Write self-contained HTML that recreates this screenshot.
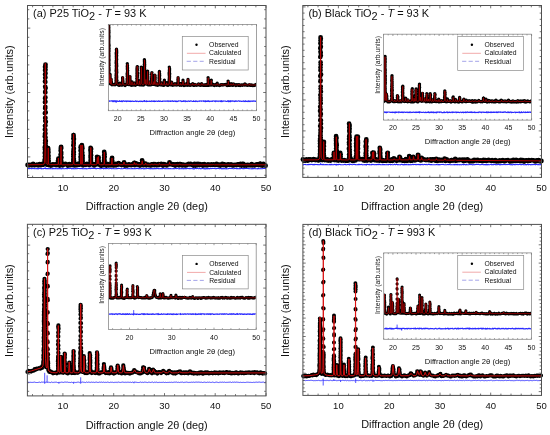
<!DOCTYPE html><html><head><meta charset="utf-8"><style>html,body{margin:0;padding:0;background:#fff;overflow:hidden}svg{display:block;will-change:transform}text{font-family:"Liberation Sans", sans-serif}</style></head><body>
<svg width="550" height="435" viewBox="0 0 550 435">
<rect width="550" height="435" fill="#fff"/>
<clipPath id="c1"><rect x="24.5" y="6" width="244.5" height="171"/></clipPath>
<g clip-path="url(#c1)"><polyline points="27.5,168.5 28,168.4 28.5,168.7 29,168.4 29.5,168.6 30,168.5 30.5,168.4 31.1,168.6 31.6,168.4 32.1,168.6 32.6,168.4 33.1,168.4 33.6,168.6 34.1,168.8 34.6,168.4 35.1,168.5 35.6,168.7 36.1,168.8 36.6,168.6 37.1,168.5 37.6,168.8 38.2,168.4 38.7,168.8 39.2,168.5 39.7,168.4 40.2,168.4 40.7,168.5 41.2,168.8 41.7,168.4 42.2,168.6 42.7,168.7 43.2,168.5 43.7,168.6 44.2,168.4 44.8,168.4 45.3,168.5 45.3,168.6 45.8,168.7 46.3,168.6 46.8,168.5 47.3,168.6 47.8,168.6 48.3,168.5 48.8,168.7 49.3,168.7 49.8,168.5 50.3,168.6 50.8,168.6 51.3,168.8 51.9,168.7 52.4,168.5 52.9,168.8 53.4,168.4 53.9,168.6 54.4,168.7 54.9,168.4 55.4,168.6 55.9,168.4 56.4,168.7 56.9,168.7 57.4,168.6 57.9,168.8 58.5,168.5 59,168.7 59.5,168.6 60,168.6 60.5,168.6 61,168.8 61,168.6 61.5,168.8 62,168.6 62.5,168.7 63,168.4 63.5,168.7 64,168.7 64.5,168.8 65.1,168.8 65.6,168.5 66.1,168.5 66.6,168.7 67.1,168.4 67.6,168.6 68.1,168.4 68.6,168.4 69.1,168.4 69.6,168.7 70.1,168.4 70.6,168.5 71.1,168.5 71.6,168.8 72.2,168.4 72.7,168.6 73.2,168.6 73.7,168.8 73.7,168.6 74.2,168.8 74.7,168.8 75.2,168.5 75.7,168.6 76.2,168.5 76.7,168.8 77.2,168.8 77.7,168.4 78.2,168.4 78.8,168.5 79.3,168.5 79.8,168.6 80.3,168.6 80.8,168.5 81.3,168.4 81.8,168.6 82.3,168.5 82.8,168.6 83.3,168.8 83.8,168.7 84.3,168.6 84.8,168.7 85.3,168.7 85.9,168.4 86.4,168.8 86.9,168.7 87.4,168.8 87.9,168.7 88.4,168.5 88.9,168.5 89.4,168.4 89.9,168.7 90.4,168.4 90.9,168.4 90.9,168.6 91.4,168.5 91.9,168.4 92.5,168.5 93,168.4 93.5,168.4 94,168.4 94.5,168.4 95,168.5 95.5,168.4 96,168.8 96.5,168.7 97,168.4 97.5,168.5 98,168.5 98.5,168.5 99,168.4 99.6,168.8 100.1,168.8 100.6,168.6 101.1,168.6 101.6,168.4 102.1,168.4 102.6,168.5 103.1,168.5 103.6,168.8 104.1,168.4 104.6,168.4 105.1,168.8 105.6,168.6 106.2,168.4 106.7,168.6 107.2,168.4 107.7,168.6 108.2,168.8 108.7,168.8 109.2,168.7 109.7,168.5 110.2,168.5 110.7,168.4 111.2,168.7 111.7,168.6 112.2,168.7 112.8,168.5 113.3,168.5 113.8,168.8 114.3,168.8 114.8,168.8 115.3,168.8 115.8,168.8 116.3,168.7 116.8,168.5 117.3,168.6 117.8,168.5 118.3,168.4 118.8,168.4 119.3,168.5 119.9,168.5 120.4,168.7 120.9,168.8 121.4,168.6 121.9,168.8 122.4,168.8 122.9,168.8 123.4,168.5 123.9,168.5 124.4,168.5 124.9,168.4 125.4,168.5 125.9,168.7 126.5,168.8 127,168.8 127.5,168.6 128,168.7 128.5,168.7 129,168.4 129.5,168.7 130,168.8 130.5,168.7 131,168.7 131.5,168.6 132,168.4 132.5,168.7 133,168.5 133.6,168.8 134.1,168.8 134.6,168.5 135.1,168.6 135.6,168.8 136.1,168.7 136.6,168.4 137.1,168.4 137.6,168.4 138.1,168.8 138.6,168.8 139.1,168.4 139.6,168.8 140.2,168.8 140.7,168.7 141.2,168.5 141.7,168.6 142.2,168.4 142.7,168.4 143.2,168.8 143.7,168.7 144.2,168.6 144.7,168.8 145.2,168.6 145.7,168.8 146.2,168.8 146.8,168.5 147.3,168.5 147.8,168.5 148.3,168.5 148.8,168.6 149.3,168.5 149.8,168.6 150.3,168.4 150.8,168.8 151.3,168.5 151.8,168.6 152.3,168.6 152.8,168.8 153.3,168.6 153.9,168.8 154.4,168.6 154.9,168.6 155.4,168.6 155.9,168.4 156.4,168.6 156.9,168.4 157.4,168.4 157.9,168.7 158.4,168.4 158.9,168.6 159.4,168.7 159.9,168.6 160.5,168.5 161,168.6 161.5,168.6 162,168.7 162.5,168.4 163,168.6 163.5,168.5 164,168.5 164.5,168.7 165,168.6 165.5,168.6 166,168.7 166.5,168.8 167,168.6 167.6,168.7 168.1,168.6 168.6,168.6 169.1,168.7 169.6,168.6 170.1,168.6 170.6,168.6 171.1,168.8 171.6,168.7 172.1,168.8 172.6,168.8 173.1,168.5 173.6,168.6 174.2,168.8 174.7,168.8 175.2,168.4 175.7,168.4 176.2,168.6 176.7,168.4 177.2,168.5 177.7,168.4 178.2,168.7 178.7,168.7 179.2,168.8 179.7,168.4 180.2,168.7 180.7,168.7 181.3,168.4 181.8,168.8 182.3,168.8 182.8,168.5 183.3,168.8 183.8,168.5 184.3,168.6 184.8,168.8 185.3,168.8 185.8,168.4 186.3,168.6 186.8,168.6 187.3,168.5 187.9,168.4 188.4,168.5 188.9,168.7 189.4,168.4 189.9,168.6 190.4,168.6 190.9,168.4 191.4,168.5 191.9,168.7 192.4,168.6 192.9,168.4 193.4,168.8 193.9,168.7 194.5,168.8 195,168.4 195.5,168.5 196,168.4 196.5,168.7 197,168.5 197.5,168.4 198,168.6 198.5,168.8 199,168.8 199.5,168.5 200,168.4 200.5,168.8 201,168.6 201.6,168.7 202.1,168.4 202.6,168.4 203.1,168.7 203.6,168.6 204.1,168.4 204.6,168.8 205.1,168.7 205.6,168.8 206.1,168.4 206.6,168.8 207.1,168.4 207.6,168.8 208.2,168.6 208.7,168.5 209.2,168.6 209.7,168.8 210.2,168.5 210.7,168.4 211.2,168.6 211.7,168.5 212.2,168.4 212.7,168.4 213.2,168.4 213.7,168.5 214.2,168.5 214.7,168.5 215.3,168.7 215.8,168.5 216.3,168.6 216.8,168.4 217.3,168.5 217.8,168.4 218.3,168.5 218.8,168.4 219.3,168.7 219.8,168.6 220.3,168.4 220.8,168.6 221.3,168.8 221.9,168.4 222.4,168.8 222.9,168.6 223.4,168.6 223.9,168.8 224.4,168.5 224.9,168.6 225.4,168.7 225.9,168.8 226.4,168.5 226.9,168.8 227.4,168.7 227.9,168.7 228.4,168.6 229,168.5 229.5,168.4 230,168.4 230.5,168.4 231,168.7 231.5,168.5 232,168.4 232.5,168.4 233,168.8 233.5,168.8 234,168.7 234.5,168.5 235,168.5 235.6,168.5 236.1,168.6 236.6,168.4 237.1,168.6 237.6,168.5 238.1,168.8 238.6,168.8 239.1,168.6 239.6,168.5 240.1,168.8 240.6,168.5 241.1,168.5 241.6,168.4 242.2,168.5 242.7,168.6 243.2,168.6 243.7,168.5 244.2,168.6 244.7,168.4 245.2,168.5 245.7,168.4 246.2,168.5 246.7,168.4 247.2,168.4 247.7,168.5 248.2,168.5 248.7,168.6 249.3,168.6 249.8,168.7 250.3,168.7 250.8,168.7 251.3,168.8 251.8,168.5 252.3,168.5 252.8,168.8 253.3,168.4 253.8,168.7 254.3,168.7 254.8,168.4 255.3,168.8 255.9,168.8 256.4,168.7 256.9,168.7 257.4,168.8 257.9,168.4 258.4,168.6 258.9,168.6 259.4,168.8 259.9,168.8 260.4,168.8 260.9,168.6 261.4,168.8 261.9,168.7 262.4,168.7 263,168.5 263.5,168.4 264,168.4 264.5,168.5 265,168.4 265.5,168.8 266,168.6" stroke="#2a2aff" stroke-width="1.1" fill="none"/><path d="M45.3 168.6v-1.5M61 168.6v-1M73.7 168.6v-1M90.9 168.6v-1" stroke="#2a2aff" stroke-width="0.8"/></g>
<g clip-path="url(#c1)">
<path d="M27.6 165h0M28.6 164.8h0M29.1 165.3h0M30.5 164.8h0M31.4 165.1h0M32.1 165.2h0M33.1 164h0M34.1 165.2h0M35 165.2h0M36.4 164.8h0M37 164.7h0M38.1 165.3h0M39.1 165h0M39.7 164.1h0M40.8 165.2h0M41.8 164.8h0M42.6 163.8h0M43.6 164.6h0M44.4 163.8h0M44.5 162.6h0M44.7 161.6h0M44.6 161h0M44.7 159.8h0M45.1 156.8h0M44.9 156.4h0M45.2 154.6h0M44.8 152.9h0M45.2 151.3h0M45 149.5h0M45 148.9h0M44.8 147.6h0M45 146.6h0M45.1 142.9h0M45.2 140.5h0M44.8 136.5h0M45 133.9h0M44.9 129.6h0M45 125.8h0M45.3 120.9h0M45.2 117.9h0M44.9 113.2h0M45.2 108.2h0M45 102.2h0M45.1 98.2h0M45.2 91.9h0M45.2 86.7h0M45 81.6h0M45.4 77.4h0M45.5 73.3h0M45.1 70.2h0M45.1 67.1h0M45.5 66.9h0M45.4 65.4h0M45.5 64.6h0M45.4 65.6h0M45.1 66.7h0M45.3 67.8h0M45.5 69.8h0M45.1 74.5h0M45.2 77.8h0M45.3 81.9h0M45.6 88h0M45.3 92.4h0M45.4 97.4h0M45.4 101.8h0M45.3 107h0M45.7 112.5h0M45.4 118h0M45.8 121.8h0M45.4 125.6h0M45.3 129.9h0M45.4 133.5h0M45.5 137.5h0M45.8 141h0M45.6 143.2h0M45.7 145.6h0M45.6 146.2h0M45.5 149h0M45.5 150.1h0M45.8 152.5h0M45.6 153h0M45.6 154.5h0M45.7 156.6h0M45.9 157.5h0M45.5 157.5h0M45.9 160.2h0M45.8 160.8h0M45.7 161.6h0M46.3 163.3h0M46.6 164.5h0M46.9 163.6h0M47.8 164.1h0M48.2 163.6h0M48.2 162h0M48.3 160h0M48.2 158.2h0M48.3 157.3h0M48.4 156.7h0M48.1 154.4h0M48.1 153.8h0M48.3 151.3h0M48 150.7h0M48.3 149.2h0M48.1 148.1h0M48.1 148.7h0M48.3 151h0M48.4 152.2h0M48.4 152.6h0M48.3 155.4h0M48.5 155.7h0M48.2 157.4h0M48.5 158.5h0M48.3 160.1h0M48.7 161h0M48.3 162.4h0M48.5 164.1h0M48.9 165.1h0M50.1 164.7h0M50.8 165.6h0M51.8 165.3h0M52.7 164.3h0M54 164.4h0M55.1 164.8h0M55.6 164.3h0M56.7 165.1h0M57.9 164.1h0M58.1 163.4h0M58.5 162h0M58 160.9h0M58.3 161.2h0M58.5 159.7h0M58.7 158.9h0M58.4 158.7h0M58.7 160.9h0M58.3 162h0M58.5 162.4h0M58.5 163.1h0M58.5 164.2h0M59.7 165.6h0M60.4 165.2h0M60.6 163h0M61 162.4h0M60.8 159.4h0M60.8 158.8h0M61.1 157.3h0M60.8 157.1h0M60.6 154.7h0M61.1 153.7h0M60.7 150.7h0M60.7 150.8h0M60.8 149h0M61.2 147.2h0M60.9 147.3h0M61.1 147h0M61.2 148.3h0M60.9 149.1h0M61.2 152.3h0M61.2 154h0M60.8 154.4h0M61.1 157.2h0M61.4 157.6h0M61 159h0M61.2 160.9h0M61 162.4h0M61.3 163.5h0M61.4 164.1h0M61.7 164.4h0M62.7 165.3h0M63.5 164.2h0M64.8 164.3h0M65.4 164h0M66.6 164.5h0M67.8 165.5h0M68.8 164.4h0M69.3 164.1h0M70.4 165.2h0M71.4 164.3h0M72.3 164.9h0M73.3 164.7h0M73.5 163.3h0M73.2 162.2h0M73.3 159.9h0M73.4 159h0M73.3 156.6h0M73.3 154.6h0M73.7 154.3h0M73.4 152.9h0M73.8 151.9h0M73.4 151.2h0M73.6 149h0M73.3 145.3h0M73.7 143.2h0M73.8 139.1h0M73.5 138h0M73.4 138.4h0M73.6 136.4h0M73.5 135.1h0M73.6 135.2h0M73.8 138.3h0M73.5 138.9h0M73.8 139.4h0M73.6 141.9h0M73.6 144.9h0M73.8 148.3h0M73.6 149.8h0M73.7 152.2h0M73.6 152.7h0M73.6 154.7h0M73.8 154.4h0M73.6 156.8h0M73.8 158.8h0M73.6 159.2h0M73.9 160.6h0M73.8 161.9h0M74.2 163h0M74.1 164h0M74.9 165.4h0M76.1 164.5h0M76.7 165.2h0M77.6 163.9h0M79 164.6h0M79.9 164.6h0M80.7 164.1h0M80.5 162.1h0M80.7 162.3h0M80.9 159.7h0M80.8 159.2h0M80.7 157.5h0M80.6 156.8h0M81 154.4h0M80.8 154h0M81 151.1h0M80.6 150.7h0M81.1 148.2h0M80.6 147.6h0M80.8 146.4h0M81 148.3h0M80.8 149.8h0M80.8 150.9h0M81.2 153.4h0M80.8 154.1h0M81 156.2h0M81 157h0M80.9 159.4h0M81.3 159.3h0M81.1 162.2h0M80.9 163.4h0M81 164h0M82 163.4h0M81.9 161.6h0M82.1 159.9h0M82.1 158.9h0M82 156.8h0M82.1 156.2h0M81.9 155h0M82.3 152.7h0M81.9 151h0M81.9 148.6h0M82.1 147h0M82.1 146.4h0M81.9 145.2h0M82 147.2h0M82.4 148.2h0M82 149.9h0M82.2 152.5h0M82.1 154.1h0M82.6 155.6h0M82.5 156.2h0M82.6 158.1h0M82.6 160.1h0M82.2 161h0M82.6 161.2h0M82.4 163.4h0M82.3 164.7h0M83.1 165.3h0M83.9 164.8h0M85.3 164.3h0M85.9 164.8h0M86.9 164h0M87.8 164.2h0M89.2 165.1h0M90.1 164.1h0M90.6 163.2h0M90.6 163.1h0M90.5 162.4h0M90.6 160.2h0M90.8 158.3h0M90.9 158h0M90.6 156.9h0M90.6 155.8h0M90.7 153.1h0M90.9 151.7h0M90.5 150.8h0M90.5 149.7h0M90.6 147.9h0M91.1 148.9h0M90.9 149.6h0M90.6 150.5h0M90.7 153h0M90.8 154.4h0M91.1 155.2h0M90.8 157.6h0M90.7 157.7h0M90.9 159h0M90.9 160.2h0M91 162.4h0M90.9 163.7h0M91.2 163.7h0M92.3 164.3h0M92.8 164h0M94.1 165.4h0M95.1 164.6h0M95.8 163.8h0M96.8 164.3h0M96.8 163.5h0M96.9 162.8h0M97.2 160.5h0M97.3 159h0M97.2 158.5h0M97.1 156.8h0M97.6 157.8h0M97.5 160.6h0M97.3 160.4h0M97.6 162h0M97.8 163.6h0M97.9 161.8h0M98 160.4h0M98.4 160.5h0M98.4 158.1h0M98.5 158.4h0M98.3 157.4h0M98.6 157.5h0M98.4 158.5h0M98.4 159.7h0M98.8 161.3h0M99 162.5h0M98.7 163.2h0M99 164.6h0M99.7 164.3h0M100.8 165.6h0M101.5 165.5h0M102.4 164.3h0M103.4 165.1h0M104.3 164.3h0M104 163.2h0M104.1 160.8h0M104.4 159.8h0M104.3 158.9h0M104.5 157.4h0M104.4 156.7h0M104.4 155.1h0M104.4 154.2h0M104.2 152h0M104.4 153h0M104.6 154.2h0M104.2 155.2h0M104.7 156.8h0M104.2 157.4h0M104.2 159.6h0M104.5 160.6h0M104.6 161h0M104.6 162.6h0M104.8 164.5h0M105.4 163.9h0M106.3 165.5h0M107.3 164.1h0M107.9 164.1h0M108.8 165.4h0M110.1 165h0M111.1 165h0M111.6 163.5h0M111.6 163.5h0M111.7 161.4h0M111.9 159.6h0M111.8 158.9h0M112.1 157.9h0M112 160.1h0M112.1 161.1h0M112.2 160.8h0M112.1 162.6h0M112.3 163.4h0M112.5 164.7h0M113.2 165.4h0M114.1 165.4h0M115.1 163.9h0M116 165.3h0M117.4 163.9h0M118.1 164.6h0M118.6 163.2h0M119 164.3h0M120.1 164.4h0M121.1 164.4h0M121.7 165.1h0M122.8 164.1h0M123.7 163.5h0M123.9 163.6h0M124.1 162.5h0M124.2 163h0M124.4 164.9h0M124.9 165.5h0M125.9 164.3h0M127 165.5h0M128.1 164.6h0M129.2 164.3h0M129.9 164.9h0M131.1 165.2h0M132 164.5h0M132.8 164.2h0M134 164.9h0M134.2 163h0M134.2 163.1h0M134.6 162.9h0M134.8 165.2h0M135.6 163.8h0M135.9 163.8h0M136.6 163.7h0M137.1 164.3h0M138.1 164.8h0M139 164.5h0M140 165.6h0M141.2 164h0M142 163.3h0M141.8 163.9h0M142.2 162.5h0M142.1 160.5h0M142.4 161.2h0M142.3 162.7h0M142.3 163.7h0M143.2 165h0M144 165h0M145 164.1h0M145.5 163.7h0M146.3 165.3h0M147.1 164.9h0M148.2 164.6h0M148.9 165.2h0M150.2 165.3h0M151.1 165.4h0M151.7 164.4h0M152.4 164.4h0M153.4 164.1h0M154.3 165.2h0M154.9 164.1h0M155.2 164.5h0M156.3 165h0M157.2 165.1h0M158.4 164.2h0M159.2 164.9h0M159.9 164.7h0M161.2 164h0M161.9 164.2h0M163 165.6h0M163.9 164.1h0M164.8 164.9h0M165.9 164.8h0M166.8 165.4h0M167.7 164.6h0M168.9 164.2h0M169.3 163.8h0M169.5 162.3h0M170.1 163.5h0M169.9 164.3h0M171.1 163.9h0M172.1 164.6h0M173.2 164.5h0M173.9 164.3h0M175.1 165.6h0M176 164.3h0M177.1 164.6h0M177.7 164.1h0M179 165.3h0M179.6 164.1h0M180.3 164.2h0M181.5 164.5h0M182.3 165.4h0M183.3 164.7h0M184 164.9h0M184.9 165.4h0M186 165.4h0M186.9 164.6h0M187.8 164.7h0M188.8 163.9h0M190 164.4h0M190.6 163.9h0M191.5 164.6h0M192.6 165.1h0M193.4 165.6h0M194.6 164h0M195.6 165.5h0M196.5 164.2h0M197.5 165h0M198 163.9h0M199.5 165.1h0M200 164.1h0M200.9 164.3h0M202.2 164.5h0M202.9 165.5h0M204.2 164.2h0M205.2 165h0M206.1 165.1h0M207.1 165.3h0M208 164.3h0M208.9 164.9h0M209.9 164.7h0M210.9 164.9h0M211.6 164.3h0M212.5 164.7h0M213.4 164.5h0M214.3 164.8h0M215.5 164.9h0M216.6 163.9h0M217.6 164.7h0M218.4 165.1h0M219.5 164.6h0M220.2 165.6h0M221 165h0M222.3 164h0M223.2 165.1h0M224.4 164.5h0M225.3 164.8h0M226 165.5h0M226.8 165.2h0M228 164.5h0M229.1 164.6h0M229.9 164.8h0M231 164.3h0M231.8 164.7h0M232.8 165.4h0M233.6 165.4h0M234.6 164.8h0M235.5 164.8h0M236.8 165.1h0M237.7 164.5h0M238.4 164.4h0M239.5 165h0M240.6 164h0M241.5 165.5h0M242.4 164h0M243.2 163.9h0M244.1 165.6h0M245.3 165.1h0M246.3 165.5h0M247.2 165h0M248.2 165.2h0M249.1 165.1h0M249.9 165.1h0M251 165.3h0M251.7 164.2h0M252.6 165.3h0M254.1 165.1h0M254.7 165.4h0M255.9 164.9h0M256.6 164.4h0M257.7 164.5h0M258.6 165.1h0M259.8 164h0M260.6 164h0M261.3 165.4h0M262.5 165.6h0M263.4 163.9h0M264.3 165h0M265.6 165.7h0" stroke="#000" stroke-width="4.8" stroke-linecap="round" fill="none"/>
<polyline points="27.5,164.8 42.6,164.6 44,164.1 44.6,162.6 45,148.1 45.3,63.4 45.8,156.8 46,162.5 46.4,163.7 47,164.3 47.8,164.4 48,163.6 48.3,147.9 48.5,162.2 48.8,164.4 49.3,164.6 50.6,164.7 58,164.6 58.2,163.7 58.4,158 58.7,164.4 59.4,164.7 60.5,164.5 60.8,161.8 61,146.5 61.2,161.8 61.4,164.4 62.3,164.8 66.4,164.8 72,164.8 73,164.5 73.3,163.7 73.4,160.8 73.6,134 73.9,162.7 74.1,164.3 74.8,164.7 79.6,164.7 80.2,164.6 80.5,164.2 80.9,145 81.1,163.2 81.3,164.3 81.6,164.4 81.8,164.2 82.2,145 82.5,163.3 82.7,164.4 83.4,164.7 89.4,164.8 90.1,164.7 90.4,164.3 90.8,147.5 91,163.4 91.2,164.5 91.9,164.7 95.5,164.7 96.6,164.4 96.9,163.2 97.3,157.4 97.9,163.8 98.4,156.4 98.8,162.9 99.1,164.4 100.7,164.8 103.2,164.7 103.9,164.5 104.1,163 104.3,152 104.6,163.8 104.8,164.5 105.4,164.8 111.6,164.6 112,158 112.2,164.3 112.4,164.7 113,164.8 117.9,164.7 118.6,163.5 119.2,164.7 123.3,164.7 123.6,164.2 124,162 124.4,164.3 124.9,164.7 133.6,164.7 133.9,164.3 134.3,162.4 134.7,164.3 135,164.7 135.6,164.6 136.1,163.3 136.8,164.7 141.2,164.7 141.5,164.6 141.7,164.2 142.2,160.7 142.7,164.4 143,164.7 143.7,164.8 145.2,164.6 145.7,163 146.2,164.5 146.7,164.8 151.2,164.8 151.8,163.8 152.4,164.7 154.1,164.8 154.5,164.6 154.9,163.8 155.5,164.7 158.6,164.8 159,164.6 159.4,163.5 159.8,164.5 160.2,164.8 168.6,164.8 169.1,164.4 169.5,162.4 170.1,164.6 171.1,164.8 179,164.8 179.3,164.6 179.7,163.8 180.2,164.7 181.2,164.8 190.1,164.8 190.9,164.1 191.3,164.7 191.8,164.8 212.2,164.8 212.8,164.7 213.2,164.1 213.7,164.7 214.5,164.8 266,164.8" stroke="#b80000" stroke-width="0.95" fill="none" stroke-linejoin="round"/>
</g>
<rect x="27.5" y="5.5" width="238.5" height="172" fill="none" stroke="#505050" stroke-width="1.0"/>
<path d="M32.6 177.5v-1.8M32.6 5.5v1.8M42.7 177.5v-1.8M42.7 5.5v1.8M52.9 177.5v-1.8M52.9 5.5v1.8M63 177.5v-2.8M63 5.5v2.8M73.2 177.5v-1.8M73.2 5.5v1.8M83.3 177.5v-1.8M83.3 5.5v1.8M93.5 177.5v-1.8M93.5 5.5v1.8M103.6 177.5v-1.8M103.6 5.5v1.8M113.8 177.5v-2.8M113.8 5.5v2.8M123.9 177.5v-1.8M123.9 5.5v1.8M134.1 177.5v-1.8M134.1 5.5v1.8M144.2 177.5v-1.8M144.2 5.5v1.8M154.4 177.5v-1.8M154.4 5.5v1.8M164.5 177.5v-2.8M164.5 5.5v2.8M174.7 177.5v-1.8M174.7 5.5v1.8M184.8 177.5v-1.8M184.8 5.5v1.8M195 177.5v-1.8M195 5.5v1.8M205.1 177.5v-1.8M205.1 5.5v1.8M215.3 177.5v-2.8M215.3 5.5v2.8M225.4 177.5v-1.8M225.4 5.5v1.8M235.6 177.5v-1.8M235.6 5.5v1.8M245.7 177.5v-1.8M245.7 5.5v1.8M255.9 177.5v-1.8M255.9 5.5v1.8M266 177.5v-2.8M266 5.5v2.8" stroke="#505050" stroke-width="0.8"/>
<path d="M27.5 175.3h1.8M266 175.3h-1.8M27.5 166.1h1.8M266 166.1h-1.8M27.5 156.9h2.8M266 156.9h-2.8M27.5 147.7h1.8M266 147.7h-1.8M27.5 138.5h1.8M266 138.5h-1.8M27.5 129.3h1.8M266 129.3h-1.8M27.5 120.1h1.8M266 120.1h-1.8M27.5 110.9h1.8M266 110.9h-1.8M27.5 101.7h1.8M266 101.7h-1.8M27.5 92.5h2.8M266 92.5h-2.8M27.5 83.3h1.8M266 83.3h-1.8M27.5 74.1h1.8M266 74.1h-1.8M27.5 64.9h1.8M266 64.9h-1.8M27.5 55.7h1.8M266 55.7h-1.8M27.5 46.5h1.8M266 46.5h-1.8M27.5 37.3h1.8M266 37.3h-1.8M27.5 28.1h2.8M266 28.1h-2.8M27.5 18.9h1.8M266 18.9h-1.8M27.5 9.7h1.8M266 9.7h-1.8" stroke="#505050" stroke-width="0.8"/>
<text x="63" y="190.9" font-size="9.5" text-anchor="middle" fill="#111" >10</text>
<text x="113.8" y="190.9" font-size="9.5" text-anchor="middle" fill="#111" >20</text>
<text x="164.5" y="190.9" font-size="9.5" text-anchor="middle" fill="#111" >30</text>
<text x="215.3" y="190.9" font-size="9.5" text-anchor="middle" fill="#111" >40</text>
<text x="266" y="190.9" font-size="9.5" text-anchor="middle" fill="#111" >50</text>
<text x="146.8" y="210.1" font-size="10.9" text-anchor="middle" fill="#111" >Diffraction angle 2&#952; (deg)</text>
<text transform="translate(13.4 91.8) rotate(-90)" font-size="10.9" text-anchor="middle" fill="#111">Intensity (arb.units)</text>
<text x="33.1" y="17.1" font-size="10.95" fill="#111">(a) P25 TiO<tspan dy="2.6">2</tspan><tspan dy="-2.6"> - </tspan><tspan font-style="italic">T</tspan> = 93 K</text>
<rect x="108.4" y="24.4" width="148.1" height="86.3" fill="#fff"/>
<clipPath id="c2"><rect x="108.8" y="24.8" width="147.3" height="85.5"/></clipPath>
<g clip-path="url(#c2)"><polyline points="108.4,101.2 108.9,101.1 109.3,100.9 109.8,101.3 110.3,101 110.7,101 111.2,100.9 111.6,100.9 112.1,101.3 112.6,100.9 113,101.5 113.5,100.9 114,101.5 114.4,100.9 114.9,100.9 115.3,101.4 115.8,101 116.3,101.2 116.3,101.4 116.7,101 117.2,100.9 117.7,101.4 118.1,101.3 118.6,101.4 119,101.4 119.5,100.9 120,101.3 120.4,101.3 120.9,101.2 121.4,101.5 121.8,101 122.3,101.5 122.7,101.4 123.2,100.9 123.7,100.9 124.1,101.3 124.6,101.4 125.1,100.9 125.5,101.1 126,101.4 126.4,101 126.9,101.5 127.4,101.2 127.8,100.9 128.3,101.1 128.8,101.3 129.2,101.2 129.7,101.3 130.2,101 130.6,101.4 131.1,101.1 131.5,101.3 132,101.3 132.5,101.1 132.9,101.1 133.4,101.4 133.9,101.5 134.3,101.4 134.8,101.2 135.2,101.1 135.7,100.9 136.2,101.5 136.6,101.3 137.1,101.4 137.6,101.1 138,101.3 138.5,101.5 138.9,101.4 139.4,101.3 139.9,101.1 140.3,101.1 140.8,101.5 141.3,101.1 141.7,101.3 142.2,101.3 142.6,101.5 143.1,101.4 143.6,101 144,100.9 144.5,101.2 144.5,101 145,101.1 145.4,101.3 145.9,101.4 146.4,101.5 146.8,100.9 147.3,101.4 147.7,101.4 148.2,101.5 148.7,101.3 149.1,101 149.6,101.4 150.1,101.4 150.5,101.3 151,101.5 151.4,101.1 151.9,100.9 152.4,101.2 152.8,101.4 153.3,101 153.8,101.4 154.2,101.5 154.7,101 155.1,101.3 155.6,101.3 156.1,101.2 156.5,101 157,101 157.5,101.4 157.9,101.4 158.4,101.2 158.8,100.9 159.3,101.4 159.8,101.4 160.2,101 160.7,101.3 161.2,101.5 161.6,101.5 162.1,101.2 162.5,101.2 163,101.3 163.5,101 163.9,101 164.4,101 164.9,101.3 165.3,101.1 165.8,101.2 166.3,101.1 166.7,101.2 167.2,101 167.6,100.9 168.1,101.5 168.6,101.1 169,100.9 169.5,101.3 170,101.4 170.4,101 170.9,101.3 171.3,101.1 171.8,101.2 172.3,100.9 172.7,100.9 173.2,101.5 173.7,101.5 174.1,101.2 174.6,101.2 175,101 175.5,101.4 176,101.1 176.4,101.5 176.9,101.4 177.4,101.4 177.8,101.5 178.3,101 178.7,100.9 179.2,101 179.7,101 180.1,100.9 180.6,100.9 181.1,101.2 181.5,101.5 182,101.2 182.5,101.5 182.9,101.5 183.4,100.9 183.8,101.3 184.3,101.1 184.8,100.9 185.2,101.5 185.7,101 186.2,101.2 186.6,101.3 187.1,101.5 187.5,101.3 188,101.1 188.5,101.2 188.9,101 189.4,101.5 189.9,101.5 190.3,101 190.8,100.9 191.2,101 191.7,101.1 192.2,101.5 192.6,101.5 193.1,101.4 193.6,100.9 194,101.4 194.5,101.3 194.9,101.3 195.4,101.5 195.9,100.9 196.3,101 196.8,101.4 197.3,101.5 197.7,101.3 198.2,101.1 198.6,101.3 199.1,101.4 199.6,100.9 200,101.1 200.5,101 201,100.9 201.4,101.2 201.9,101 202.4,101 202.8,101 203.3,101.3 203.7,100.9 204.2,101.4 204.7,101 205.1,100.9 205.6,101.5 206.1,101 206.5,101.5 207,101.5 207.4,101.5 207.9,100.9 208.4,101.2 208.8,100.9 209.3,101.5 209.8,101.4 210.2,101.3 210.7,101.2 211.1,101.1 211.6,101.4 212.1,101.2 212.5,101.3 213,100.9 213.5,101 213.9,100.9 214.4,101.3 214.8,101.2 215.3,101 215.8,101.5 216.2,101 216.7,101.1 217.2,101 217.6,101 218.1,101.4 218.5,101.1 219,101 219.5,101.2 219.9,101.1 220.4,101.5 220.9,100.9 221.3,101.5 221.8,100.9 222.3,101.5 222.7,101.3 223.2,101 223.6,101.2 224.1,101.1 224.6,101 225,101 225.5,101.1 226,101.5 226.4,101.5 226.9,101.5 227.3,100.9 227.8,101.1 228.3,101.5 228.7,100.9 229.2,101.4 229.7,101.1 230.1,101.5 230.6,100.9 231,101.4 231.5,101.1 232,100.9 232.4,100.9 232.9,101.4 233.4,101.2 233.8,101 234.3,101.2 234.7,101.5 235.2,101 235.7,101.2 236.1,100.9 236.6,101 237.1,101.4 237.5,101.3 238,101 238.5,100.9 238.9,100.9 239.4,101.3 239.8,101.2 240.3,101 240.8,101 241.2,101.3 241.7,101.3 242.2,101.4 242.6,101.3 243.1,101 243.5,100.9 244,101.4 244.5,101.1 244.9,101.4 245.4,100.9 245.9,101.4 246.3,101.1 246.8,101.4 247.2,101.5 247.7,101.2 248.2,100.9 248.6,101.5 249.1,101.2 249.6,101.5 250,101 250.5,101 250.9,101.4 251.4,101.1 251.9,101 252.3,101.1 252.8,101.3 253.3,100.9 253.7,101.2 254.2,101.2 254.6,101.2 255.1,100.9 255.6,101.4 256,101.4 256.5,101.5" stroke="#2a2aff" stroke-width="1.2" fill="none"/><path d="M116.3 101.2v1.5M144.5 101.2v-1.2" stroke="#2a2aff" stroke-width="0.8"/></g>
<g clip-path="url(#c2)">
<path d="M108.3 75.6h0M108.4 74.7h0M108.3 74h0M108.6 72.6h0M108.4 71.8h0M108.5 70.3h0M108.6 69.7h0M108.3 68.7h0M108.4 68.7h0M108.3 66.9h0M108.5 66.2h0M108.3 65.8h0M108.5 64.9h0M108.6 63.5h0M108.6 63.4h0M108.3 61.9h0M108.5 61.6h0M108.4 60.3h0M108.5 59.5h0M108.5 59.6h0M108.4 58.4h0M108.6 57.1h0M108.6 57.2h0M108.5 55.8h0M108.7 55.1h0M108.5 54.8h0M108.6 53.2h0M108.5 52.4h0M108.5 52.3h0M108.7 51.4h0M108.7 50.5h0M108.4 49.3h0M108.7 49h0M108.5 47.5h0M108.6 46.6h0M108.6 45.4h0M108.5 45.1h0M108.4 43.9h0M108.7 43.8h0M108.7 42.8h0M108.7 42.3h0M108.7 40.5h0M108.6 39.9h0M108.7 39.1h0M108.6 39.1h0M108.6 37.5h0M108.6 36.9h0M108.8 35.9h0M108.5 35.6h0M108.5 34.7h0M108.8 33.8h0M108.5 32.9h0M108.6 31.7h0M108.5 30.9h0M108.5 30.4h0M108.5 29.4h0M108.5 29h0M108.8 28.3h0M108.7 27.5h0M108.5 26.7h0M108.6 25.7h0M108.7 24.8h0M108.6 23.7h0M108.6 23.2h0M108.6 22.4h0M108.5 21.3h0M108.8 20.3h0M108.7 19.8h0M108.6 19.6h0M108.6 18.5h0M108.6 16.8h0M108.8 16.4h0M108.5 15.4h0M108.7 14.9h0M108.6 13.3h0M108.9 12.9h0M108.6 11.5h0M108.7 12.9h0M108.8 14h0M108.9 14.6h0M108.8 15.8h0M108.9 16.4h0M108.9 17.6h0M108.9 17.7h0M108.9 18.4h0M108.9 19.9h0M108.8 21.2h0M108.8 21.4h0M108.9 22.7h0M108.8 23h0M108.8 23.9h0M108.9 24.5h0M108.8 25.7h0M108.8 26.2h0M108.9 27.7h0M108.8 28h0M108.7 28.7h0M108.7 29.8h0M108.9 30h0M109 31.1h0M109 32.5h0M109 32.6h0M108.8 34.2h0M108.7 34h0M108.9 35.3h0M109 36.5h0M108.9 37.6h0M108.9 37.8h0M108.9 38.4h0M108.8 39.5h0M108.8 40.7h0M108.9 41h0M108.7 41.6h0M108.8 42.7h0M108.9 43.9h0M109 44.3h0M108.9 45.2h0M109.1 45.7h0M108.9 47.1h0M108.8 47.4h0M109.1 48.8h0M108.9 48.8h0M109 50.3h0M109 51.5h0M109 51.6h0M108.8 52.3h0M108.9 53.4h0M108.8 53.8h0M109 55.1h0M108.9 56.4h0M109 56.1h0M108.9 57.8h0M108.9 58.5h0M108.8 58.8h0M109.1 60h0M109 60.3h0M108.9 61.6h0M108.9 62.5h0M109 63.7h0M109 63.8h0M108.8 64.4h0M109.1 65.2h0M108.8 66.1h0M109 67.7h0M109 68.6h0M108.8 68.5h0M109.1 69.7h0M109.1 70.6h0M108.9 71.4h0M108.9 73h0M109.1 73.3h0M109 74.2h0M108.9 75.7h0M109.1 76.7h0M109.1 77.2h0M109 77.4h0M109.3 79.2h0M109.1 80.1h0M109.3 80.4h0M109.3 82.4h0M109.4 83.3h0M109.7 81.1h0M109.9 79.6h0M109.8 79.5h0M109.9 78.6h0M109.8 76.9h0M109.9 76h0M110.1 74.5h0M110.1 75.2h0M110.1 76.4h0M110.1 77h0M110 78.8h0M110.1 79h0M110.1 79.9h0M110.2 81h0M110.4 82.4h0M110.3 83.8h0M110.8 82.6h0M111.1 81.6h0M111 81.4h0M111.2 79.5h0M111.1 79.2h0M111.2 80.5h0M111.2 81.7h0M111.4 81.8h0M111.4 82.6h0M111.6 83.7h0M112 84.8h0M112.6 84.5h0M113.5 84.5h0M114.4 84.4h0M115 84.8h0M115.6 84.6h0M115.9 83.5h0M116.1 82.2h0M116 81.1h0M116 80.6h0M116.1 79.3h0M116 78.1h0M116.1 77.2h0M116.1 75.8h0M116.1 75.1h0M116.1 74.9h0M116.2 73.7h0M116.4 73.3h0M116.4 72.6h0M116.1 71.1h0M116.1 70.8h0M116.3 69.6h0M116.2 69.1h0M116.4 67.7h0M116.4 67h0M116.3 65.9h0M116.2 65.9h0M116.4 64.8h0M116.1 63.1h0M116.2 62.5h0M116.3 61.8h0M116.2 60.9h0M116.4 59.9h0M116.5 59.5h0M116.4 58.3h0M116.3 58h0M116.3 56.3h0M116.5 56.4h0M116.3 54.7h0M116.5 54.6h0M116.2 53.3h0M116.3 53.1h0M116.3 52.5h0M116.5 50.6h0M116.5 49.8h0M116.5 49.2h0M116.4 49.5h0M116.7 51h0M116.7 52.2h0M116.6 53.2h0M116.6 53.5h0M116.4 54.7h0M116.5 55.3h0M116.7 55.6h0M116.6 56.3h0M116.6 58.1h0M116.5 58.6h0M116.7 59.6h0M116.6 60h0M116.4 61h0M116.5 61.6h0M116.5 62.4h0M116.7 63.9h0M116.5 64.2h0M116.6 65.3h0M116.8 66.1h0M116.5 67.6h0M116.5 68.1h0M116.6 69.3h0M116.7 70.1h0M116.5 70.8h0M116.7 71.4h0M116.8 72.6h0M116.5 72.8h0M116.6 73.5h0M116.5 74.4h0M116.6 75.7h0M116.7 75.9h0M116.7 77.1h0M116.7 77.6h0M116.6 78.5h0M117 80.5h0M116.7 81.8h0M117 82.5h0M116.8 83.3h0M117.1 83.7h0M117.7 84.1h0M118.5 85h0M119.2 85.4h0M119.8 84h0M119.8 83.1h0M120 84.6h0M120.8 84.6h0M121.3 85.1h0M122.3 85.1h0M122.3 83.7h0M122.6 82.9h0M122.5 81.2h0M122.7 79.9h0M122.6 78.7h0M122.6 77.7h0M122.7 78.1h0M122.9 80.3h0M123 81.8h0M123.1 83.2h0M123 83.4h0M122.9 84h0M123.6 84.3h0M124.4 84.5h0M125.1 85.5h0M125.7 84.3h0M126.6 84.2h0M127 83.2h0M127.2 83.4h0M127.2 82.2h0M127.1 81.2h0M127.2 79.9h0M127.1 78.9h0M127.3 78.5h0M127.4 76.8h0M127.2 76.2h0M127.3 75.2h0M127.1 74h0M127.2 73.6h0M127.5 73.2h0M127.4 72.3h0M127.5 70.9h0M127.4 69.3h0M127.4 69h0M127.3 68.1h0M127.5 67.2h0M127.4 66.1h0M127.3 66h0M127.3 63.8h0M127.5 65.5h0M127.3 66.5h0M127.4 67.3h0M127.5 68h0M127.5 68.7h0M127.4 69.4h0M127.7 70.8h0M127.4 72.2h0M127.5 72.2h0M127.6 73.3h0M127.6 74.5h0M127.5 75.5h0M127.5 76.3h0M127.7 76.7h0M127.6 77.6h0M127.6 79.5h0M127.7 80.2h0M127.8 80.5h0M127.9 82.5h0M127.6 83.4h0M127.8 83.4h0M128.4 84.6h0M129 84.3h0M129.6 83.5h0M129.5 83h0M129.5 82.4h0M129.6 80.8h0M129.9 79.4h0M129.9 78.8h0M130 77.9h0M130 76.8h0M129.9 78.1h0M130 79h0M130.1 79.9h0M130 80.9h0M130.2 82.8h0M130.3 82.6h0M130.3 83.6h0M130.7 85.1h0M131.4 85.3h0M131.8 83.7h0M131.8 83h0M132.1 82h0M132 82.5h0M132.1 84.4h0M132.4 84.8h0M133.2 85.1h0M134 84.2h0M134.3 83.7h0M134.3 83.3h0M134.6 83.1h0M134.5 84.1h0M135.3 85.3h0M136.2 84.2h0M136.5 84.6h0M136.9 83.1h0M136.9 80.9h0M137.1 80.3h0M137.1 79.7h0M136.8 78.5h0M136.9 78.4h0M137 76.5h0M136.9 75.9h0M137 75h0M137 73.7h0M136.9 73.1h0M137 71.6h0M137.1 71.8h0M136.9 70h0M137.2 69.1h0M137 68.4h0M137.1 67.5h0M137.2 66.7h0M137.4 66.8h0M137.3 68.7h0M137.4 69.7h0M137.3 70.5h0M137.2 71h0M137.4 72.6h0M137.5 73.2h0M137.3 74.2h0M137.4 75h0M137.4 75.8h0M137.4 77h0M137.2 77.7h0M137.3 79.3h0M137.4 79.4h0M137.3 80.1h0M137.4 80.9h0M137.3 82.9h0M137.6 83.6h0M137.9 84.2h0M138.4 84.2h0M139.1 83.8h0M139.3 83.2h0M139.5 81.4h0M139.6 80.8h0M139.3 81.2h0M139.6 83h0M139.6 84h0M139.8 84.9h0M140.4 84.6h0M141.1 83.4h0M141 82h0M141 81.2h0M141.2 80.4h0M141.1 79.5h0M141.2 79.1h0M141.3 77.1h0M141.3 77.1h0M141.3 75h0M141.4 75h0M141.2 73.2h0M141.2 72.9h0M141.4 72.2h0M141.5 70.9h0M141.3 70.6h0M141.4 69.2h0M141.4 68.2h0M141.2 67.1h0M141.3 68.5h0M141.4 69.3h0M141.5 70h0M141.5 70.6h0M141.7 72.1h0M141.7 72.3h0M141.6 73.9h0M141.5 74h0M141.4 75.1h0M141.7 76h0M141.7 77.4h0M141.6 78.8h0M141.6 80.1h0M141.7 80.5h0M141.8 81.2h0M141.8 82.9h0M141.9 83.4h0M142.1 85h0M142.7 84.5h0M143.5 85.1h0M143.8 83.3h0M144.1 83.3h0M144.3 81.5h0M144.4 79.8h0M144.3 78.4h0M144.1 77.3h0M144.1 76.9h0M144.3 75.7h0M144.5 75.1h0M144.2 74.1h0M144.4 74.1h0M144.2 72.2h0M144.4 71.6h0M144.5 71h0M144.4 70h0M144.5 69.2h0M144.3 68.8h0M144.2 67.7h0M144.2 66.6h0M144.4 66h0M144.3 64.6h0M144.4 64h0M144.6 62.7h0M144.4 61.2h0M144.4 60.6h0M144.4 59.6h0M144.6 60.9h0M144.5 62.1h0M144.5 62.6h0M144.4 64h0M144.7 64.2h0M144.7 65.9h0M144.5 66.2h0M144.6 67.9h0M144.5 68.5h0M144.7 69.2h0M144.7 70.6h0M144.5 71.5h0M144.6 72.2h0M144.8 72.3h0M144.8 74.2h0M144.6 73.9h0M144.6 75.8h0M144.5 76.6h0M144.6 77.2h0M144.6 77.3h0M144.8 78.4h0M144.7 80.6h0M144.9 82.1h0M145 82h0M144.9 83.8h0M145.3 83.7h0M145.7 82.9h0M145.7 81.2h0M145.6 81.3h0M145.8 80.3h0M145.8 80.7h0M145.9 81.6h0M146 82.8h0M146 84.1h0M146.4 84.1h0M147.1 84.2h0M147.5 82.9h0M147.3 82.8h0M147.6 81.3h0M147.4 79.7h0M147.4 78.7h0M147.3 78.1h0M147.5 77h0M147.5 75.5h0M147.6 75.4h0M147.6 74.4h0M147.6 73.9h0M147.7 72.5h0M147.6 71.1h0M147.7 72.8h0M147.7 73.1h0M147.7 73.9h0M147.9 74.6h0M147.8 76.6h0M147.7 77h0M147.8 77.8h0M147.7 78.8h0M148 80.5h0M148 80.5h0M148 82.1h0M148 83.2h0M148 84.5h0M148.3 84.9h0M149.3 84.6h0M149.4 84.1h0M149.4 82.6h0M149.9 83.4h0M150 84.3h0M150.6 84.9h0M151.3 84.1h0M151.5 83.3h0M151.4 82.7h0M151.4 81.8h0M151.5 80.8h0M151.6 79.6h0M151.5 78.2h0M151.8 77.6h0M151.7 76.4h0M151.8 74.9h0M151.6 74.6h0M151.7 73.3h0M151.9 72.8h0M151.9 72.6h0M151.8 74.6h0M152 74.7h0M151.8 76h0M151.8 77.4h0M152 78.6h0M151.9 79.2h0M151.9 81.1h0M152.1 81.3h0M152 82.9h0M152.2 82.9h0M152.2 83.9h0M152.6 84.4h0M153.3 84.4h0M153.5 82.9h0M153.6 82.4h0M153.8 83.1h0M154.2 84.1h0M154.5 83.2h0M154.8 81.4h0M154.8 80.9h0M154.6 79.5h0M154.9 78.9h0M154.8 77.2h0M154.8 76.6h0M154.9 75.7h0M154.8 75.3h0M155.1 75.8h0M155 76.9h0M155.2 77.4h0M155.2 79h0M155 79.8h0M155 80h0M155.2 81.8h0M155.2 82.9h0M155.4 84.3h0M155.4 84.8h0M156.4 84.8h0M156.9 83.9h0M156.9 83.7h0M157.2 84h0M157.4 85.2h0M158.3 85.1h0M158.9 83.9h0M159.1 83.8h0M159.3 82.7h0M159.1 80.7h0M159.1 80.6h0M159.1 78.8h0M159.4 78.2h0M159.1 77.2h0M159.4 76.1h0M159.2 75.5h0M159.3 74.5h0M159.6 73.7h0M159.5 71.8h0M159.4 71.4h0M159.3 72.8h0M159.4 73.1h0M159.5 74.1h0M159.7 75.3h0M159.6 76h0M159.4 76.7h0M159.7 78.5h0M159.8 79h0M159.5 79.6h0M159.7 80.9h0M159.7 82.3h0M159.8 83h0M160 83.6h0M160.4 84.8h0M160.9 84.6h0M161.5 83.9h0M161.6 83h0M161.7 84.4h0M162 85h0M162.9 85h0M163.6 85.4h0M164 84.6h0M163.9 83.1h0M164.2 81.2h0M164.4 80.3h0M164.4 81.3h0M164.6 82.6h0M164.6 83.8h0M164.7 84.8h0M165.3 84.6h0M166.2 84.5h0M166.7 83.7h0M166.5 82.8h0M167 84.6h0M167.1 85h0M167.8 85.4h0M168.7 84.2h0M168.8 84h0M168.9 83.1h0M169 81.3h0M169.2 80.5h0M169.2 79.5h0M169.3 78.5h0M169.3 77.1h0M169.3 77.1h0M169.2 75h0M169.2 74.7h0M169.2 73.8h0M169.1 72.9h0M169.4 72h0M169.4 70.8h0M169.4 69.9h0M169.5 70h0M169.5 68.5h0M169.3 67.1h0M169.5 68.4h0M169.6 68.9h0M169.5 70.8h0M169.5 71.3h0M169.4 71.6h0M169.4 73.4h0M169.7 73.4h0M169.7 74h0M169.6 76.1h0M169.5 77.1h0M169.6 77h0M169.5 78.7h0M169.5 80.2h0M169.5 81.1h0M169.6 81.1h0M169.7 82.2h0M169.8 84.1h0M170.1 84.4h0M170.6 84.8h0M171.3 84.7h0M171.5 83.7h0M171.7 82.3h0M172 83.2h0M172 85.1h0M172.8 85.3h0M173.7 84.9h0M174.3 84.4h0M175 83.6h0M175.4 84.8h0M176 84.9h0M176.8 85h0M177.7 84.4h0M177.8 83.3h0M177.8 82.2h0M177.9 82h0M178 80.6h0M177.9 79.2h0M178.1 77.7h0M178.3 78.9h0M178.2 80.5h0M178.2 81.3h0M178.2 82.5h0M178.4 83.2h0M178.7 83.7h0M179 84.5h0M179.8 85.3h0M180.5 83.8h0M180.5 83.7h0M181 83.8h0M181.3 85.2h0M182.2 84.7h0M182.8 84.4h0M183 82.6h0M183.1 81.6h0M183 80.3h0M183 82h0M183.2 82.1h0M183.2 83.4h0M183.3 84.3h0M184 85.5h0M185 85.3h0M185.5 84.3h0M185.7 84.1h0M186 84.5h0M186.3 85.1h0M187.3 85.2h0M187.4 84.4h0M187.6 82.8h0M187.9 82.6h0M187.9 80.9h0M187.9 80.7h0M188 79.5h0M188.1 80.5h0M188.1 81.3h0M188.2 82.7h0M188.3 83h0M188.4 84.2h0M188.8 84.4h0M189.6 85.3h0M190.1 85.4h0M190.9 84.6h0M191.8 84.6h0M192.4 84.9h0M192.7 83.8h0M192.8 84.7h0M193.4 85.2h0M194.3 85.4h0M194.9 84.4h0M195.3 84.7h0M195.7 85h0M196.7 85.3h0M197.2 85h0M198 84.5h0M198.6 84h0M199 84.7h0M199.7 84.6h0M200.4 85.4h0M201.3 84.7h0M201.6 83.8h0M202.3 84.7h0M203 85.3h0M203.6 85.2h0M204.4 85.4h0M205.2 84.7h0M206.3 84.8h0M206.8 85.4h0M207.7 85.2h0M207.9 83.6h0M208.2 82h0M208.2 80.4h0M208.2 79h0M208.1 77.7h0M208.2 79.9h0M208.3 81.1h0M208.3 81.8h0M208.3 83h0M208.6 84.1h0M208.8 85.3h0M209.8 85.1h0M210.3 85h0M210.9 84.6h0M211 83.2h0M211.1 82.1h0M211.1 81.6h0M211.3 80.3h0M211.2 81.9h0M211.2 82.6h0M211.4 83.1h0M211.4 84.4h0M211.9 85.1h0M212.6 84.4h0M213.3 84.5h0M214.3 85.5h0M214.8 85.1h0M215.7 84.4h0M216.4 85.3h0M217 84.1h0M217.2 83.3h0M217.4 84.3h0M218 85.1h0M218.8 85.2h0M219.4 85.5h0M220.3 85.2h0M220.9 84.6h0M221.7 84.8h0M222.4 84.8h0M222.9 85h0M224 84.6h0M224.7 84.6h0M225.3 84.5h0M226.1 84.8h0M227.1 85.5h0M227.6 84.6h0M228.2 83.5h0M228.1 82.6h0M228.1 81.1h0M228.4 82.6h0M228.7 83.6h0M228.5 85.1h0M229.3 85.4h0M230.2 85.3h0M230.7 84.2h0M231.1 83.8h0M231.3 84.8h0M232.1 84.7h0M232.7 85.4h0M233.2 83.9h0M233.7 84.5h0M234.5 84.4h0M235.3 85.1h0M235.9 85.5h0M236.7 84.7h0M237.4 85h0M238.4 85.2h0M238.8 84.6h0M239.1 84.6h0M240.1 85.5h0M240.9 85.2h0M241.7 84.9h0M242.5 85.3h0M243.1 84.9h0M244.1 84.8h0M244.6 85.1h0M244.9 83.9h0M245.2 85.1h0M245.7 84.8h0M246.5 84.9h0M247.4 85.4h0M248.3 85.1h0M249 85h0M249.3 84.7h0M250 85.3h0M250.6 85.2h0M251.6 85h0M252.4 85.5h0M253.2 85.4h0M253.9 85.5h0M254.5 85.2h0M255.5 85.1h0M256.1 84.5h0" stroke="#000" stroke-width="3.4" stroke-linecap="round" fill="none"/>
<polyline points="108.4,75.3 108.7,11.7 109.1,78 109.3,81.9 109.5,82.9 109.6,82.9 110,74.2 110.3,82.5 110.6,84.1 110.9,83.4 111.2,78.5 111.5,83.6 111.7,84.6 112.9,84.9 115,84.7 115.6,84.3 115.9,83.3 116.2,78 116.5,48.8 116.8,81.6 117.1,84 117.5,84.5 118,84.8 119.6,84.8 120,83.4 120.4,84.8 121.7,84.9 122.2,84.6 122.4,83.4 122.7,76.8 123.2,84.5 123.8,84.9 125.5,84.9 126.4,84.7 126.8,84.3 127.1,81 127.4,64.2 127.7,81 127.8,83.5 128.2,84.5 129.1,84.7 129.6,84.1 129.9,75.7 130.2,83.2 130.5,84.6 131.1,84.8 131.6,84.6 132,81.7 132.3,84.3 132.5,84.8 133.9,84.7 134.3,82.7 134.7,84.8 135.9,84.8 136.6,84.3 136.9,81.3 137.2,66.2 137.5,81.3 137.7,84.2 138.3,84.7 139,84.5 139.4,80.7 139.8,84.5 140,84.7 140.5,84.6 140.9,83.9 141.4,67.2 141.8,83.7 142.3,84.6 143,84.7 143.6,84.5 144,83.8 144.2,81.6 144.5,59.9 144.9,83.1 145.1,84.1 145.4,84.3 145.5,84.1 145.9,79.5 146.2,83.8 146.5,84.6 147.1,84.3 147.3,83.1 147.6,71.3 148,83.1 148.1,84.2 148.4,84.6 149,84.7 149.3,84.5 149.6,81.7 150,84.7 150.8,84.7 151.3,84.2 151.8,72.3 152,82.5 152.3,84.4 152.8,84.8 153.4,84.6 153.8,81.6 154.1,84.3 154.3,84.5 154.5,84.1 154.9,74.4 155.4,84.3 155.8,84.8 156.6,84.8 157,82.7 157.4,84.8 158.2,84.8 158.8,84.6 159.2,82.4 159.4,71.4 159.7,82.4 160,84.5 160.6,84.8 161.3,84.7 161.6,82.7 162,84.8 163.1,84.9 163.8,84.7 164.3,80.8 164.7,84.7 165.4,84.9 166.3,84.8 166.7,82.8 167.1,84.8 168.6,84.7 168.9,84 169.1,82.7 169.4,67.3 169.7,82.7 170,84.3 170.6,84.8 171.4,84.6 171.8,81.8 172.1,84.3 172.4,84.8 174.6,84.9 175,83.5 175.5,84.9 176.9,84.9 177.6,84.7 177.9,83.4 178.1,76.8 178.5,83.9 178.7,84.7 179.3,84.9 180.2,84.8 180.6,83.5 181,84.9 182.5,84.7 183,80.8 183.5,84.7 185.3,84.9 185.7,83.5 186.1,84.8 187.3,84.8 187.6,83.8 187.9,78.8 188.2,84.2 188.7,84.9 192.2,84.9 192.6,83.5 193.1,84.9 195,84.9 195.4,83.7 195.8,84.9 198,84.9 198.4,84.7 198.6,83.5 199.1,84.9 201.2,85 201.6,84.7 201.9,83.5 202.4,84.9 207.3,84.9 207.7,84.7 207.9,84 208.2,77.8 208.5,84 208.7,84.7 209.2,84.9 210.3,84.9 210.8,84.7 211.2,80.3 211.5,84.4 211.7,84.8 212.3,84.9 216.7,84.9 217.2,83.5 217.4,84.7 217.8,85 221.3,84.9 221.8,84 222.3,85 227.5,84.9 227.9,84.7 228,84.2 228.3,81.1 228.6,84.5 229.1,84.9 230.7,84.9 231,83.7 231.4,84.9 232.9,84.9 233.4,83.5 233.7,84.8 234.2,85 238.4,85 238.9,84 239.4,85 244.3,85 244.7,84.8 244.9,83.7 245.4,84.9 248.8,85 249.3,84.8 249.6,83.7 249.8,84.8 250.1,85 256.5,85" stroke="#b80000" stroke-width="0.7" fill="none" stroke-linejoin="round"/>
</g>
<rect x="108.4" y="24.4" width="148.1" height="86.3" fill="none" stroke="#8a8a8a" stroke-width="0.8"/>
<path d="M108.4 110.7v-1.2M108.4 24.4v1.2M113 110.7v-1.2M113 24.4v1.2M117.7 110.7v-1.8M117.7 24.4v1.8M122.3 110.7v-1.2M122.3 24.4v1.2M126.9 110.7v-1.2M126.9 24.4v1.2M131.5 110.7v-1.2M131.5 24.4v1.2M136.2 110.7v-1.2M136.2 24.4v1.2M140.8 110.7v-1.8M140.8 24.4v1.8M145.4 110.7v-1.2M145.4 24.4v1.2M150.1 110.7v-1.2M150.1 24.4v1.2M154.7 110.7v-1.2M154.7 24.4v1.2M159.3 110.7v-1.2M159.3 24.4v1.2M163.9 110.7v-1.8M163.9 24.4v1.8M168.6 110.7v-1.2M168.6 24.4v1.2M173.2 110.7v-1.2M173.2 24.4v1.2M177.8 110.7v-1.2M177.8 24.4v1.2M182.4 110.7v-1.2M182.4 24.4v1.2M187.1 110.7v-1.8M187.1 24.4v1.8M191.7 110.7v-1.2M191.7 24.4v1.2M196.3 110.7v-1.2M196.3 24.4v1.2M201 110.7v-1.2M201 24.4v1.2M205.6 110.7v-1.2M205.6 24.4v1.2M210.2 110.7v-1.8M210.2 24.4v1.8M214.8 110.7v-1.2M214.8 24.4v1.2M219.5 110.7v-1.2M219.5 24.4v1.2M224.1 110.7v-1.2M224.1 24.4v1.2M228.7 110.7v-1.2M228.7 24.4v1.2M233.4 110.7v-1.8M233.4 24.4v1.8M238 110.7v-1.2M238 24.4v1.2M242.6 110.7v-1.2M242.6 24.4v1.2M247.2 110.7v-1.2M247.2 24.4v1.2M251.9 110.7v-1.2M251.9 24.4v1.2M256.5 110.7v-1.8M256.5 24.4v1.8" stroke="#777" stroke-width="0.7"/>
<text x="117.7" y="121" font-size="7.0" text-anchor="middle" fill="#111" >20</text>
<text x="140.8" y="121" font-size="7.0" text-anchor="middle" fill="#111" >25</text>
<text x="163.9" y="121" font-size="7.0" text-anchor="middle" fill="#111" >30</text>
<text x="187.1" y="121" font-size="7.0" text-anchor="middle" fill="#111" >35</text>
<text x="210.2" y="121" font-size="7.0" text-anchor="middle" fill="#111" >40</text>
<text x="233.4" y="121" font-size="7.0" text-anchor="middle" fill="#111" >45</text>
<text x="256.5" y="121" font-size="7.0" text-anchor="middle" fill="#111" >50</text>
<text x="192.4" y="135" font-size="7.65" text-anchor="middle" fill="#111" >Diffraction angle 2&#952; (deg)</text>
<text transform="translate(104.4 57) rotate(-90)" font-size="6.8" text-anchor="middle" fill="#111">Intensity (arb.units)</text>
<rect x="182.3" y="36.5" width="65.9" height="33.5" fill="#fff" stroke="#8a8a8a" stroke-width="0.7"/>
<circle cx="196.5" cy="44.8" r="1.2" fill="#000"/>
<path d="M186.9 53.3h18.6" stroke="#e87070" stroke-width="0.6"/>
<path d="M186.7 61.3h17" stroke="#9a9ae6" stroke-width="0.9" stroke-dasharray="4.2,2.3"/>
<text x="209.1" y="47.2" font-size="6.8" text-anchor="start" fill="#111" >Observed</text>
<text x="209.1" y="55.4" font-size="6.8" text-anchor="start" fill="#111" >Calculated</text>
<text x="209.1" y="63.6" font-size="6.8" text-anchor="start" fill="#111" >Residual</text>
<clipPath id="c3"><rect x="299.8" y="6" width="244.7" height="170.9"/></clipPath>
<g clip-path="url(#c3)"><polyline points="302.8,164.7 303.3,164.8 303.8,164.5 304.3,164.5 304.8,164.5 305.3,164.4 305.8,164.7 306.4,164.8 306.9,164.8 307.4,164.5 307.9,164.7 308.4,164.4 308.9,164.8 309.4,164.5 309.9,164.4 310.4,164.7 310.9,164.4 311.4,164.5 311.9,164.4 312.4,164.6 313,164.6 313.5,164.8 314,164.4 314.5,164.8 315,164.4 315.5,164.5 316,164.7 316.5,164.5 317,164.5 317.5,164.6 318,164.5 318.5,164.7 319.1,164.5 319.6,164.8 320.1,164.8 320.6,164.6 320.6,164.6 321.1,164.4 321.6,164.7 322.1,164.4 322.6,164.6 323.1,164.6 323.6,164.4 324.1,164.7 324.6,164.7 325.1,164.6 325.7,164.6 326.2,164.6 326.7,164.6 327.2,164.5 327.7,164.8 328.2,164.8 328.7,164.8 329.2,164.8 329.7,164.5 330.2,164.8 330.7,164.4 331.2,164.6 331.7,164.4 332.3,164.6 332.8,164.7 333.3,164.7 333.8,164.6 334.3,164.5 334.8,164.4 335.3,164.6 335.8,164.5 336.3,164.4 336.3,164.6 336.8,164.7 337.3,164.6 337.8,164.6 338.4,164.4 338.9,164.7 339.4,164.4 339.9,164.5 340.4,164.6 340.9,164.7 341.4,164.8 341.9,164.7 342.4,164.8 342.9,164.8 343.4,164.7 343.9,164.7 344.4,164.4 345,164.5 345.5,164.4 346,164.8 346.5,164.7 347,164.7 347.5,164.5 348,164.5 348.5,164.4 349,164.7 349.5,164.8 349.5,164.6 350,164.5 350.5,164.4 351,164.4 351.6,164.5 352.1,164.8 352.6,164.8 353.1,164.6 353.6,164.4 354.1,164.4 354.6,164.4 355.1,164.7 355.6,164.6 356.1,164.8 356.6,164.8 357.1,164.7 357.7,164.6 358.2,164.8 358.7,164.4 359.2,164.4 359.7,164.6 360.2,164.6 360.7,164.5 361.2,164.5 361.7,164.4 362.2,164.8 362.7,164.7 363.2,164.8 363.7,164.8 364.3,164.6 364.8,164.7 365.3,164.5 365.8,164.8 366.3,164.8 366.3,164.6 366.8,164.4 367.3,164.4 367.8,164.5 368.3,164.6 368.8,164.5 369.3,164.4 369.8,164.8 370.3,164.7 370.9,164.6 371.4,164.4 371.9,164.8 372.4,164.6 372.9,164.4 373.4,164.5 373.9,164.7 374.4,164.8 374.9,164.6 375.4,164.7 375.9,164.5 376.4,164.5 376.9,164.8 377.5,164.5 378,164.4 378.5,164.6 379,164.4 379.5,164.4 380,164.6 380.5,164.6 381,164.7 381.5,164.7 382,164.6 382.5,164.4 383,164.7 383.6,164.4 384.1,164.6 384.6,164.6 385.1,164.7 385.6,164.7 386.1,164.5 386.6,164.7 387.1,164.7 387.6,164.6 388.1,164.4 388.6,164.8 389.1,164.6 389.6,164.4 390.2,164.5 390.7,164.8 391.2,164.5 391.7,164.5 392.2,164.7 392.7,164.8 393.2,164.7 393.7,164.7 394.2,164.4 394.7,164.4 395.2,164.8 395.7,164.8 396.2,164.4 396.8,164.4 397.3,164.5 397.8,164.8 398.3,164.5 398.8,164.7 399.3,164.8 399.8,164.7 400.3,164.8 400.8,164.5 401.3,164.4 401.8,164.4 402.3,164.7 402.9,164.4 403.4,164.8 403.9,164.7 404.4,164.4 404.9,164.8 405.4,164.4 405.9,164.6 406.4,164.4 406.9,164.7 407.4,164.8 407.9,164.8 408.4,164.4 408.9,164.8 409.5,164.6 410,164.8 410.5,164.6 411,164.7 411.5,164.6 412,164.7 412.5,164.4 413,164.4 413.5,164.6 414,164.5 414.5,164.5 415,164.4 415.5,164.7 416.1,164.4 416.6,164.8 417.1,164.8 417.6,164.6 418.1,164.4 418.6,164.7 419.1,164.5 419.6,164.6 420.1,164.4 420.6,164.8 421.1,164.6 421.6,164.5 422.2,164.4 422.7,164.7 423.2,164.8 423.7,164.8 424.2,164.4 424.7,164.5 425.2,164.5 425.7,164.7 426.2,164.4 426.7,164.7 427.2,164.8 427.7,164.7 428.2,164.4 428.8,164.4 429.3,164.4 429.8,164.7 430.3,164.6 430.8,164.6 431.3,164.6 431.8,164.6 432.3,164.7 432.8,164.7 433.3,164.8 433.8,164.7 434.3,164.7 434.8,164.8 435.4,164.8 435.9,164.7 436.4,164.4 436.9,164.7 437.4,164.8 437.9,164.6 438.4,164.8 438.9,164.4 439.4,164.8 439.9,164.6 440.4,164.7 440.9,164.5 441.4,164.5 442,164.5 442.5,164.5 443,164.4 443.5,164.6 444,164.8 444.5,164.7 445,164.8 445.5,164.7 446,164.8 446.5,164.8 447,164.7 447.5,164.5 448.1,164.5 448.6,164.6 449.1,164.4 449.6,164.5 450.1,164.8 450.6,164.8 451.1,164.5 451.6,164.7 452.1,164.7 452.6,164.8 453.1,164.7 453.6,164.6 454.1,164.4 454.7,164.8 455.2,164.5 455.7,164.7 456.2,164.5 456.7,164.6 457.2,164.8 457.7,164.4 458.2,164.6 458.7,164.7 459.2,164.6 459.7,164.8 460.2,164.6 460.7,164.8 461.3,164.7 461.8,164.8 462.3,164.4 462.8,164.5 463.3,164.5 463.8,164.8 464.3,164.4 464.8,164.5 465.3,164.7 465.8,164.8 466.3,164.4 466.8,164.6 467.4,164.7 467.9,164.7 468.4,164.7 468.9,164.7 469.4,164.5 469.9,164.5 470.4,164.4 470.9,164.7 471.4,164.5 471.9,164.5 472.4,164.8 472.9,164.7 473.4,164.6 474,164.7 474.5,164.6 475,164.7 475.5,164.5 476,164.4 476.5,164.4 477,164.4 477.5,164.5 478,164.4 478.5,164.4 479,164.6 479.5,164.8 480,164.7 480.6,164.5 481.1,164.7 481.6,164.4 482.1,164.4 482.6,164.5 483.1,164.6 483.6,164.7 484.1,164.6 484.6,164.7 485.1,164.4 485.6,164.8 486.1,164.5 486.6,164.8 487.2,164.4 487.7,164.8 488.2,164.5 488.7,164.8 489.2,164.8 489.7,164.7 490.2,164.5 490.7,164.4 491.2,164.4 491.7,164.8 492.2,164.4 492.7,164.7 493.3,164.6 493.8,164.7 494.3,164.4 494.8,164.4 495.3,164.4 495.8,164.8 496.3,164.5 496.8,164.7 497.3,164.6 497.8,164.5 498.3,164.4 498.8,164.4 499.3,164.8 499.9,164.4 500.4,164.8 500.9,164.5 501.4,164.7 501.9,164.4 502.4,164.7 502.9,164.5 503.4,164.5 503.9,164.6 504.4,164.4 504.9,164.5 505.4,164.7 505.9,164.5 506.5,164.5 507,164.7 507.5,164.5 508,164.4 508.5,164.5 509,164.5 509.5,164.5 510,164.7 510.5,164.6 511,164.8 511.5,164.4 512,164.7 512.6,164.8 513.1,164.5 513.6,164.4 514.1,164.6 514.6,164.4 515.1,164.6 515.6,164.7 516.1,164.4 516.6,164.4 517.1,164.6 517.6,164.4 518.1,164.5 518.6,164.6 519.2,164.4 519.7,164.4 520.2,164.5 520.7,164.6 521.2,164.8 521.7,164.6 522.2,164.4 522.7,164.5 523.2,164.7 523.7,164.6 524.2,164.8 524.7,164.8 525.2,164.8 525.8,164.4 526.3,164.8 526.8,164.6 527.3,164.5 527.8,164.4 528.3,164.8 528.8,164.5 529.3,164.4 529.8,164.5 530.3,164.8 530.8,164.6 531.3,164.7 531.9,164.4 532.4,164.6 532.9,164.5 533.4,164.5 533.9,164.7 534.4,164.5 534.9,164.4 535.4,164.8 535.9,164.6 536.4,164.4 536.9,164.4 537.4,164.7 537.9,164.6 538.5,164.4 539,164.6 539.5,164.7 540,164.6 540.5,164.5 541,164.6 541.5,164.7" stroke="#2a2aff" stroke-width="1.1" fill="none"/><path d="M320.6 164.6v-2M336.3 164.6v1M349.5 164.6v-1M366.3 164.6v1" stroke="#2a2aff" stroke-width="0.8"/></g>
<g clip-path="url(#c3)">
<path d="M302.9 159.4h0M303.9 160.8h0M304.8 160.6h0M305.6 160.7h0M306.5 159.5h0M307.7 160.7h0M308.3 159.5h0M309.3 159.9h0M310.3 159.4h0M311.6 160.1h0M312.6 159.8h0M313.5 159.1h0M314.6 159.5h0M315.3 160h0M316.5 159.9h0M317.5 160.1h0M318 160.3h0M318.9 160.3h0M319.5 158.1h0M320.1 157.3h0M319.9 156.4h0M320.1 154.7h0M320 153.8h0M320.3 152.5h0M320.2 151.5h0M320.1 150h0M320.3 148h0M320 146.5h0M320.4 144.9h0M320 143.6h0M320.3 143.2h0M320 140.9h0M320.1 139h0M320.2 135.8h0M320.5 133.1h0M320.5 130.1h0M320.2 126.1h0M320.3 120.2h0M320.5 115.7h0M320.1 111h0M320.2 106.8h0M320.6 100.2h0M320.4 95.1h0M320.6 88.6h0M320.4 81.4h0M320.3 76.1h0M320.5 70.2h0M320.7 64.5h0M320.3 57.1h0M320.7 52.7h0M320.3 48.2h0M320.4 43.3h0M320.5 40.6h0M320.6 38.7h0M320.7 38.5h0M320.6 37.3h0M320.8 38.8h0M320.6 42.9h0M320.8 46.7h0M320.5 51.8h0M320.8 55.6h0M320.6 62.5h0M320.5 67.5h0M321 74.5h0M320.6 80.5h0M320.7 86.6h0M320.9 91.7h0M320.6 97.9h0M320.7 103.3h0M320.6 109.4h0M320.8 114h0M320.9 120.3h0M320.9 123.7h0M321 127.9h0M320.7 131.6h0M320.6 135.3h0M320.7 137.7h0M321.2 141h0M321.1 142h0M321 143.3h0M321.2 143.4h0M321.1 144.6h0M320.8 147.3h0M321 148.8h0M321.2 149.7h0M320.9 149.8h0M321.1 152h0M320.9 152.4h0M320.8 153.7h0M321.3 154.5h0M321.1 156h0M321.4 158.2h0M321.3 157.6h0M322.2 160h0M322.6 159.3h0M323.4 158.4h0M323.4 157.4h0M323.4 155.3h0M323.3 153.5h0M323.3 153.1h0M323.7 151.1h0M323.7 150.4h0M323.5 148.3h0M323.4 147.5h0M323.6 144.3h0M323.4 144.1h0M323.6 143h0M323.5 142.2h0M323.9 141.9h0M323.8 143.2h0M323.8 145.7h0M323.9 146.2h0M323.5 148.6h0M323.8 149.3h0M323.6 151.7h0M323.6 153.2h0M323.7 153.7h0M323.8 155.3h0M324 156.1h0M324 157.5h0M323.9 159.2h0M324.6 160h0M325.6 159.4h0M326.3 160.2h0M327.2 159.3h0M328.2 160.5h0M329.4 160.4h0M330.5 160.5h0M331.1 159.6h0M332.3 159.2h0M333.2 159.2h0M333.5 159.1h0M333.6 158.5h0M334.1 156.6h0M333.7 154.6h0M333.9 153.9h0M333.9 152.9h0M334.1 154.1h0M333.9 154.3h0M334 156.4h0M334 157.9h0M334 158.4h0M334.3 160.1h0M335.4 159.7h0M336 160h0M336.3 158.3h0M335.9 156.9h0M336.2 154.9h0M335.9 155h0M336.4 152.1h0M336.2 151.4h0M336.1 148.6h0M336.3 147.9h0M336.2 145.6h0M336.2 144.6h0M336.5 143.5h0M336.1 143.7h0M336.1 140.5h0M336 138.8h0M336.3 138.6h0M336.1 136.2h0M336.5 137.9h0M336.3 138.8h0M336.2 142.1h0M336.2 141.8h0M336.5 143.9h0M336.6 144.2h0M336.7 145.5h0M336.3 146.3h0M336.5 147.8h0M336.2 148.8h0M336.7 150.4h0M336.6 152.5h0M336.4 153.7h0M336.5 156.2h0M336.3 157.6h0M336.5 157.5h0M336.8 158.7h0M336.9 159.7h0M338.2 160.6h0M339 159.1h0M340.1 160.1h0M340.4 159.6h0M340.1 158.4h0M340.4 156.3h0M340.2 155.3h0M340.2 154.2h0M340.2 152.8h0M340.7 154.6h0M340.6 156.7h0M340.6 156.6h0M340.8 159h0M340.9 159.9h0M341.6 160.5h0M342.3 160.3h0M343.3 160.6h0M344.1 160.1h0M345.2 160.6h0M346.2 160.6h0M347.4 160.7h0M348 160.7h0M349.1 159.6h0M349.2 157.3h0M349.3 156.8h0M349.1 154.6h0M349.3 154.1h0M349.4 151.5h0M349.1 149.6h0M349 148.6h0M349 148.3h0M349.1 144.3h0M349 142.6h0M349.1 138.9h0M349.2 136.2h0M349.5 132.1h0M349.4 130.1h0M349.3 127.4h0M349.5 125.3h0M349.5 124.8h0M349.1 123.7h0M349.6 126h0M349.4 127h0M349.6 128.7h0M349.3 131.1h0M349.4 135.4h0M349.6 137.2h0M349.7 140.3h0M349.5 144h0M349.6 146.8h0M349.3 148.1h0M349.7 149.8h0M349.5 149.8h0M349.7 151.9h0M349.4 153.8h0M349.8 154.4h0M349.5 156h0M349.9 156.6h0M349.6 158h0M349.9 158.7h0M350.6 159.9h0M351.6 159.3h0M352.7 160.9h0M353.4 160.5h0M354.2 160.7h0M355.4 160.4h0M356.2 159h0M356.4 157.7h0M355.9 156.7h0M356.4 155.5h0M356.5 153.5h0M356.5 152.1h0M356.1 150.6h0M356.4 148.3h0M356.3 147h0M356.2 146.2h0M356.3 145.3h0M356.1 143.4h0M356.2 143.6h0M356.4 141.7h0M356.2 140.2h0M356.2 138.6h0M356.6 136.6h0M356.5 139.9h0M356.6 141.8h0M356.6 142.1h0M356.6 144.3h0M356.2 145.4h0M356.4 144.9h0M356.3 147.2h0M356.6 147.1h0M356.5 149.9h0M356.8 151.2h0M356.7 152.6h0M356.4 153.7h0M356.5 155.7h0M356.5 156.5h0M356.5 157.3h0M356.5 158.7h0M357.4 157.7h0M357.4 156.7h0M357.7 155.1h0M357.7 153.9h0M357.3 152.7h0M357.3 150.3h0M357.3 149.4h0M357.8 147.9h0M357.5 146.9h0M357.5 146.3h0M357.5 144.3h0M357.8 144h0M357.3 143.4h0M357.7 141.5h0M357.7 141.5h0M357.6 138.8h0M357.5 137.6h0M357.7 136.7h0M357.9 136.9h0M357.6 139.6h0M357.9 140.9h0M357.8 141.5h0M358 142.9h0M357.7 143.3h0M357.5 145.7h0M357.9 145.2h0M357.7 147h0M357.8 147.8h0M358 148.8h0M357.8 151.7h0M357.9 152.5h0M357.7 153.8h0M357.9 155.7h0M357.7 155.9h0M357.8 157.2h0M358.1 158.7h0M358 159.2h0M359.2 159.3h0M360.1 159.1h0M360.7 159.2h0M362 159.3h0M362.7 159.2h0M363.7 160.4h0M364.9 160.7h0M365.9 159.7h0M366.1 157.6h0M366.1 156.8h0M365.7 155.6h0M366.1 153.8h0M365.7 153.3h0M366.1 151.2h0M366.2 148.5h0M365.7 146.9h0M365.7 146h0M366.1 143.1h0M365.8 141.6h0M366.1 141.1h0M366.3 139.5h0M366.4 141.1h0M366.1 142.3h0M366 145.3h0M366.4 146.7h0M366 147.6h0M366 149.7h0M366.3 150.8h0M366.2 153.4h0M366 154.3h0M366.4 155.6h0M366.3 157.8h0M366.4 157.8h0M366.3 159.9h0M367.1 160.6h0M367.9 159.3h0M368.7 159.8h0M369.9 159.1h0M370.9 160.5h0M371.7 158.9h0M372.3 158.8h0M372.4 158.1h0M372.5 156.6h0M372.6 156.5h0M372.7 154.6h0M372.4 153h0M372.5 153h0M372.9 153.8h0M373 155.3h0M373 155.3h0M373.1 156.3h0M373.1 157.2h0M373.6 156.7h0M373.3 156.3h0M373.3 155.4h0M373.7 153h0M373.7 152.6h0M374.1 153.7h0M373.9 155.3h0M373.7 156h0M373.8 156.3h0M373.9 158.4h0M374.1 159.1h0M374.3 160h0M375.4 159.2h0M376.3 160.4h0M377.1 160.3h0M378.1 159.7h0M379.4 160.7h0M380 158.9h0M379.8 158.3h0M380 156.5h0M380.1 154.7h0M380.1 153.8h0M379.7 153.2h0M379.7 151.9h0M379.7 151.3h0M380 149.8h0M379.8 148h0M380 148.6h0M380.2 149.2h0M380.1 150.5h0M380.3 153.1h0M379.9 153.4h0M380.1 154.9h0M380.3 156h0M380.4 157h0M380 159.3h0M380.2 159.1h0M381.3 159.7h0M382.1 160.8h0M383.2 160.5h0M384.1 160.7h0M385 160.7h0M386.2 160.8h0M387.2 160.1h0M387.3 159.3h0M387.3 156.7h0M387.6 156.8h0M387.5 155.3h0M387.3 153.3h0M387.7 153.1h0M387.8 152.8h0M387.7 154.9h0M387.6 155.6h0M387.5 157.4h0M387.7 158.2h0M387.7 159.7h0M388.9 160.1h0M389.5 160.7h0M390.6 160.8h0M391.9 159.3h0M392.6 160.8h0M393.5 160h0M393.9 158.3h0M394.5 159.2h0M395.5 160.2h0M396.6 160.8h0M397.7 159.7h0M398.8 160.2h0M399.2 159.9h0M399.4 158h0M399.5 156.8h0M400.1 157.7h0M400.2 158.3h0M400.2 160h0M401.2 160h0M402.2 160.6h0M403.4 160.3h0M404.5 160.9h0M405.3 160.4h0M405.9 159.2h0M407.1 160.8h0M408 160.1h0M408.7 159.4h0M409.4 158.7h0M409.4 156.7h0M409.2 156.1h0M409.8 156.9h0M410 158.1h0M410.1 159.5h0M410.7 160.8h0M411.7 160.3h0M412.4 160.5h0M413.4 158.3h0M413.4 157.6h0M413.2 156.8h0M413.8 158.7h0M414.1 159.8h0M414.2 160.1h0M414.9 160.4h0M416.1 159.7h0M417.2 159.5h0M417.4 158.5h0M417.6 158.3h0M418 156.6h0M417.9 156.2h0M418 154.8h0M418.3 155.1h0M418.1 157h0M418.3 158.6h0M418.4 159.6h0M418.8 159.2h0M419.9 159.8h0M420.8 160.4h0M421.2 159.4h0M421.7 158h0M421.9 159.8h0M422.3 159.3h0M423 159.3h0M424.1 159.3h0M425.2 159.9h0M426 160.1h0M427.3 159.6h0M427.8 159.7h0M428.6 160.2h0M429.6 159.8h0M430.3 159.3h0M431.2 160.7h0M432.5 159.5h0M433.4 159.3h0M434.3 159.8h0M435.1 160.6h0M436.2 159.6h0M436.2 159h0M436.6 159.9h0M437.3 160.9h0M438.2 159.7h0M439.3 159.6h0M440.1 160.5h0M441.6 159.9h0M442.1 160.5h0M443.1 160h0M444.3 160h0M444.6 158.6h0M445.5 160.9h0M446.7 159.5h0M447.4 160.2h0M448.2 160.5h0M449.3 160.8h0M450.2 161h0M451.4 160.2h0M452 160.2h0M452.9 160.6h0M454.2 160.4h0M455.2 159h0M455.9 160.8h0M456.6 160h0M457.5 160.4h0M458.8 160h0M459.7 160.1h0M460.7 159.9h0M461.8 160.2h0M462.3 159.6h0M463.6 161h0M464.5 159.7h0M465.6 160.7h0M466.2 160.1h0M467.4 159.5h0M468 160.1h0M469.4 161.3h0M470.1 161.1h0M471.3 161h0M472.2 161.2h0M473.2 161.2h0M474.1 159.9h0M475 160.4h0M475.9 160.2h0M476.9 160.6h0M477.7 160h0M478.8 160.5h0M479.8 160.7h0M480.6 160.5h0M481.6 160.9h0M482.8 161h0M483.6 160h0M484.8 160.5h0M485.5 160.1h0M486.5 160.9h0M487.6 160.5h0M488.6 160h0M489.4 160.3h0M490.3 160.3h0M491.5 160.9h0M492.1 160.1h0M493.4 160.8h0M494.3 160.8h0M495.3 160.1h0M495.9 160.3h0M496.8 161.4h0M498 160.9h0M499.2 161.1h0M499.8 160.3h0M500.7 161.1h0M502 160.6h0M502.8 160.2h0M503.8 161h0M505 161.2h0M505.9 160.5h0M506.6 160.3h0M507.9 160.1h0M508.4 160.3h0M509.8 161.3h0M510.4 161.3h0M511.7 160.5h0M512.3 161.2h0M513.3 160h0M514.6 160.6h0M515.3 160.9h0M516.1 159.8h0M517.2 160.5h0M517.9 160.5h0M519.3 160.4h0M520.2 161h0M520.9 159.9h0M522.1 160.9h0M522.9 160.2h0M524.1 161.5h0M524.8 160.9h0M525.9 160.4h0M526.6 160.5h0M527.9 161h0M528.8 160.1h0M529.6 160.5h0M530.6 160.6h0M531.8 160.1h0M532.9 160.3h0M533.7 160.4h0M534.6 160.6h0M535.2 161.4h0M536.6 160.4h0M537.5 160.8h0M538.6 160.1h0M539.2 160.4h0M540.3 161.4h0M541.4 161h0" stroke="#000" stroke-width="4.8" stroke-linecap="round" fill="none"/>
<polyline points="302.8,160 317.9,159.8 319.3,159.1 319.8,157.3 320.2,141.4 320.6,36.9 321,150.7 321.3,157.4 321.7,158.7 322.3,159.4 323.1,159.5 323.4,158.8 323.7,141.6 323.9,156.9 324.1,159.5 324.6,159.8 326.1,159.9 333.6,159.8 333.8,158.8 334,151.8 334.3,159.6 335,159.9 335.9,159.6 336.1,156.2 336.3,136.8 336.5,156.2 336.8,159.6 337.7,159.9 340.1,159.8 340.4,153.3 340.8,159.8 347.2,160 348.3,159.9 348.8,159.6 349,158.7 349.1,155.9 349.4,123.4 349.6,157.6 349.8,159.4 350.5,159.9 355.1,159.9 355.7,159.7 356,159.3 356.4,136.3 356.6,158.1 356.8,159.4 357.1,159.5 357.3,159.2 357.7,136.2 357.9,158.3 358.1,159.5 358.8,159.9 364.8,159.9 365.4,159.8 365.7,159.4 366.1,139.3 366.3,158.5 366.5,159.6 367.2,159.9 370.8,159.9 372,159.6 372.2,158.3 372.6,152.2 373.2,158.6 373.7,151.7 374.1,158.1 374.4,159.6 376.1,160 378.8,160 379.5,159.8 379.8,158.2 380,147.3 380.2,159 380.4,159.7 381.1,159.9 386.2,160 387.1,159.8 387.5,151.8 387.8,159.4 387.9,159.8 388.5,160 393.5,159.9 394.2,158.7 394.9,159.9 398.8,159.9 399.2,159.3 399.6,156.2 400,159.4 400.5,159.9 408.7,159.9 409,159.3 409.5,156.5 410.1,159.8 412.7,159.9 413.1,159.3 413.5,156.5 414.1,159.8 417.1,159.9 417.5,159.7 417.6,159.2 418.1,154.3 418.6,159.4 418.9,159.8 419.6,160 421.1,159.8 421.6,157.5 422.2,159.8 423.3,160 428.3,160 429,158.6 429.4,159.8 429.8,160.1 435.7,160.1 436,159.8 436.4,158.6 436.8,159.8 437.1,160.1 444.1,160.2 444.6,160 445,158.7 445.5,160.1 446.5,160.2 454.4,160.2 455.2,159.5 455.7,160.2 456.7,160.3 541.5,160.9" stroke="#b80000" stroke-width="0.95" fill="none" stroke-linejoin="round"/>
</g>
<rect x="302.8" y="5.5" width="238.7" height="171.9" fill="none" stroke="#505050" stroke-width="1.0"/>
<path d="M307.9 177.4v-1.8M307.9 5.5v1.8M318 177.4v-1.8M318 5.5v1.8M328.2 177.4v-1.8M328.2 5.5v1.8M338.4 177.4v-2.8M338.4 5.5v2.8M348.5 177.4v-1.8M348.5 5.5v1.8M358.7 177.4v-1.8M358.7 5.5v1.8M368.8 177.4v-1.8M368.8 5.5v1.8M379 177.4v-1.8M379 5.5v1.8M389.1 177.4v-2.8M389.1 5.5v2.8M399.3 177.4v-1.8M399.3 5.5v1.8M409.5 177.4v-1.8M409.5 5.5v1.8M419.6 177.4v-1.8M419.6 5.5v1.8M429.8 177.4v-1.8M429.8 5.5v1.8M439.9 177.4v-2.8M439.9 5.5v2.8M450.1 177.4v-1.8M450.1 5.5v1.8M460.2 177.4v-1.8M460.2 5.5v1.8M470.4 177.4v-1.8M470.4 5.5v1.8M480.6 177.4v-1.8M480.6 5.5v1.8M490.7 177.4v-2.8M490.7 5.5v2.8M500.9 177.4v-1.8M500.9 5.5v1.8M511 177.4v-1.8M511 5.5v1.8M521.2 177.4v-1.8M521.2 5.5v1.8M531.3 177.4v-1.8M531.3 5.5v1.8M541.5 177.4v-2.8M541.5 5.5v2.8" stroke="#505050" stroke-width="0.8"/>
<path d="M302.8 174.3h1.8M541.5 174.3h-1.8M302.8 168.1h1.8M541.5 168.1h-1.8M302.8 161.9h2.8M541.5 161.9h-2.8M302.8 155.7h1.8M541.5 155.7h-1.8M302.8 149.5h1.8M541.5 149.5h-1.8M302.8 143.3h1.8M541.5 143.3h-1.8M302.8 137.1h1.8M541.5 137.1h-1.8M302.8 130.9h2.8M541.5 130.9h-2.8M302.8 124.7h1.8M541.5 124.7h-1.8M302.8 118.5h1.8M541.5 118.5h-1.8M302.8 112.3h1.8M541.5 112.3h-1.8M302.8 106.1h1.8M541.5 106.1h-1.8M302.8 99.9h2.8M541.5 99.9h-2.8M302.8 93.7h1.8M541.5 93.7h-1.8M302.8 87.5h1.8M541.5 87.5h-1.8M302.8 81.3h1.8M541.5 81.3h-1.8M302.8 75.1h1.8M541.5 75.1h-1.8M302.8 68.9h2.8M541.5 68.9h-2.8M302.8 62.7h1.8M541.5 62.7h-1.8M302.8 56.5h1.8M541.5 56.5h-1.8M302.8 50.3h1.8M541.5 50.3h-1.8M302.8 44.1h1.8M541.5 44.1h-1.8M302.8 37.9h2.8M541.5 37.9h-2.8M302.8 31.7h1.8M541.5 31.7h-1.8M302.8 25.5h1.8M541.5 25.5h-1.8M302.8 19.3h1.8M541.5 19.3h-1.8M302.8 13.1h1.8M541.5 13.1h-1.8M302.8 6.9h2.8M541.5 6.9h-2.8" stroke="#505050" stroke-width="0.8"/>
<text x="338.4" y="190.8" font-size="9.5" text-anchor="middle" fill="#111" >10</text>
<text x="389.1" y="190.8" font-size="9.5" text-anchor="middle" fill="#111" >20</text>
<text x="439.9" y="190.8" font-size="9.5" text-anchor="middle" fill="#111" >30</text>
<text x="490.7" y="190.8" font-size="9.5" text-anchor="middle" fill="#111" >40</text>
<text x="541.5" y="190.8" font-size="9.5" text-anchor="middle" fill="#111" >50</text>
<text x="422.1" y="210" font-size="10.9" text-anchor="middle" fill="#111" >Diffraction angle 2&#952; (deg)</text>
<text transform="translate(288.9 91.8) rotate(-90)" font-size="10.9" text-anchor="middle" fill="#111">Intensity (arb.units)</text>
<text x="308.4" y="17.1" font-size="10.95" fill="#111">(b) Black TiO<tspan dy="2.6">2</tspan><tspan dy="-2.6"> - </tspan><tspan font-style="italic">T</tspan> = 93 K</text>
<rect x="383.6" y="34.2" width="148" height="85.9" fill="#fff"/>
<clipPath id="c4"><rect x="384" y="34.6" width="147.2" height="85.1"/></clipPath>
<g clip-path="url(#c4)"><polyline points="383.6,112.2 384.1,112.5 384.5,112 385,112.1 385.5,112.5 385.9,112.3 386.4,112.6 386.8,112 387.3,112.3 387.8,112.1 388.2,112 388.7,112 389.2,112 389.6,112.2 390.1,112.3 390.5,112.3 391,112.2 391.5,112.4 391.9,112.3 392.4,112.6 392.9,112.1 393.3,112.3 393.8,112.3 394.2,112.2 394.7,112.6 395.2,112.1 395.6,112.6 396.1,112.2 396.6,112.2 397,112.4 397.5,112.3 397.9,112.1 398.4,112 398.9,112.6 399.3,112.2 399.8,112 400.3,112.4 400.7,112.3 401.2,112.2 401.6,112.2 402.1,112.5 402.6,112.2 403,112.2 403.5,112.6 404,112.2 404.4,112.2 404.9,112.1 405.3,112.4 405.8,112.4 406.3,112.3 406.7,112.2 407.2,112.1 407.7,112.5 408.1,112.3 408.6,112.5 409,112.2 409.5,112.5 410,112 410.4,112.1 410.9,112.6 411.4,112.4 411.8,112.4 412.3,112.3 412.7,112.3 413.2,112.1 413.7,112.1 414.1,112.4 414.6,112.4 415.1,112.1 415.5,112.4 416,112 416.4,112.4 416.9,112.1 417.4,112.3 417.8,112.2 418.3,112.3 418.8,112 419.2,112.3 419.7,112.3 419.7,112.4 420.1,112 420.6,112.2 421.1,112.4 421.5,112.3 422,112.4 422.5,112.5 422.9,112.4 423.4,112.1 423.8,112.3 424.3,112.5 424.8,112.3 425.2,112.5 425.7,112.2 426.2,112.3 426.6,112.6 427.1,112.5 427.5,112.4 428,112 428.5,112.4 428.9,112 429.4,112.6 429.9,112.6 430.3,112.5 430.8,112.1 431.2,112.5 431.7,112.1 432.2,112.5 432.6,112.3 433.1,112 433.6,112.6 434,112.3 434.5,112.5 434.9,112.4 435.4,112.3 435.9,112.6 436.3,112.1 436.8,112.6 437.3,112.2 437.7,112 438.2,112.2 438.6,112 439.1,112 439.6,112.4 440,112 440.5,112.1 441,112.2 441.4,112.1 441.9,112.6 442.3,112.6 442.8,112.6 443.3,112.6 443.7,112.3 444.2,112.5 444.7,112.1 445.1,112.6 445.6,112.5 446,112.5 446.5,112.1 447,112 447.4,112.6 447.9,112.3 448.4,112.4 448.8,112.6 449.3,112.1 449.7,112.4 450.2,112.3 450.7,112.5 451.1,112.3 451.6,112.1 452.1,112.6 452.5,112.1 453,112.5 453.4,112.5 453.9,112.1 454.4,112.4 454.8,112.2 455.3,112.1 455.8,112.1 456.2,112.6 456.7,112.2 457.1,112.3 457.6,112.3 458.1,112 458.5,112.5 459,112.5 459.5,112.6 459.9,112.2 460.4,112.1 460.8,112.2 461.3,112.5 461.8,112.4 462.2,112.2 462.7,112.3 463.2,112.1 463.6,112.6 464.1,112.3 464.5,112.3 465,112.5 465.5,112.1 465.9,112.5 466.4,112.2 466.9,112.5 467.3,112 467.8,112.1 468.2,112.4 468.7,112.3 469.2,112.2 469.6,112.4 470.1,112.1 470.6,112.3 471,112 471.5,112.5 471.9,112.1 472.4,112.5 472.9,112.3 473.3,112.4 473.8,112.4 474.3,112 474.7,112.5 475.2,112.2 475.6,112.6 476.1,112.5 476.6,112.4 477,112.5 477.5,112.3 478,112.4 478.4,112.6 478.9,112.1 479.3,112 479.8,112.2 480.3,112.3 480.7,112.1 481.2,112.1 481.7,112.6 482.1,112.2 482.6,112.1 483,112.1 483.5,112.4 484,112.1 484.4,112.3 484.9,112.3 485.4,112.3 485.8,112.3 486.3,112.5 486.7,112 487.2,112.6 487.7,112.1 488.1,112 488.6,112.5 489.1,112.3 489.5,112.3 490,112.1 490.4,112.5 490.9,112.2 491.4,112.5 491.8,112.1 492.3,112.4 492.8,112.4 493.2,112.2 493.7,112.3 494.1,112 494.6,112.4 495.1,112.4 495.5,112.1 496,112.3 496.5,112.5 496.9,112 497.4,112.5 497.8,112.6 498.3,112 498.8,112.1 499.2,112 499.7,112.1 500.2,112 500.6,112.3 501.1,112.1 501.5,112.2 502,112.3 502.5,112.2 502.9,112.5 503.4,112.5 503.9,112 504.3,112.1 504.8,112 505.2,112.2 505.7,112 506.2,112.4 506.6,112.5 507.1,112.6 507.6,112.1 508,112 508.5,112.5 508.9,112.2 509.4,112.6 509.9,112.2 510.3,112.2 510.8,112 511.3,112.6 511.7,112.3 512.2,112.3 512.6,112.3 513.1,112.5 513.6,112.5 514,112.3 514.5,112.1 515,112.2 515.4,112.6 515.9,112.2 516.3,112.4 516.8,112.3 517.3,112.3 517.7,112.4 518.2,112.1 518.7,112.3 519.1,112.6 519.6,112 520,112.2 520.5,112.6 521,112.6 521.4,112 521.9,112.4 522.4,112.4 522.8,112.5 523.3,112.3 523.7,112 524.2,112.2 524.7,112.4 525.1,112.5 525.6,112.1 526.1,112.4 526.5,112.4 527,112.4 527.4,112 527.9,112.3 528.4,112.2 528.8,112.4 529.3,112.2 529.8,112 530.2,112.4 530.7,112.2 531.1,112.5 531.6,112.2" stroke="#2a2aff" stroke-width="1.2" fill="none"/><path d="M419.7 112.3v-1" stroke="#2a2aff" stroke-width="0.8"/></g>
<g clip-path="url(#c4)">
<path d="M383.6 101.6h0M384 100.9h0M384.3 100.2h0M384.4 99.2h0M384.6 96.9h0M384.6 96.4h0M384.6 95.1h0M384.7 94.5h0M384.9 93.6h0M384.7 92.5h0M384.9 91.8h0M384.8 91.6h0M384.7 90.7h0M384.7 89.1h0M384.6 88.6h0M384.9 87.5h0M384.7 87.3h0M384.7 85.7h0M384.8 85.2h0M384.9 84.9h0M384.7 83.7h0M384.8 82.2h0M384.8 82.4h0M384.7 81.1h0M384.9 79.7h0M385 78.9h0M384.8 78.8h0M384.7 77.5h0M384.7 76.8h0M384.7 75.6h0M384.7 74.6h0M384.7 73.9h0M384.9 73h0M385 72.5h0M384.8 71.5h0M385 70.4h0M385 69.6h0M385 69.2h0M384.9 68.9h0M384.7 67.1h0M385 66.9h0M385 65.6h0M384.9 64.6h0M384.9 63.9h0M384.9 63h0M384.8 62.5h0M384.8 61.8h0M384.9 60.2h0M384.8 59.7h0M385 59h0M384.9 57.6h0M385.1 56.5h0M385.2 58.2h0M385.2 59.2h0M384.9 60h0M385.1 60.2h0M385.2 61.6h0M385.2 62.4h0M384.9 63.7h0M384.9 63.8h0M385.1 64.6h0M385.1 66.1h0M384.9 67h0M384.9 67.6h0M385.1 68.7h0M384.9 68.9h0M385.3 70h0M385.1 70.8h0M385.2 72.1h0M385.2 72.5h0M385.1 73.5h0M385 74.8h0M385.3 75.5h0M385.3 75.9h0M385.3 76.5h0M385.2 77.9h0M385.3 78.9h0M385.3 79.1h0M385.3 80.2h0M385.1 80.9h0M385.3 82.3h0M385.3 82.9h0M385.1 83.1h0M385.2 84.1h0M385.1 84.8h0M385.1 86.4h0M385.1 87.4h0M385.2 88.2h0M385.1 88.4h0M385.2 88.9h0M385.2 90.2h0M385.1 91.6h0M385.2 91.4h0M385.4 92.5h0M385.2 93.2h0M385.2 94.9h0M385.3 95.6h0M385.2 96.1h0M385.5 97.1h0M385.6 98.7h0M385.4 99.7h0M385.5 100.5h0M386.4 99.9h0M386.4 98.3h0M386.3 96.7h0M386.4 95.1h0M386.4 94.2h0M386.7 95.6h0M386.8 96.8h0M386.9 98.4h0M386.9 98.9h0M387.1 100.2h0M387 100.9h0M388 101.9h0M388.7 101.6h0M389.6 101.7h0M390.2 101.3h0M391.1 100.9h0M391.3 100.4h0M391.7 98.8h0M391.7 98.6h0M391.5 96.2h0M391.7 95.3h0M391.9 94.9h0M391.7 93.8h0M391.8 92.2h0M391.9 91.4h0M391.6 90.9h0M391.6 90h0M391.7 89.8h0M391.7 88.8h0M391.9 87.6h0M391.7 86.4h0M391.8 85.6h0M391.9 84.8h0M391.8 83.9h0M392 82.5h0M391.8 81.3h0M391.7 80.6h0M391.8 80.7h0M391.9 80.1h0M392 78.8h0M391.9 77.3h0M391.9 76.8h0M392 75.8h0M392 76.9h0M392 77.8h0M391.8 79h0M392.1 79.6h0M391.9 80.4h0M392.1 81.7h0M392.1 81.4h0M392.2 83.1h0M392 84.3h0M392.2 85.2h0M392 85.8h0M392 86.4h0M392.2 87.6h0M392 88.4h0M392.2 89.3h0M392.2 90.1h0M392.3 90.4h0M392.1 91.8h0M392.2 93.2h0M392.2 93.4h0M392.2 94.3h0M392.3 96h0M392 96.4h0M392.4 97.6h0M392.4 98.6h0M392.4 100.4h0M392.5 100.7h0M393.2 101.5h0M394.1 101.5h0M394.5 100.7h0M395.2 101.6h0M395.9 101.1h0M396.6 101.2h0M397.1 101.2h0M397.2 99.6h0M397.5 99.2h0M397.3 97.3h0M397.5 96.8h0M397.4 95.6h0M397.6 96.3h0M397.9 97h0M397.7 98.3h0M397.7 99.3h0M398 100.7h0M398.1 101.7h0M399.1 101h0M399.9 101.7h0M400 101.1h0M400.7 100.9h0M401.2 101.8h0M402.2 100.6h0M402.4 100.4h0M402.5 99h0M402.6 96.9h0M402.6 96.6h0M402.4 95.3h0M402.6 94.7h0M402.6 93.1h0M402.5 92.6h0M402.4 92h0M402.7 90.3h0M402.7 89.9h0M402.5 89.2h0M402.7 87.8h0M402.5 87h0M402.8 86.2h0M402.9 86.9h0M402.6 87.9h0M402.9 88.5h0M402.6 90h0M402.7 90.8h0M402.7 91.3h0M402.9 93h0M402.8 93.3h0M402.7 94.1h0M402.8 95.5h0M403 96.5h0M402.9 97.4h0M402.8 98.4h0M403 99.2h0M403.2 100.1h0M403.4 100.9h0M404.3 101.5h0M405 101.2h0M405.6 101.1h0M405.5 99.7h0M405.7 98.2h0M405.7 99.1h0M405.9 100.9h0M406 101.2h0M407.1 101.4h0M407.7 101.7h0M408.1 100.4h0M407.9 99.9h0M408.4 101.1h0M408.6 101.1h0M409.3 101.2h0M410.1 101.4h0M411 101.9h0M411.7 100.9h0M411.9 99.4h0M412 98.1h0M412 97h0M412.1 95.7h0M412.1 95.6h0M411.9 94.6h0M411.9 93.3h0M412 91.7h0M411.9 91.2h0M412.1 89.4h0M412.3 88.7h0M412.1 89.8h0M412.2 91.3h0M412.3 92h0M412.2 92.5h0M412.1 94.2h0M412.3 95.2h0M412.4 96.2h0M412.2 97h0M412.2 98.4h0M412.4 99.1h0M412.4 100h0M412.6 101h0M413.4 101.9h0M413.9 100.1h0M413.8 99.1h0M414 98.7h0M414.4 99.2h0M414.5 100.4h0M414.6 101.3h0M415.2 100.5h0M415.7 100.5h0M415.7 99.6h0M415.9 97.7h0M415.6 97.1h0M415.8 95.9h0M415.6 95.2h0M415.7 94.4h0M415.9 92.7h0M415.9 91.5h0M415.8 90.5h0M416 89.8h0M416.1 88.9h0M416.1 90h0M416.1 90.7h0M416.1 91.5h0M416.3 93.2h0M416.1 94.3h0M416 95h0M416.1 96.7h0M416 97h0M416.3 98.2h0M416.3 98.8h0M416.2 100.5h0M416.5 101.3h0M417.3 101.7h0M418.1 101.7h0M419 100.8h0M419.2 99.3h0M419.3 97.6h0M419.2 96.4h0M419.3 95.2h0M419.2 94.7h0M419.3 93.7h0M419.3 91.8h0M419.4 91.1h0M419.3 89.8h0M419.2 89.5h0M419.4 88.4h0M419.3 87.6h0M419.4 86.1h0M419.4 85.7h0M419.5 84.1h0M419.4 85.3h0M419.4 86.2h0M419.6 87.4h0M419.4 88.5h0M419.4 89.6h0M419.4 89.9h0M419.5 91.4h0M419.5 92.8h0M419.8 93.1h0M419.7 94.5h0M419.7 95.1h0M419.8 97.1h0M419.5 97.9h0M419.7 98.8h0M419.8 100.6h0M420.2 99.9h0M420.4 97.4h0M420.7 96.8h0M420.6 97.6h0M420.7 98.4h0M420.7 99.8h0M421 100.9h0M421.6 101.2h0M422.2 100.5h0M422.2 99.4h0M422.4 97.7h0M422.3 95.9h0M422.2 95.8h0M422.4 94h0M422.6 93.5h0M422.4 94.7h0M422.5 95.3h0M422.7 96h0M422.6 97.9h0M422.6 99h0M422.7 100.3h0M422.7 100.9h0M423.1 101h0M423.9 100.9h0M424.5 100.1h0M424.7 99.1h0M424.8 98.9h0M424.8 99.2h0M425.1 100.5h0M425.4 101.1h0M426 101.8h0M426.5 101h0M426.8 98.9h0M426.7 98.7h0M426.6 97.3h0M426.8 95.7h0M426.8 93.7h0M427.1 94.9h0M427.1 97.1h0M427 98.4h0M427 99.5h0M427 100.9h0M427.4 101.5h0M428.2 101.4h0M428.3 100.2h0M428.2 99.3h0M428.4 100.6h0M428.8 100.9h0M429.6 101.8h0M430.1 100.2h0M430.1 100.2h0M430.2 97.6h0M430.3 96.8h0M430.3 95.8h0M430.2 93.6h0M430.6 95.1h0M430.3 96.4h0M430.7 98.5h0M430.4 98.8h0M430.8 100.6h0M430.9 100.8h0M431.6 101.9h0M432.2 100.9h0M432.3 100.8h0M432.4 99.9h0M432.9 100.4h0M432.7 101.3h0M433.6 101.4h0M434.2 101.1h0M434.7 99.5h0M434.7 99h0M434.6 97.7h0M434.7 96.8h0M434.8 95.6h0M434.8 93.8h0M435.1 94.8h0M434.8 96.4h0M435 97.6h0M435 98.6h0M435.3 99.9h0M435.4 100.9h0M435.8 101.6h0M436.4 101.5h0M436.6 100.4h0M437.1 101.4h0M437.5 101.2h0M438.6 101.7h0M438.9 100.1h0M438.7 99.3h0M439.2 100.9h0M439.4 101.7h0M440.1 101.5h0M441.1 101.6h0M441.3 100.7h0M441.7 101.6h0M442.5 101h0M443.3 101.3h0M444.1 101.3h0M444.5 100.4h0M444.6 99.3h0M444.8 97.9h0M444.5 97.3h0M444.7 96h0M444.8 95h0M444.7 93.6h0M444.9 93.7h0M444.7 92.3h0M444.8 91h0M445.1 92.7h0M444.9 92.9h0M445.1 94.5h0M445 95.1h0M444.9 96.5h0M445.2 97.4h0M445 98.5h0M445.3 99.7h0M445.2 100.1h0M445.4 101.5h0M446.2 101.8h0M447.2 101.1h0M447.4 100.7h0M447.4 98.9h0M447.6 100.1h0M447.6 101.6h0M448.5 101h0M449.1 101.3h0M449.9 101h0M450.1 100.7h0M450.3 101.3h0M451 102h0M452 101.2h0M452.7 100.9h0M452.9 100.4h0M453.1 98.8h0M452.9 97.8h0M453.2 96.9h0M453.2 98.4h0M453.5 99h0M453.3 100.4h0M453.5 101.4h0M454.1 101.1h0M455 101.9h0M455.3 100.2h0M455.4 99.4h0M455.7 100.4h0M456.1 101.2h0M456.8 101.3h0M457.5 101.4h0M458 101.9h0M458.8 102h0M459.4 100.9h0M459.5 99.5h0M459.5 98.7h0M459.6 97.5h0M459.8 98.3h0M459.7 98.6h0M459.9 100.5h0M460.1 100.5h0M460.8 101.4h0M461.4 101.2h0M462.2 101.9h0M463.1 101.2h0M463.5 100.5h0M463.6 99.7h0M463.9 99.3h0M464 100.4h0M464.1 100.3h0M464.2 101h0M465.1 101.5h0M466.1 101.5h0M466.3 100.2h0M466.8 101.6h0M467.3 100.9h0M468.4 101.2h0M469.1 100.7h0M469.7 101.3h0M470.6 101.2h0M471.1 101.1h0M472.1 102h0M472.4 100.8h0M472.6 101h0M473.3 102.1h0M474 101.6h0M474.9 100.8h0M475.7 102h0M476.4 101.1h0M477.3 101.7h0M478 101.1h0M478.8 100.5h0M479.2 101.1h0M480.1 101.5h0M480.9 101.8h0M481.8 101.4h0M482.3 101.8h0M483 100.8h0M483.2 100.1h0M483.5 98.2h0M483.4 98.2h0M483.7 98.2h0M483.8 100.3h0M483.7 100.4h0M484.3 101.2h0M484.9 101h0M485.7 100.6h0M485.8 100.3h0M486 99.3h0M486.2 99.7h0M486.2 101.6h0M487.1 102h0M487.9 101.5h0M488.6 101.5h0M488.8 100.5h0M489.3 101.8h0M490.1 101.4h0M491 101h0M491.9 101.8h0M492.3 101.2h0M492.5 100.9h0M493.5 101.7h0M494.1 101.3h0M494.8 101.9h0M495.7 101.7h0M495.9 100.3h0M496.3 101.6h0M497.1 101.3h0M497.9 101.4h0M498.7 101.8h0M499.4 101.3h0M500.1 101.9h0M501 101.2h0M501.2 100.2h0M502 100.7h0M502.7 101.5h0M503.4 101.5h0M504.1 101.5h0M504.5 101.2h0M505 100.9h0M505.9 101.7h0M506.8 101.7h0M507.6 100.9h0M508 101h0M508.5 100.1h0M508.8 101.6h0M509.4 101.5h0M510.4 101.8h0M511 101.5h0M511.8 102h0M512.7 101.7h0M512.9 101h0M513.4 101.7h0M514.2 101.9h0M515.1 101.4h0M515.8 101.9h0M516.6 102h0M517.2 101.9h0M517.8 100.6h0M518.1 100.9h0M518.7 101.7h0M519.6 101.3h0M520.5 101.7h0M520.9 101h0M521.7 101.6h0M522.6 101.2h0M523.4 101h0M524.4 101.8h0M524.6 100.7h0M524.9 101.5h0M525.7 102.1h0M526.7 101.8h0M527.5 101h0M528 101.3h0M528.8 101.4h0M529.9 101.9h0M530.7 101.2h0M531.2 100.9h0" stroke="#000" stroke-width="3.4" stroke-linecap="round" fill="none"/>
<polyline points="383.6,101.2 384.1,100.8 384.3,100.2 384.6,97.3 385,56.8 385.4,98.3 385.7,100.3 386,100.7 386.2,100.4 386.6,93.5 386.9,100.3 387.1,101 387.5,101.3 390.7,101.3 391.2,100.9 391.5,100.1 391.9,76.3 392.3,99.1 392.6,100.7 393.4,101.3 394.3,101.3 394.7,99.9 395.1,101.3 396.5,101.4 397.1,101.1 397.6,94.8 397.8,100.2 398.1,101.2 398.7,101.4 399.8,101.3 400.3,99.9 400.7,101.3 401.6,101.3 402.1,101 402.4,98.6 402.7,86.3 403,98.6 403.1,100.4 403.4,101.1 404.3,101.4 405.2,101.2 405.7,98.3 405.9,100.9 406.2,101.3 407.7,101.3 408.1,99.3 408.6,101.3 410.6,101.4 411.5,101.1 411.8,99.1 412.1,89.1 412.6,100.8 413.1,101.3 413.8,101.1 414.1,98.2 414.5,101.1 414.9,101.3 415.3,101.1 415.7,99.1 416,89.1 416.4,100.6 416.6,101 417,101.3 418.6,101.2 418.9,100.7 419.1,99.2 419.4,84.4 419.8,99.8 420,100.6 420.1,100.8 420.3,100.6 420.6,97.1 420.9,100.8 421.3,101.2 421.9,101.1 422.1,100.2 422.5,92.4 422.8,100.3 422.9,100.9 423.2,101.3 424,101.3 424.4,101.1 424.8,98.2 425.1,101.1 425.8,101.3 426.4,101 426.8,93.7 427.1,100 427.4,101.1 427.9,101.3 428.1,101.1 428.5,99.2 428.8,101.2 429.5,101.3 429.9,100.9 430.3,93.7 430.8,101 431.3,101.4 432.2,101.3 432.6,99.2 433,101.2 433.6,101.4 434.2,101.2 434.6,99.9 434.8,93.3 435.1,99.9 435.4,101.2 436.4,101.3 436.8,100 437.2,101.3 438.5,101.4 438.9,99.3 439.4,101.4 441,101.4 441.4,100 441.8,101.4 444,101.3 444.4,100.9 444.6,100.1 444.9,90.8 445.2,100.1 445.4,101.1 446.1,101.4 447.1,101.3 447.4,99.3 447.9,101.4 449.8,101.4 450.2,100 450.6,101.4 452.7,101.3 452.9,100.7 453.2,97.3 453.5,100.7 453.7,101.3 455.2,101.3 455.6,99.3 456.1,101.4 457.2,101.4 457.6,100.2 458,101.4 459,101.4 459.4,100.7 459.7,97.3 460,100.9 460.2,101.3 460.9,101.5 463.4,101.3 463.8,98.8 464.1,101.1 464.6,101.4 466,101.4 466.4,100.2 466.7,101.3 467.1,101.5 468.7,101.4 469.2,100.5 469.4,101.3 469.8,101.5 472,101.4 472.4,100.5 472.9,101.4 474.8,101.4 475.2,100.5 475.6,101.4 478.2,101.5 478.6,101.3 478.9,100.2 479.3,101.4 482.7,101.4 483.2,101 483.5,97.8 483.8,101 484,101.3 484.5,101.4 485.6,101.3 486,99.3 486.3,101.2 487,101.5 488.6,101.4 489.1,100.2 489.3,101.3 489.7,101.5 491.9,101.4 492.3,100.5 492.6,101.3 492.9,101.5 495.5,101.4 496,100.5 496.5,101.5 500.8,101.5 501.3,101.2 501.5,100 501.9,101.3 502.4,101.5 504.4,101.4 504.8,100.5 505.1,101.3 505.3,101.5 508,101.4 508.5,100.5 508.9,101.4 512.5,101.5 512.8,101.3 513.1,100.5 513.6,101.4 517,101.5 517.4,101.3 517.7,100.5 518.2,101.5 523.8,101.5 524.3,101.4 524.7,100.5 524.9,101.3 525.2,101.5 531.6,101.5" stroke="#b80000" stroke-width="0.7" fill="none" stroke-linejoin="round"/>
</g>
<rect x="383.6" y="34.2" width="148" height="85.9" fill="none" stroke="#8a8a8a" stroke-width="0.8"/>
<path d="M383.6 120.1v-1.2M383.6 34.2v1.2M388.2 120.1v-1.2M388.2 34.2v1.2M392.9 120.1v-1.8M392.9 34.2v1.8M397.5 120.1v-1.2M397.5 34.2v1.2M402.1 120.1v-1.2M402.1 34.2v1.2M406.7 120.1v-1.2M406.7 34.2v1.2M411.4 120.1v-1.2M411.4 34.2v1.2M416 120.1v-1.8M416 34.2v1.8M420.6 120.1v-1.2M420.6 34.2v1.2M425.2 120.1v-1.2M425.2 34.2v1.2M429.9 120.1v-1.2M429.9 34.2v1.2M434.5 120.1v-1.2M434.5 34.2v1.2M439.1 120.1v-1.8M439.1 34.2v1.8M443.7 120.1v-1.2M443.7 34.2v1.2M448.4 120.1v-1.2M448.4 34.2v1.2M453 120.1v-1.2M453 34.2v1.2M457.6 120.1v-1.2M457.6 34.2v1.2M462.2 120.1v-1.8M462.2 34.2v1.8M466.9 120.1v-1.2M466.9 34.2v1.2M471.5 120.1v-1.2M471.5 34.2v1.2M476.1 120.1v-1.2M476.1 34.2v1.2M480.7 120.1v-1.2M480.7 34.2v1.2M485.4 120.1v-1.8M485.4 34.2v1.8M490 120.1v-1.2M490 34.2v1.2M494.6 120.1v-1.2M494.6 34.2v1.2M499.2 120.1v-1.2M499.2 34.2v1.2M503.9 120.1v-1.2M503.9 34.2v1.2M508.5 120.1v-1.8M508.5 34.2v1.8M513.1 120.1v-1.2M513.1 34.2v1.2M517.7 120.1v-1.2M517.7 34.2v1.2M522.4 120.1v-1.2M522.4 34.2v1.2M527 120.1v-1.2M527 34.2v1.2M531.6 120.1v-1.8M531.6 34.2v1.8" stroke="#777" stroke-width="0.7"/>
<text x="392.9" y="130.4" font-size="7.0" text-anchor="middle" fill="#111" >20</text>
<text x="416" y="130.4" font-size="7.0" text-anchor="middle" fill="#111" >25</text>
<text x="439.1" y="130.4" font-size="7.0" text-anchor="middle" fill="#111" >30</text>
<text x="462.2" y="130.4" font-size="7.0" text-anchor="middle" fill="#111" >35</text>
<text x="485.4" y="130.4" font-size="7.0" text-anchor="middle" fill="#111" >40</text>
<text x="508.5" y="130.4" font-size="7.0" text-anchor="middle" fill="#111" >45</text>
<text x="531.6" y="130.4" font-size="7.0" text-anchor="middle" fill="#111" >50</text>
<text x="467.6" y="144.4" font-size="7.65" text-anchor="middle" fill="#111" >Diffraction angle 2&#952; (deg)</text>
<text transform="translate(379.6 64.9) rotate(-90)" font-size="6.8" text-anchor="middle" fill="#111">Intensity (arb.units)</text>
<rect x="457.7" y="36.5" width="65.8" height="34" fill="#fff" stroke="#8a8a8a" stroke-width="0.7"/>
<circle cx="471.9" cy="44.8" r="1.2" fill="#000"/>
<path d="M462.3 53.3h18.6" stroke="#e87070" stroke-width="0.6"/>
<path d="M462.1 61.3h17" stroke="#9a9ae6" stroke-width="0.9" stroke-dasharray="4.2,2.3"/>
<text x="484.5" y="47.2" font-size="6.8" text-anchor="start" fill="#111" >Observed</text>
<text x="484.5" y="55.4" font-size="6.8" text-anchor="start" fill="#111" >Calculated</text>
<text x="484.5" y="63.6" font-size="6.8" text-anchor="start" fill="#111" >Residual</text>
<clipPath id="c5"><rect x="24.4" y="224.8" width="244.6" height="170.6"/></clipPath>
<g clip-path="url(#c5)"><polyline points="27.4,382.2 27.9,382.1 28.4,382.3 28.9,382.2 29.4,382.4 29.9,382.3 30.4,382.3 31,382.2 31.5,382.4 32,382.4 32.5,382.4 33,382.3 33.5,382.3 34,382.2 34.5,382.1 35,382.3 35.5,382.4 36,382.1 36.5,382.5 37,382.5 37.6,382.5 38.1,382.5 38.6,382.3 39.1,382.1 39.6,382.2 40.1,382.4 40.6,382.5 41.1,382.1 41.6,382.1 42.1,382.2 42.6,382.2 43.1,382.3 43.6,382.1 44.2,382.5 44.7,382.2 44.7,382.3 44.7,382.3 45.2,382.5 45.7,382.2 46.2,382.2 46.7,382.1 47.1,382.3 47.2,382.5 47.7,382.3 48.2,382.5 48.7,382.1 49.2,382.3 49.7,382.4 50.2,382.5 50.8,382.5 51.3,382.1 51.8,382.2 52.3,382.5 52.8,382.3 53.3,382.5 53.8,382.2 54.3,382.1 54.8,382.5 55.3,382.2 55.8,382.3 56.3,382.2 56.8,382.3 57.4,382.5 57.9,382.5 58.4,382.5 58.9,382.2 58.9,382.3 59.4,382.5 59.9,382.1 60.4,382.3 60.9,382.5 61.4,382.2 61.9,382.2 62.4,382.3 62.9,382.2 63.4,382.4 64,382.4 64.5,382.1 65,382.5 65.5,382.1 66,382.4 66.5,382.2 67,382.1 67.5,382.1 68,382.5 68.5,382.4 69,382.3 69.5,382.4 70,382.5 70.6,382.5 71.1,382.3 71.6,382.2 72.1,382.3 72.6,382.5 73.1,382.4 73.6,382.4 73.6,382.3 74.1,382.5 74.6,382.3 75.1,382.3 75.6,382.5 76.1,382.1 76.6,382.5 77.2,382.1 77.7,382.3 78.2,382.3 78.7,382.1 79.2,382.5 79.7,382.3 80.2,382.1 80.7,382.3 80.7,382.3 80.7,382.3 81.2,382.3 81.7,382.3 82.2,382.1 82.7,382.1 83.2,382.4 83.8,382.1 84.3,382.2 84.8,382.5 85.3,382.5 85.8,382.5 86.3,382.1 86.8,382.1 87.3,382.4 87.8,382.3 88.3,382.2 88.8,382.1 89.3,382.3 89.8,382.2 90.3,382.3 90.9,382.5 91.4,382.2 91.9,382.1 92.4,382.4 92.9,382.1 93.4,382.2 93.9,382.3 94.4,382.5 94.9,382.2 95.4,382.2 95.9,382.3 96.4,382.1 96.9,382.3 97.5,382.4 98,382.2 98.5,382.4 99,382.1 99.5,382.1 100,382.4 100.5,382.3 101,382.5 101.5,382.1 102,382.4 102.5,382.4 103,382.2 103.5,382.1 104.1,382.4 104.6,382.4 105.1,382.3 105.6,382.3 106.1,382.4 106.6,382.4 107.1,382.3 107.6,382.1 108.1,382.3 108.6,382.3 109.1,382.5 109.6,382.5 110.1,382.3 110.7,382.2 111.2,382.2 111.7,382.4 112.2,382.4 112.7,382.2 113.2,382.4 113.7,382.5 114.2,382.2 114.7,382.5 115.2,382.3 115.7,382.4 116.2,382.5 116.7,382.2 117.3,382.2 117.8,382.5 118.3,382.1 118.8,382.2 119.3,382.3 119.8,382.4 120.3,382.4 120.8,382.5 121.3,382.4 121.8,382.1 122.3,382.1 122.8,382.1 123.3,382.3 123.9,382.1 124.4,382.3 124.9,382.4 125.4,382.2 125.9,382.5 126.4,382.3 126.9,382.5 127.4,382.2 127.9,382.4 128.4,382.3 128.9,382.2 129.4,382.4 129.9,382.1 130.5,382.2 131,382.2 131.5,382.5 132,382.3 132.5,382.1 133,382.2 133.5,382.4 134,382.3 134,382.5 134.5,382.1 135,382.4 135.5,382.2 136,382.3 136.5,382.3 137.1,382.3 137.6,382.5 138.1,382.5 138.6,382.5 139.1,382.4 139.6,382.4 140.1,382.1 140.6,382.1 141.1,382.5 141.6,382.4 142.1,382.4 142.6,382.2 143.1,382.2 143.7,382.5 144.2,382.3 144.7,382.1 145.2,382.2 145.7,382.2 146.2,382.1 146.7,382.5 147.2,382.5 147.7,382.5 148.2,382.1 148.7,382.3 149.2,382.1 149.7,382.4 150.3,382.5 150.8,382.4 151.3,382.4 151.8,382.1 152.3,382.1 152.8,382.1 153.3,382.5 153.8,382.5 154.3,382.3 154.8,382.2 155.3,382.5 155.8,382.1 156.3,382.2 156.9,382.1 157.4,382.5 157.9,382.3 158.4,382.4 158.9,382.5 159.4,382.3 159.9,382.5 160.4,382.4 160.9,382.5 161.4,382.5 161.9,382.1 162.4,382.4 162.9,382.2 163.5,382.2 164,382.2 164.5,382.5 165,382.1 165.5,382.3 166,382.1 166.5,382.5 167,382.3 167.5,382.4 168,382.3 168.5,382.4 169,382.2 169.5,382.3 170.1,382.4 170.6,382.4 171.1,382.5 171.6,382.2 172.1,382.5 172.6,382.4 173.1,382.3 173.6,382.3 174.1,382.3 174.6,382.1 175.1,382.1 175.6,382.2 176.1,382.1 176.7,382.1 177.2,382.4 177.7,382.4 178.2,382.4 178.7,382.2 179.2,382.4 179.7,382.5 180.2,382.4 180.7,382.2 181.2,382.3 181.7,382.2 182.2,382.2 182.7,382.1 183.3,382.5 183.8,382.4 184.3,382.5 184.8,382.1 185.3,382.2 185.8,382.3 186.3,382.1 186.8,382.2 187.3,382.3 187.8,382.3 188.3,382.5 188.8,382.3 189.3,382.4 189.9,382.3 190.4,382.4 190.9,382.2 191.4,382.1 191.9,382.5 192.4,382.4 192.9,382.1 193.4,382.1 193.9,382.2 194.4,382.4 194.9,382.1 195.4,382.1 195.9,382.3 196.5,382.1 197,382.2 197.5,382.2 198,382.2 198.5,382.1 199,382.2 199.5,382.2 200,382.2 200.5,382.3 201,382.2 201.5,382.2 202,382.1 202.5,382.5 203.1,382.4 203.6,382.3 204.1,382.1 204.6,382.2 205.1,382.5 205.6,382.3 206.1,382.2 206.6,382.5 207.1,382.5 207.6,382.1 208.1,382.3 208.6,382.3 209.1,382.1 209.6,382.2 210.2,382.4 210.7,382.4 211.2,382.4 211.7,382.4 212.2,382.2 212.7,382.1 213.2,382.1 213.7,382.5 214.2,382.5 214.7,382.5 215.2,382.1 215.7,382.4 216.2,382.1 216.8,382.2 217.3,382.2 217.8,382.5 218.3,382.5 218.8,382.5 219.3,382.2 219.8,382.5 220.3,382.2 220.8,382.3 221.3,382.4 221.8,382.2 222.3,382.2 222.8,382.1 223.4,382.4 223.9,382.1 224.4,382.1 224.9,382.2 225.4,382.4 225.9,382.4 226.4,382.3 226.9,382.5 227.4,382.4 227.9,382.2 228.4,382.3 228.9,382.1 229.4,382.2 230,382.1 230.5,382.1 231,382.2 231.5,382.5 232,382.4 232.5,382.1 233,382.2 233.5,382.3 234,382.3 234.5,382.1 235,382.1 235.5,382.3 236,382.4 236.6,382.1 237.1,382.4 237.6,382.2 238.1,382.3 238.6,382.3 239.1,382.2 239.6,382.5 240.1,382.2 240.6,382.3 241.1,382.3 241.6,382.5 242.1,382.5 242.6,382.4 243.2,382.3 243.7,382.4 244.2,382.4 244.7,382.5 245.2,382.5 245.7,382.4 246.2,382.2 246.7,382.3 247.2,382.3 247.7,382.2 248.2,382.4 248.7,382.2 249.2,382.4 249.8,382.3 250.3,382.3 250.8,382.4 251.3,382.4 251.8,382.5 252.3,382.5 252.8,382.4 253.3,382.2 253.8,382.4 254.3,382.3 254.8,382.5 255.3,382.3 255.8,382.2 256.4,382.1 256.9,382.3 257.4,382.3 257.9,382.2 258.4,382.1 258.9,382.3 259.4,382.1 259.9,382.1 260.4,382.3 260.9,382.2 261.4,382.3 261.9,382.3 262.4,382.2 263,382.1 263.5,382.1 264,382.3 264.5,382.5 265,382.2 265.5,382.2 266,382.2" stroke="#2a2aff" stroke-width="0.9" fill="none"/><path d="M44.7 382.3v-9.5M44.7 382.3v1.5M47.1 382.3v-7M58.9 382.3v1.5M80.7 382.3v-5M80.7 382.3v1.5M73.6 382.3v1.5M134 382.3v1" stroke="#2a2aff" stroke-width="0.8"/></g>
<g clip-path="url(#c5)">
<path d="M27.5 371.9h0M28.5 371h0M29.1 371.1h0M30.1 371.1h0M31.1 371.6h0M32 370.8h0M33.2 370.6h0M33.9 370.6h0M34.7 369.2h0M35.9 369.6h0M36.7 368.6h0M37.6 368.8h0M38.5 368.4h0M39.5 368.2h0M40.2 368.7h0M41.1 367.5h0M42 367.9h0M42.4 366.1h0M43.1 365h0M43.1 365h0M43.3 363.9h0M43.2 362.9h0M43.3 361.7h0M43.5 360.4h0M43.5 358.3h0M43.4 357.3h0M43.4 355.2h0M43.8 354h0M43.8 352.4h0M43.7 351.7h0M43.5 350.3h0M43.9 349.7h0M43.7 348.3h0M43.9 347.4h0M43.8 344.7h0M43.9 343.3h0M43.7 341.7h0M43.8 340.7h0M43.8 338.7h0M43.7 337.3h0M43.9 334.8h0M44 333.7h0M44.1 332.7h0M43.7 330.9h0M43.9 329.6h0M44.1 329.5h0M43.8 327.8h0M44.2 327.3h0M44 325.1h0M44 324.5h0M44.1 322.9h0M43.9 322.9h0M43.8 321.2h0M43.9 320.3h0M44 319.3h0M43.9 318.1h0M43.9 315.7h0M43.9 314.6h0M44 314.6h0M44 313h0M43.9 311.5h0M44.1 309.7h0M44.2 309h0M44.1 308.3h0M44.2 306.1h0M44 304.8h0M44.1 304.4h0M44.4 303.7h0M44.3 301.3h0M44.3 301h0M44.2 300.2h0M44.3 297.8h0M44.1 296.7h0M44.3 296.3h0M44.4 294.3h0M44 294.6h0M44.2 292.5h0M44.4 291.2h0M44.4 291.3h0M44.3 289.9h0M44.1 288h0M44.4 286.5h0M44.4 284h0M44.3 283.3h0M44.2 281.3h0M44.3 281.2h0M44.5 279h0M44.8 281h0M44.5 282h0M44.8 283h0M44.6 284.8h0M44.9 286.5h0M44.6 288.2h0M44.6 289.9h0M44.8 290.3h0M44.7 291.7h0M44.8 293.5h0M44.7 294.3h0M44.7 294.9h0M44.8 296.4h0M44.7 297.8h0M44.8 298.4h0M44.7 300.2h0M45 301.6h0M44.7 301.5h0M44.9 302.7h0M45 304.8h0M44.8 305.7h0M45 306.5h0M44.8 308.6h0M45 309.5h0M44.7 310.2h0M44.8 311.2h0M45 313.2h0M45.1 314.4h0M45.1 315.5h0M45 316.4h0M45 318.5h0M45 318.4h0M44.9 319.9h0M45 321.5h0M45 323.2h0M45.1 323.2h0M44.8 325.2h0M45.1 326.3h0M45 326.5h0M45 328.8h0M45.1 328.7h0M44.9 331h0M45.1 331h0M45.2 333.1h0M45.3 333.8h0M45.3 335h0M45.1 337.9h0M45.1 338.8h0M45.3 341.4h0M45 342.2h0M45.3 345h0M45.3 346.5h0M45.1 347.5h0M45.2 348.5h0M45.2 350h0M45.1 351.5h0M45.4 353h0M45.5 353h0M45.5 354.6h0M45.6 355.5h0M45.3 357.5h0M45.4 359.4h0M45.6 360.6h0M45.6 360.9h0M45.7 362.8h0M45.7 363.3h0M45.7 365h0M45.8 365.1h0M46 366.8h0M46.1 367.2h0M47.4 366.6h0M47.4 365.4h0M47.1 364.4h0M47.5 363.8h0M47.2 362.3h0M47.4 360.9h0M47.5 360h0M47.3 358.8h0M47.2 356.9h0M47.6 353.4h0M47.4 348.5h0M47.5 341.5h0M47.5 332.7h0M47.4 322.8h0M47.7 312.6h0M47.6 299h0M47.7 286h0M47.7 273.7h0M47.6 262.4h0M47.5 253.9h0M47.7 249.1h0M47.8 253.2h0M47.7 262h0M47.5 274.2h0M47.8 286.5h0M47.8 300.2h0M47.6 312.1h0M47.9 323.9h0M47.8 333.4h0M47.7 342.3h0M47.8 349.3h0M48.1 354.5h0M47.8 357.8h0M47.8 359h0M47.8 360.6h0M48.1 362h0M47.9 362.4h0M48.2 363.5h0M48.1 365.7h0M47.9 367.2h0M48.2 367.6h0M48.2 368.9h0M48.4 370.3h0M48.9 370.4h0M49.2 371.8h0M50.2 372.1h0M50.9 371.7h0M52.2 372.3h0M53 373.3h0M53.8 372.9h0M54.7 372.8h0M55.9 372.3h0M56.9 373.3h0M57.8 372.6h0M58.1 371.5h0M58 370.3h0M58.1 368.6h0M58.1 366.9h0M58 365.7h0M58.2 364.6h0M58 363.8h0M57.9 361.4h0M58 360.2h0M58.3 359.3h0M58.1 358.9h0M58.1 357.6h0M58.1 356.3h0M58.3 352.6h0M58.2 349h0M58 344.4h0M58.2 341.1h0M58.2 335.8h0M58.4 332h0M58.4 328.6h0M58.3 327.5h0M58.2 326.6h0M58.4 325.4h0M58.3 326.6h0M58.4 327.7h0M58.6 328.8h0M58.2 332.6h0M58.3 336.7h0M58.2 340.9h0M58.4 345.5h0M58.4 348.9h0M58.4 353h0M58.4 356.6h0M58.5 357.7h0M58.4 358.4h0M58.6 359.7h0M58.6 360.6h0M58.4 361.5h0M58.4 362.7h0M58.4 364.4h0M58.5 366.5h0M58.5 366.9h0M58.5 367.9h0M58.7 369.9h0M58.6 371.3h0M59 371.8h0M59.8 372.6h0M60.1 370.8h0M60.2 370.8h0M60.3 369h0M60.2 368.1h0M60.6 366.1h0M60.4 364.7h0M60.4 362.6h0M60.4 361.4h0M60.6 360h0M60.8 358.3h0M60.8 357h0M60.6 357.2h0M61 359.9h0M60.9 361.3h0M60.9 362.9h0M60.8 364.8h0M60.9 365.8h0M61.2 367.8h0M61.2 368.6h0M61.2 369.9h0M61.4 370.9h0M61.5 372.3h0M62.2 372.1h0M63.2 372.8h0M64.3 372.1h0M64.3 371.3h0M64.6 370.1h0M64.6 368.6h0M64.4 367.5h0M64.6 365.4h0M64.6 365.1h0M64.6 362.9h0M64.6 361.1h0M64.5 359.8h0M64.8 357.3h0M64.7 355.4h0M64.9 355h0M64.7 353.6h0M64.9 354.1h0M64.7 356.2h0M64.8 357.6h0M64.7 358.6h0M64.8 361.3h0M65 363.5h0M65.1 364.5h0M64.8 366.6h0M65 367.7h0M64.9 368.8h0M65.1 369.5h0M65.1 370.4h0M65.2 371.5h0M65.9 372.2h0M66.8 373h0M67.8 373.4h0M68.5 372.6h0M68.7 371.9h0M69 370.7h0M68.9 368.8h0M69.1 368.8h0M69.2 366.8h0M69.2 366.2h0M69.2 365.1h0M69.1 363.5h0M69.3 362.6h0M69.4 364.1h0M69.2 364h0M69.4 365.3h0M69.6 366.5h0M69.7 367.8h0M69.4 369.5h0M69.7 370.2h0M69.7 371.4h0M70.1 372.3h0M70.8 372.7h0M71.7 373.1h0M72.5 372.9h0M73.3 372.2h0M73.2 370.5h0M73.1 369h0M73.3 368.2h0M73.5 365.9h0M73.5 365.3h0M73.4 363.7h0M73.3 361.1h0M73.4 360.7h0M73.4 359.1h0M73.6 358.2h0M73.4 356.9h0M73.4 356.5h0M73.4 355.5h0M73.5 352.7h0M73.7 351.4h0M73.5 351.2h0M73.5 351.1h0M73.5 352.9h0M73.8 355.3h0M73.5 355.9h0M73.7 356.8h0M73.6 358.9h0M73.7 359h0M73.7 359.8h0M73.7 361.6h0M73.5 363.3h0M73.7 365.3h0M73.8 367h0M73.8 367.2h0M73.7 369h0M74 369.6h0M73.9 371.1h0M74.1 372.9h0M75 373.1h0M76 372.5h0M76.9 372.6h0M77.8 372.8h0M78.9 372.1h0M79.7 371.6h0M79.9 371.7h0M80.3 369.9h0M80.4 368.5h0M80.4 367.6h0M80.1 366.8h0M80.1 365.8h0M80.1 363.6h0M80.3 362.1h0M80.3 360.7h0M80.4 359.9h0M80.6 359.3h0M80.2 358.3h0M80.5 356.6h0M80.4 354.7h0M80.3 353.4h0M80.3 353h0M80.3 352.2h0M80.5 351.3h0M80.3 347.9h0M80.5 344h0M80.4 340.2h0M80.5 336.1h0M80.6 330.9h0M80.5 327.4h0M80.4 322.9h0M80.6 318.7h0M80.5 314.4h0M80.6 311.3h0M80.5 309.5h0M80.5 308.1h0M80.6 306.4h0M80.6 306.3h0M80.6 304.9h0M80.8 305.4h0M80.8 306.2h0M80.9 308.2h0M80.6 309.5h0M80.8 311.2h0M80.7 315.1h0M80.9 317.8h0M81 323.2h0M80.8 327.3h0M81 332h0M80.7 336.2h0M80.8 340.3h0M81 343.8h0M81.1 347.9h0M81.2 351.4h0M81 352.1h0M81.1 352.7h0M81 353.8h0M80.9 354.8h0M81.2 357h0M81.1 357.9h0M81.1 358.9h0M81.1 359.2h0M81 361.5h0M81 362.6h0M80.9 363.8h0M81.3 364.7h0M81.3 366.9h0M81.3 367.7h0M81.4 368.9h0M81.3 370.7h0M81.4 371.3h0M81.6 371.3h0M82.5 371.9h0M83.5 371.6h0M83.7 371.1h0M83.5 369.8h0M83.6 368.6h0M83.5 367.8h0M83.8 366h0M83.8 364.1h0M83.6 362.2h0M83.9 360.7h0M83.7 358.5h0M83.9 356.7h0M83.8 356.2h0M83.9 357.9h0M84 359.3h0M84.3 360.4h0M84.2 363.2h0M84.3 364.1h0M84.5 365.6h0M84.5 367.1h0M84.3 368.3h0M84.5 370.1h0M84.6 370.2h0M84.8 372h0M85 373h0M85.8 372.9h0M87 373.2h0M87.9 372.2h0M88.8 372.3h0M89.4 371.6h0M89.4 370.6h0M89.6 370h0M89.5 368h0M89.5 366.5h0M89.8 366h0M89.5 363.4h0M89.9 363.1h0M89.9 362.3h0M89.7 359.9h0M89.7 359.5h0M89.6 358.1h0M89.8 357.7h0M89.7 356h0M89.8 354.3h0M89.7 353.2h0M90.2 355.4h0M89.9 356.9h0M90.2 357.6h0M90 358.9h0M90 358.9h0M90.3 360.2h0M90.3 361.9h0M90 362.1h0M90.3 363.1h0M90.3 365.7h0M90.2 367h0M90.2 368.9h0M90.4 369.7h0M90.5 369.9h0M90.7 372h0M90.9 372.6h0M91.8 373.1h0M92.8 372.5h0M93.7 372.4h0M94.5 372.8h0M95.8 373h0M96.3 372.1h0M96.6 371.3h0M96.7 370h0M96.8 369h0M96.8 367.6h0M96.9 365.1h0M96.8 363.4h0M96.8 362.7h0M96.8 362.3h0M97 360.3h0M97 359.9h0M96.8 358.3h0M97.2 356.8h0M97.2 356.3h0M97 354.3h0M97.2 353.7h0M97 352.3h0M97.3 354.4h0M97.4 355.2h0M97.2 355.7h0M97.1 356.6h0M97.3 357.7h0M97.3 358.8h0M97.4 360.3h0M97.3 361.8h0M97.3 362h0M97.6 364.1h0M97.6 364.4h0M97.4 366.7h0M97.4 368.5h0M97.6 369.1h0M97.5 370h0M97.7 372h0M97.8 372.4h0M98.6 373.4h0M99.9 373.3h0M100.8 372.4h0M101.6 372.2h0M102.7 372.2h0M103.2 371.7h0M103.7 371.6h0M103.5 370.7h0M103.6 368.4h0M103.7 368.3h0M103.7 367.2h0M103.9 366.2h0M103.9 364.1h0M104.1 366.1h0M104.3 367.2h0M104.2 367.5h0M104.3 369.4h0M104.6 369.6h0M104.7 370.5h0M104.7 371.8h0M105.6 373.1h0M106.5 372.4h0M107.2 373h0M108.4 372.2h0M109.4 373.4h0M110.2 372.6h0M110.6 372.3h0M110.8 370.7h0M110.9 369.7h0M110.7 368.7h0M111 367.4h0M111.4 368.3h0M111.5 370.1h0M111.8 370.6h0M111.9 371.1h0M112.1 372.9h0M113.2 372.6h0M113.8 373.5h0M115 373h0M115.8 372.2h0M116.8 372.2h0M117.2 371.6h0M117.3 370.4h0M117.4 368.8h0M117.6 368.4h0M117.5 366.9h0M117.4 366.6h0M117.7 365.6h0M117.9 366.3h0M118.2 367.5h0M118.3 367.7h0M118.3 368.6h0M118.4 370.4h0M118.3 371.3h0M118.8 372.8h0M119.4 372.7h0M120.7 372.2h0M121.7 373.4h0M122.3 372h0M122.5 371.1h0M122.8 370.7h0M123.2 369.3h0M123.3 368h0M123.3 366.3h0M123.3 365.4h0M123.6 367.5h0M123.7 367.9h0M123.9 369.3h0M123.8 369.7h0M124.2 371.1h0M124.2 372.2h0M125.1 373.4h0M126 372.4h0M126.9 372.9h0M128.3 373.2h0M128.9 372.9h0M129.9 373.5h0M131 373h0M131.8 372.7h0M132.8 372.5h0M133.5 371.4h0M133.9 371.8h0M134.2 370.2h0M135.2 371.2h0M135.5 371.5h0M136.1 372.1h0M136.9 372.1h0M137.7 372.4h0M138.7 373.2h0M139.6 373.3h0M140.5 373.4h0M141.9 372.8h0M142.5 372.5h0M142.6 371.5h0M142.7 370.4h0M143.1 369.5h0M143.1 367.5h0M143.5 367.3h0M144.1 367.6h0M144.3 369.6h0M144.3 370.4h0M144.8 371.2h0M144.9 371.7h0M145.6 372h0M146.4 372.4h0M147.4 373.2h0M148.2 372.6h0M148.6 371.8h0M149 370.5h0M149.1 368.9h0M149.8 369.7h0M150.1 370.3h0M150.3 371.6h0M150.8 372.6h0M152 373.3h0M152.4 372.6h0M153 371.1h0M153.1 369.7h0M154.1 370.6h0M154.3 372.1h0M154.7 372.7h0M155.5 372.3h0M156.4 372.2h0M157.3 373.5h0M158.3 372.3h0M159.3 372.2h0M160.3 372.5h0M161.1 373h0M162.3 371.9h0M162.8 371.9h0M163.2 370.9h0M163.8 371.3h0M164.6 372.1h0M165.6 372.6h0M166.5 373.3h0M167.4 372.8h0M168.2 373h0M168.7 371.4h0M169.2 370.9h0M170.1 372.2h0M170.8 372.2h0M171.5 372.2h0M172.6 372.9h0M173.3 373.4h0M174.2 372.4h0M175.3 373.6h0M176.2 372.5h0M177.4 372.6h0M178.4 372h0M178.9 371.9h0M180.1 371.4h0M180.9 373h0M181.9 373.2h0M182.5 372.8h0M183.5 372.3h0M184.4 373.2h0M185.5 372.4h0M186.4 372.3h0M187.6 373.2h0M188.3 373.3h0M189.4 371.8h0M190 371.5h0M191 372.6h0M191.8 373.2h0M192.8 372.6h0M193.8 373.5h0M194.5 372.9h0M195.5 373.2h0M196.6 373.4h0M197.6 373.5h0M198.6 373h0M199.7 373.3h0M200.4 372.3h0M201.6 372.3h0M202.5 373.5h0M203.4 373.5h0M204.3 373.2h0M205.2 372.5h0M206 373.2h0M207.1 372.4h0M208.1 372.6h0M208.9 373.4h0M210 373.2h0M211.1 372.8h0M211.9 372.8h0M212.8 373.3h0M214 372.6h0M214.8 372.5h0M215.5 373.2h0M216.8 372.7h0M217.8 373.2h0M218.5 373.3h0M219.7 372.4h0M220.6 372.8h0M221.3 372.7h0M222.4 372.9h0M223.2 372.3h0M224.3 373.2h0M225.3 372.8h0M226.3 372.2h0M227 372.2h0M228.1 372.9h0M228.9 372.9h0M229.8 372.3h0M231.2 373.4h0M231.7 373.1h0M232.9 373h0M234 373.1h0M235 373.2h0M235.9 372.4h0M236.8 372.6h0M237.8 373.3h0M238.8 373.3h0M239.5 372.9h0M240.6 372.3h0M241.5 373h0M242.5 372.7h0M243.4 373.2h0M244.3 373.2h0M245.5 372.7h0M246.3 372.9h0M247.3 372.6h0M248.1 372.7h0M249.2 372.4h0M250.3 372.9h0M251.1 372.8h0M251.8 372.7h0M253 372.3h0M254.1 373h0M254.8 372.2h0M255.7 372.7h0M256.8 372.4h0M257.7 372.6h0M258.7 373.2h0M259.6 373.3h0M260.6 372.3h0M261.6 372.9h0M262.6 373.5h0M263.4 373.4h0M264.3 373.1h0M265.1 373.4h0" stroke="#000" stroke-width="4.3" stroke-linecap="round" fill="none"/>
<polyline points="27.4,371.9 31.7,370.8 41,367.9 42.4,366.9 43.1,365.1 43.4,360.3 43.7,349.4 44.5,278.6 45.5,358.8 46,366.4 46.7,368 46.9,368 47.1,367.4 47.4,353.3 47.6,248.7 48,365.2 48.4,370 49,371 50,371.8 52.3,372.6 55.9,372.8 57.3,372.5 57.8,371.6 58.1,364.2 58.3,325.5 58.6,365.9 58.7,370.6 59,372 59.3,372.4 59.8,372.3 60.2,371.2 60.7,355.8 61.3,371.9 61.7,372.5 62.6,372.7 63.9,372.7 64.4,372.2 64.8,352.9 65.3,372.3 65.7,372.7 66.9,372.8 68.1,372.7 68.6,372.3 69.2,361.9 69.9,372.3 70.2,372.6 71.1,372.8 72.4,372.7 73,372.4 73.3,369.5 73.5,349.9 74,372.1 74.2,372.5 74.7,372.7 77.6,372.8 79.1,372.5 79.8,371.8 80.2,369.5 80.3,362.7 80.7,303.9 81.2,366.5 81.4,371.1 81.7,372 82.3,372.4 83.2,372.3 83.5,371.3 84,355.8 84.7,372 85.2,372.6 86.7,372.8 88.5,372.7 89.2,372.1 89.5,368.9 89.9,353.4 90.3,368.9 90.6,372.1 91.2,372.6 92.5,372.8 95.3,372.8 96.3,372.3 96.7,369.1 97.2,351.4 97.7,370.9 98,372.3 99,372.8 102.2,372.8 103.2,372.4 103.5,371 104.1,364.4 104.7,372 105.1,372.6 106.2,372.8 109.3,372.8 110.3,372.5 110.6,371.4 111.2,366.9 111.7,371.4 112.1,372.6 114.1,372.8 116.6,372.6 117.1,371.1 117.8,364.9 118.6,371.9 119,372.6 120,372.8 121.9,372.7 122.5,372.2 123.4,365.4 124.3,372 124.8,372.6 126,372.8 132.8,372.7 133.4,372.1 134.6,369.9 135.7,372.1 136.3,372.7 138.9,372.8 141.6,372.6 142.1,372.3 142.5,371.6 143.7,366.9 145,371.9 145.5,372.5 146.4,372.7 147.6,372.7 148.1,372.3 149.3,368.8 150.4,372.1 150.8,372.5 151.4,372.7 152,372.6 152.4,372.2 153.4,369.4 154.6,372.4 155.2,372.7 156.4,372.8 161.7,372.7 162.3,372.4 163.5,370.9 165,372.7 167.6,372.8 168.4,372.4 169.5,370.9 170.9,372.6 172.6,372.9 177.6,372.8 179.7,371.9 181.9,372.8 187.3,372.8 188.3,372.7 189.9,371.9 191.6,372.7 193.4,372.9 266,372.9" stroke="#d81010" stroke-width="0.95" fill="none" stroke-linejoin="round"/>
</g>
<rect x="27.4" y="224.3" width="238.6" height="171.6" fill="none" stroke="#505050" stroke-width="1.0"/>
<path d="M32.5 395.9v-1.8M32.5 224.3v1.8M42.6 395.9v-1.8M42.6 224.3v1.8M52.8 395.9v-1.8M52.8 224.3v1.8M62.9 395.9v-2.8M62.9 224.3v2.8M73.1 395.9v-1.8M73.1 224.3v1.8M83.2 395.9v-1.8M83.2 224.3v1.8M93.4 395.9v-1.8M93.4 224.3v1.8M103.5 395.9v-1.8M103.5 224.3v1.8M113.7 395.9v-2.8M113.7 224.3v2.8M123.9 395.9v-1.8M123.9 224.3v1.8M134 395.9v-1.8M134 224.3v1.8M144.2 395.9v-1.8M144.2 224.3v1.8M154.3 395.9v-1.8M154.3 224.3v1.8M164.5 395.9v-2.8M164.5 224.3v2.8M174.6 395.9v-1.8M174.6 224.3v1.8M184.8 395.9v-1.8M184.8 224.3v1.8M194.9 395.9v-1.8M194.9 224.3v1.8M205.1 395.9v-1.8M205.1 224.3v1.8M215.2 395.9v-2.8M215.2 224.3v2.8M225.4 395.9v-1.8M225.4 224.3v1.8M235.5 395.9v-1.8M235.5 224.3v1.8M245.7 395.9v-1.8M245.7 224.3v1.8M255.8 395.9v-1.8M255.8 224.3v1.8M266 395.9v-2.8M266 224.3v2.8" stroke="#505050" stroke-width="0.8"/>
<path d="M27.4 391.3h1.8M266 391.3h-1.8M27.4 382.7h1.8M266 382.7h-1.8M27.4 374.1h2.8M266 374.1h-2.8M27.4 365.5h1.8M266 365.5h-1.8M27.4 356.9h1.8M266 356.9h-1.8M27.4 348.3h1.8M266 348.3h-1.8M27.4 339.7h1.8M266 339.7h-1.8M27.4 331.1h2.8M266 331.1h-2.8M27.4 322.5h1.8M266 322.5h-1.8M27.4 313.9h1.8M266 313.9h-1.8M27.4 305.3h1.8M266 305.3h-1.8M27.4 296.7h1.8M266 296.7h-1.8M27.4 288.1h2.8M266 288.1h-2.8M27.4 279.5h1.8M266 279.5h-1.8M27.4 270.9h1.8M266 270.9h-1.8M27.4 262.3h1.8M266 262.3h-1.8M27.4 253.7h1.8M266 253.7h-1.8M27.4 245.1h2.8M266 245.1h-2.8M27.4 236.5h1.8M266 236.5h-1.8M27.4 227.9h1.8M266 227.9h-1.8" stroke="#505050" stroke-width="0.8"/>
<text x="62.9" y="409.3" font-size="9.5" text-anchor="middle" fill="#111" >10</text>
<text x="113.7" y="409.3" font-size="9.5" text-anchor="middle" fill="#111" >20</text>
<text x="164.5" y="409.3" font-size="9.5" text-anchor="middle" fill="#111" >30</text>
<text x="215.2" y="409.3" font-size="9.5" text-anchor="middle" fill="#111" >40</text>
<text x="266" y="409.3" font-size="9.5" text-anchor="middle" fill="#111" >50</text>
<text x="146.7" y="428.5" font-size="10.9" text-anchor="middle" fill="#111" >Diffraction angle 2&#952; (deg)</text>
<text transform="translate(13.4 310.6) rotate(-90)" font-size="10.9" text-anchor="middle" fill="#111">Intensity (arb.units)</text>
<text x="33" y="235.9" font-size="10.95" fill="#111">(c) P25 TiO<tspan dy="2.6">2</tspan><tspan dy="-2.6"> - </tspan><tspan font-style="italic">T</tspan> = 993 K</text>
<rect x="108.4" y="243.4" width="147.8" height="86" fill="#fff"/>
<clipPath id="c6"><rect x="108.8" y="243.8" width="147" height="85.2"/></clipPath>
<g clip-path="url(#c6)"><polyline points="108.4,314.1 108.8,314.1 109.2,314.1 109.7,314 110.1,313.9 110.5,314.2 110.9,314.2 111.4,313.8 111.8,313.9 112.2,314.4 112.6,313.9 113,314 113.5,314.2 113.9,314 114.3,314.4 114.7,314.4 115.2,313.8 115.6,313.9 116,313.9 116.4,314.1 116.8,313.9 117.3,314.2 117.7,314.4 118.1,313.8 118.5,313.8 119,313.8 119.4,314 119.8,313.8 120.2,314.1 120.6,314 121.1,314.3 121.5,314.4 121.9,314.4 122.3,314 122.8,314.2 123.2,313.8 123.6,314.2 124,314.4 124.4,314.4 124.9,313.8 125.3,313.9 125.7,314.4 126.1,314.2 126.6,314.3 127,313.8 127.4,314.2 127.8,313.8 128.2,314.3 128.7,314.3 129.1,314 129.5,313.8 129.9,314.3 130.4,314.4 130.8,314.2 131.2,314 131.6,314 132,314.3 132.5,314.4 132.9,314 133.3,313.9 133.7,314.1 133.7,314.4 134.2,314 134.6,314.1 135,314 135.4,314.3 135.8,314.4 136.3,314.1 136.7,314.3 137.1,314 137.5,314 138,314.3 138.4,314.4 138.8,314.3 139.2,314.2 139.6,314.3 140.1,314.4 140.5,314.4 140.9,314.1 141.3,314 141.8,313.8 142.2,314.1 142.6,314 143,313.8 143.4,314.4 143.9,314 144.3,314.4 144.7,313.8 145.1,314 145.6,314.3 146,314.2 146.4,314.2 146.8,314.1 147.3,313.8 147.7,314.3 148.1,314.3 148.5,314.1 148.9,314.1 149.4,314.3 149.8,314.1 150.2,314.1 150.6,314.1 151.1,314.3 151.5,314.3 151.9,314 152.3,314.3 152.7,314 153.2,314.2 153.6,314 154,314.4 154.4,314.4 154.9,314.3 155.3,314 155.7,314 156.1,314.1 156.5,314.2 157,313.8 157.4,314.1 157.8,314.4 158.2,313.8 158.7,314.4 159.1,314.2 159.5,314.4 159.9,314.3 160.3,314.3 160.8,314.3 161.2,314 161.6,313.8 162,314.3 162.5,314.4 162.9,314.3 163.3,313.9 163.7,314.1 164.1,314.1 164.6,314 165,314.1 165.4,314.1 165.8,314.4 166.3,314.2 166.7,314.4 167.1,314.4 167.5,313.9 167.9,314.3 168.4,314 168.8,314.2 169.2,314.1 169.6,314.3 170.1,314 170.5,314.2 170.9,314 171.3,314.3 171.7,314.1 172.2,314.2 172.6,314.4 173,313.9 173.4,313.8 173.9,314.4 174.3,314.1 174.7,314.2 175.1,314.3 175.5,314.4 176,314 176.4,314.4 176.8,314 177.2,314.3 177.7,314.3 178.1,314 178.5,314 178.9,314 179.3,314 179.8,314 180.2,314.3 180.6,313.8 181,314.4 181.5,314.3 181.9,314.1 182.3,314.2 182.7,314 183.1,314.3 183.6,314.4 184,314 184.4,314.1 184.8,313.9 185.3,313.9 185.7,314.3 186.1,314.2 186.5,314.1 186.9,314.2 187.4,313.9 187.8,313.8 188.2,314 188.6,314.2 189.1,313.9 189.5,314.1 189.9,314 190.3,313.9 190.7,314.3 191.2,314 191.6,314.3 192,314.3 192.4,314 192.9,313.8 193.3,314.3 193.7,314.1 194.1,314.2 194.5,314.2 195,314.1 195.4,314.4 195.8,313.8 196.2,314.4 196.7,314.2 197.1,314 197.5,314.4 197.9,314.4 198.3,314.2 198.8,313.8 199.2,314.2 199.6,314 200,314.2 200.5,314.3 200.9,313.8 201.3,314.3 201.7,314 202.1,313.9 202.6,313.8 203,313.8 203.4,313.9 203.8,314.1 204.3,314.4 204.7,313.9 205.1,314 205.5,314 205.9,314.2 206.4,314 206.8,314.2 207.2,313.9 207.6,313.8 208.1,314.2 208.5,314.3 208.9,313.8 209.3,313.8 209.7,314.2 210.2,313.8 210.6,314.4 211,314.2 211.4,313.9 211.9,314 212.3,313.8 212.7,313.8 213.1,314 213.5,314.4 214,314.4 214.4,314.3 214.8,314.2 215.2,314.2 215.7,314.1 216.1,314.2 216.5,314.1 216.9,314 217.3,314.3 217.8,314 218.2,314 218.6,314.2 219,314.4 219.5,314 219.9,314.1 220.3,314 220.7,313.9 221.2,314 221.6,314.3 222,313.9 222.4,314.1 222.8,313.9 223.3,314.2 223.7,314.3 224.1,313.8 224.5,314.1 225,313.9 225.4,314.2 225.8,314.2 226.2,313.9 226.6,313.9 227.1,314 227.5,314 227.9,314.4 228.3,314.4 228.8,314.3 229.2,314 229.6,314.1 230,313.9 230.4,314.1 230.9,314.4 231.3,313.8 231.7,314 232.1,313.9 232.6,314.3 233,314 233.4,314.1 233.8,313.8 234.2,314.2 234.7,314.1 235.1,314.3 235.5,314.3 235.9,314.3 236.4,313.9 236.8,313.9 237.2,314.2 237.6,313.8 238,314.4 238.5,314.3 238.9,314.1 239.3,314 239.7,313.8 240.2,314.1 240.6,314.3 241,313.8 241.4,313.8 241.8,314.2 242.3,314.1 242.7,314.3 243.1,314 243.5,314.4 244,314.4 244.4,314 244.8,314.1 245.2,314.2 245.6,314.1 246.1,314.3 246.5,314.2 246.9,314.3 247.3,313.9 247.8,314.1 248.2,314.1 248.6,314.2 249,313.8 249.4,314.3 249.9,314.1 250.3,313.9 250.7,314.3 251.1,314.1 251.6,314.3 252,314.3 252.4,314.2 252.8,314.4 253.2,313.8 253.7,314 254.1,313.9 254.5,314.2 254.9,313.9 255.4,313.8 255.8,313.8 256.2,313.9" stroke="#2a2aff" stroke-width="1.2" fill="none"/><path d="M133.7 314.1v-4" stroke="#2a2aff" stroke-width="0.8"/></g>
<g clip-path="url(#c6)">
<path d="M108.4 297.7h0M109.1 297.1h0M109.7 296.8h0M109.6 295.6h0M109.7 295h0M109.7 294.2h0M109.7 293.3h0M110 291.9h0M109.7 291.9h0M109.7 290.4h0M110 289.1h0M110 287.8h0M110 287.8h0M110 286.8h0M109.9 285.6h0M110 284.6h0M109.8 283.4h0M109.8 282.7h0M110.1 279.3h0M109.9 276.2h0M110 271.9h0M109.8 270.7h0M109.9 270.4h0M109.9 269.3h0M109.9 267.1h0M110.1 266.1h0M110.1 265.9h0M109.9 267h0M110 268.2h0M110.1 269.3h0M110.2 269.7h0M110.1 271.1h0M110.1 271.4h0M110.1 276h0M110 279h0M110 283.2h0M110 284.4h0M110.1 285.3h0M110.2 285.5h0M110 286.3h0M110.2 287.7h0M110.3 288h0M110 289.3h0M110.2 290.4h0M110.3 291.7h0M110.2 292.5h0M110 293.5h0M110.3 293.7h0M110.1 295.3h0M110.2 296.7h0M110.2 296.9h0M110.7 298.1h0M111.4 298.2h0M112.3 297.9h0M113.1 298.2h0M113.8 297.8h0M114.3 297.4h0M115.3 297.2h0M115.9 297h0M115.9 296.6h0M116.1 295.5h0M116 294.5h0M116.2 293.8h0M116.1 291.2h0M116.2 290.1h0M115.9 289.8h0M116 289h0M116.1 287.4h0M116.2 287.5h0M116.1 286.6h0M116.2 285.2h0M116.2 284.9h0M116.2 283.1h0M116.1 280h0M116.1 275.3h0M116.1 271.1h0M116.2 267.2h0M116.3 266.3h0M116.3 265.2h0M116.2 264.8h0M116.1 264h0M116.2 263.1h0M116.1 263.8h0M116.4 264.8h0M116.2 265.5h0M116.4 266.1h0M116.2 267.7h0M116.2 270.9h0M116.1 276.1h0M116.3 279.5h0M116.3 283.1h0M116.2 284.8h0M116.4 284.9h0M116.3 285.5h0M116.3 286.9h0M116.4 287.8h0M116.5 289.3h0M116.4 289h0M116.2 290.8h0M116.2 292.2h0M116.2 292.7h0M116.6 294.3h0M116.4 295.3h0M116.3 296h0M116.5 297.3h0M117.1 297.9h0M117.6 297.7h0M118.6 297.4h0M119.2 297.9h0M120.2 297.2h0M120.8 297.6h0M121.2 297.4h0M121.1 296.2h0M121.2 295.5h0M121.4 294h0M121.2 292.9h0M121.4 291.7h0M121.4 291.3h0M121.3 290h0M121.5 288.5h0M121.6 287.6h0M121.6 287h0M121.6 286.7h0M121.6 285.1h0M121.5 286.3h0M121.7 286.8h0M121.7 287.5h0M121.6 288.4h0M121.5 289.5h0M121.5 290.8h0M121.7 291.5h0M121.8 292.6h0M121.7 292.8h0M121.6 294.1h0M121.6 296.1h0M121.7 296.7h0M121.9 297.6h0M122.7 298.1h0M123.5 298.3h0M124.1 298.4h0M125 297.5h0M125.6 297.8h0M126.5 297.2h0M127 297.2h0M127 296.1h0M127 294.9h0M127.1 293.8h0M127.1 293h0M127 290.6h0M127.3 289.6h0M127.3 289.1h0M127.2 289.4h0M127.3 291.3h0M127.2 292h0M127.3 294.3h0M127.5 294.7h0M127.4 295.7h0M127.5 296.4h0M127.6 297.5h0M128.2 297.7h0M129.2 297.8h0M129.7 297.6h0M130.6 297.5h0M131.3 297.8h0M132.1 297.3h0M132.7 296.4h0M132.8 295.6h0M132.7 295.3h0M132.7 294.2h0M132.9 292.3h0M132.6 291.3h0M132.9 290.9h0M132.9 289.6h0M132.7 289h0M132.8 288.3h0M132.7 286.8h0M132.9 286.7h0M132.9 285.6h0M132.8 286.4h0M132.9 287.2h0M132.9 287.5h0M132.9 289h0M133.1 290.3h0M133 290.2h0M133.2 291.4h0M133.1 292.5h0M133.1 292.8h0M133 295h0M133.1 296.1h0M133.3 296.6h0M133.5 296.7h0M134 297.8h0M134.6 298.2h0M135.4 297.9h0M136.2 297.6h0M137 297.3h0M137.1 296.9h0M137.3 295.3h0M137.5 294.5h0M137.3 293.5h0M137.3 292.2h0M137.5 290.9h0M137.4 290.6h0M137.3 289.4h0M137.4 289.2h0M137.6 287.9h0M137.3 286.5h0M137.7 287.8h0M137.6 288.9h0M137.5 289.7h0M137.7 290h0M137.6 291.8h0M137.6 292.2h0M137.7 293.1h0M137.7 294.2h0M137.9 295.7h0M138 296.3h0M137.9 297.1h0M138.7 297.6h0M139.4 297.4h0M140.1 297.5h0M141 297.6h0M141.8 297.9h0M142.3 297.8h0M143.3 298h0M144 297.9h0M144.7 297.3h0M145.5 297.9h0M146.2 297.4h0M146.6 296.9h0M146.5 296.6h0M146.7 295.5h0M147.1 296.3h0M147 297.4h0M147.4 297.8h0M148 297.7h0M148.6 298.2h0M149.7 297.8h0M150.3 298.1h0M150.9 297.5h0M151.7 297.7h0M152.4 297.3h0M153 296.3h0M152.9 295.1h0M153.4 294.9h0M153.4 293.6h0M153.4 292.7h0M153.8 292h0M153.7 291.8h0M153.9 290.7h0M154.1 290.4h0M154.8 290.3h0M154.7 291h0M154.8 292h0M154.9 293.5h0M155.1 294.2h0M155.4 295.1h0M155.3 295.6h0M155.8 296.4h0M156 296.9h0M156.7 297.5h0M157.3 297.6h0M158.1 297.3h0M158.9 298.1h0M159.7 297.1h0M160 297.2h0M160 296h0M160.2 295.3h0M160.2 293.8h0M160.6 294.8h0M160.6 296.1h0M160.7 296.4h0M161.1 297.9h0M161.8 297.3h0M162.5 297.3h0M162.6 297h0M162.6 296.4h0M162.7 294.9h0M162.9 293.6h0M163.2 294.7h0M163.3 295.4h0M163.1 296.8h0M163.3 297.4h0M164 298h0M164.9 298h0M165.5 297.2h0M166.4 297.3h0M167.2 297.8h0M168 298.2h0M168.7 298.2h0M169.4 297.5h0M170 298h0M170.7 297.2h0M170.7 296.2h0M171 295.3h0M170.9 296.8h0M171.3 297.5h0M171.7 297.6h0M172.2 297.8h0M173.1 297.6h0M173.9 297.5h0M174.7 297.4h0M175.3 298.1h0M175.6 297.2h0M175.7 296h0M175.9 295h0M176.2 296.6h0M176.4 296.4h0M176.3 297.5h0M177.3 297.8h0M178.1 298.4h0M178.8 297.5h0M179.4 297.3h0M180.2 298.1h0M180.9 297.4h0M181.7 298.3h0M182.5 297.3h0M183.2 297.5h0M184.1 297.5h0M184.2 297.3h0M184.7 297.4h0M185.6 297.5h0M186.2 298h0M186.9 297.9h0M187.7 298.2h0M188.5 298.1h0M189.3 298h0M189.9 297.4h0M190.7 297.6h0M191.3 298.1h0M192.3 297.7h0M192.7 296.5h0M193.1 297.8h0M193.8 298.2h0M194.7 298.4h0M195.6 297.7h0M196.2 297.7h0M197.1 297.8h0M197.8 298.4h0M198.6 297.8h0M199.3 297.8h0M200 297.7h0M200.9 298.4h0M201.6 297.9h0M202.2 297.9h0M203.2 297.5h0M203.9 297.5h0M204.7 297.5h0M205.4 298.1h0M205.9 298.2h0M206.9 297.5h0M207.6 297.9h0M208.5 297.4h0M209 297.5h0M209.9 297.7h0M210.8 298.1h0M211.4 297.9h0M212.1 297.9h0M213 297.5h0M213.8 297.4h0M214.6 297.9h0M215.4 298h0M215.9 298.1h0M216.8 297.7h0M217.6 298.1h0M218.3 297.5h0M219.2 298.3h0M219.8 298.3h0M220.7 297.6h0M221.2 297.5h0M222.1 297.4h0M222.7 298.1h0M223.4 297.9h0M224.3 298.1h0M225 297.8h0M225.8 297.2h0M226.8 297.6h0M227.3 298.3h0M228.1 297.8h0M228.8 297.7h0M229.8 298.2h0M230.5 298.3h0M231.1 297.3h0M231.8 298h0M232.7 297.6h0M233.5 297.5h0M234.3 297.7h0M234.9 298.1h0M235.6 298.2h0M236.6 297.7h0M237.2 297.4h0M237.9 298h0M238.7 297.9h0M239.5 297.5h0M240.2 298.1h0M241 297.4h0M242 297.4h0M242.5 297.4h0M243.4 298.1h0M243.9 298.3h0M244.9 298.2h0M245.6 297.7h0M246.2 297.5h0M247.3 297.5h0M248.1 298.2h0M248.8 297.4h0M249.4 298.2h0M250.1 297.5h0M250.8 297.8h0M251.7 297.5h0M252.4 298h0M253.1 298.1h0M254.1 297.7h0M254.6 297.9h0M255.4 297.3h0" stroke="#000" stroke-width="3.1" stroke-linecap="round" fill="none"/>
<polyline points="108.4,297.8 109.5,297.5 109.8,296.2 110,265.8 110.3,297 110.5,297.5 110.9,297.7 113.5,297.8 115.4,297.7 115.9,297 116.2,263 116.4,295.2 116.6,297.1 117.1,297.7 120.3,297.7 121.1,297.3 121.5,285.1 121.7,295.7 122,297.5 122.6,297.7 124.4,297.8 126.2,297.7 126.8,297.5 127.2,289 127.6,297.5 129.1,297.8 132.3,297.6 132.6,296 132.9,285.1 133.2,296.8 133.4,297.5 134,297.7 136.5,297.7 137.1,297.3 137.5,286.2 137.9,296.9 138,297.5 138.7,297.7 146.1,297.7 146.4,297.2 146.7,294.8 147.3,297.7 150.4,297.7 152.1,297.4 152.6,296.9 153,296 154,290.6 154.3,289.8 155.8,296.6 156.4,297.4 157.6,297.6 159.8,297.5 160.3,293.7 160.8,297.5 161.3,297.7 162.3,297.6 162.9,293.3 163.3,297.4 163.5,297.6 164.3,297.7 170.3,297.7 170.9,295.3 171.3,297.5 172.2,297.8 175.4,297.7 176,295.3 176.4,297.5 177.2,297.8 183.8,297.7 184.1,297.5 184.4,296.3 184.7,297.5 185,297.7 192.1,297.8 192.5,297.5 192.9,296.3 193.3,297.6 194,297.8 256.2,297.8" stroke="#b80000" stroke-width="0.7" fill="none" stroke-linejoin="round"/>
</g>
<rect x="108.4" y="243.4" width="147.8" height="86" fill="none" stroke="#8a8a8a" stroke-width="0.8"/>
<path d="M112.6 329.4v-1.2M112.6 243.4v1.2M121.1 329.4v-1.2M121.1 243.4v1.2M129.5 329.4v-1.8M129.5 243.4v1.8M138 329.4v-1.2M138 243.4v1.2M146.4 329.4v-1.2M146.4 243.4v1.2M154.9 329.4v-1.2M154.9 243.4v1.2M163.3 329.4v-1.2M163.3 243.4v1.2M171.7 329.4v-1.8M171.7 243.4v1.8M180.2 329.4v-1.2M180.2 243.4v1.2M188.6 329.4v-1.2M188.6 243.4v1.2M197.1 329.4v-1.2M197.1 243.4v1.2M205.5 329.4v-1.2M205.5 243.4v1.2M214 329.4v-1.8M214 243.4v1.8M222.4 329.4v-1.2M222.4 243.4v1.2M230.9 329.4v-1.2M230.9 243.4v1.2M239.3 329.4v-1.2M239.3 243.4v1.2M247.8 329.4v-1.2M247.8 243.4v1.2M256.2 329.4v-1.8M256.2 243.4v1.8" stroke="#777" stroke-width="0.7"/>
<text x="129.5" y="339.7" font-size="7.0" text-anchor="middle" fill="#111" >20</text>
<text x="171.7" y="339.7" font-size="7.0" text-anchor="middle" fill="#111" >30</text>
<text x="214" y="339.7" font-size="7.0" text-anchor="middle" fill="#111" >40</text>
<text x="256.2" y="339.7" font-size="7.0" text-anchor="middle" fill="#111" >50</text>
<text x="192.3" y="353.7" font-size="7.65" text-anchor="middle" fill="#111" >Diffraction angle 2&#952; (deg)</text>
<text transform="translate(104.4 274.9) rotate(-90)" font-size="6.8" text-anchor="middle" fill="#111">Intensity (arb.units)</text>
<rect x="182.4" y="255.6" width="65.8" height="33.3" fill="#fff" stroke="#8a8a8a" stroke-width="0.7"/>
<circle cx="196.6" cy="263.9" r="1.2" fill="#000"/>
<path d="M187 272.4h18.6" stroke="#e87070" stroke-width="0.6"/>
<path d="M186.8 280.4h17" stroke="#9a9ae6" stroke-width="0.9" stroke-dasharray="4.2,2.3"/>
<text x="209.2" y="266.3" font-size="6.8" text-anchor="start" fill="#111" >Observed</text>
<text x="209.2" y="274.5" font-size="6.8" text-anchor="start" fill="#111" >Calculated</text>
<text x="209.2" y="282.7" font-size="6.8" text-anchor="start" fill="#111" >Residual</text>
<clipPath id="c7"><rect x="299.9" y="224.9" width="244.6" height="170"/></clipPath>
<g clip-path="url(#c7)"><polyline points="302.9,380.6 303.4,380.5 303.9,380.4 304.4,380.4 304.9,380.6 305.4,380.7 305.9,380.4 306.5,380.5 307,380.4 307.5,380.5 308,380.5 308.5,380.4 309,380.6 309.5,380.5 310,380.3 310.5,380.3 311,380.5 311.5,380.3 312,380.5 312.5,380.5 313.1,380.6 313.6,380.7 314.1,380.6 314.6,380.6 315.1,380.3 315.6,380.7 316.1,380.7 316.6,380.5 317.1,380.7 317.6,380.5 318.1,380.5 318.6,380.3 319.1,380.5 319.7,380.6 320.2,380.6 320.7,380.7 321.2,380.5 321.7,380.7 322.2,380.4 322.7,380.3 323.2,380.5 323.2,380.5 323.2,380.5 323.7,380.5 324.2,380.6 324.7,380.4 325.2,380.3 325.7,380.6 326.3,380.3 326.8,380.7 327.3,380.5 327.8,380.3 328.3,380.5 328.8,380.6 329.3,380.4 329.8,380.7 330.3,380.3 330.8,380.3 331.3,380.5 331.8,380.6 332.3,380.6 332.9,380.7 333.4,380.4 333.9,380.3 333.9,380.5 334.4,380.5 334.9,380.4 335.4,380.4 335.9,380.4 336.4,380.7 336.9,380.4 337.4,380.6 337.9,380.5 338.4,380.4 338.9,380.7 339.5,380.4 340,380.4 340.5,380.3 340.5,380.5 341,380.6 341.5,380.6 342,380.4 342.5,380.3 343,380.5 343.5,380.4 344,380.5 344.5,380.6 345,380.3 345.5,380.3 346.1,380.7 346.6,380.7 347.1,380.3 347.6,380.4 348.1,380.5 348.6,380.7 349.1,380.4 349.6,380.7 350.1,380.3 350.6,380.7 351.1,380.3 351.6,380.6 352.1,380.7 352.7,380.6 353.2,380.7 353.7,380.4 354.2,380.7 354.7,380.7 355.2,380.4 355.7,380.6 355.7,380.5 355.7,380.5 356.2,380.7 356.7,380.4 357.2,380.4 357.7,380.6 358.2,380.5 358.7,380.7 359.3,380.5 359.8,380.5 360.3,380.3 360.8,380.4 361.3,380.7 361.8,380.4 362.3,380.7 362.8,380.7 363.3,380.5 363.8,380.4 364.3,380.3 364.8,380.3 365.3,380.7 365.8,380.7 366.4,380.7 366.9,380.4 367.4,380.7 367.9,380.5 368.4,380.4 368.9,380.7 369.4,380.7 369.9,380.6 370.4,380.4 370.9,380.3 371.4,380.3 371.9,380.4 372.4,380.3 373,380.5 373,380.5 373.5,380.4 374,380.4 374.5,380.7 375,380.4 375.5,380.3 376,380.3 376.5,380.5 377,380.3 377.5,380.5 378,380.3 378.5,380.5 379,380.6 379.6,380.5 380.1,380.4 380.6,380.7 381.1,380.7 381.6,380.7 382.1,380.7 382.6,380.7 383.1,380.4 383.6,380.5 384.1,380.5 384.6,380.6 385.1,380.3 385.6,380.4 386.2,380.5 386.7,380.5 387.2,380.7 387.7,380.4 388.2,380.3 388.7,380.4 389.2,380.7 389.7,380.3 390.2,380.5 390.7,380.5 391.2,380.7 391.7,380.4 392.2,380.6 392.8,380.7 393.3,380.7 393.8,380.5 394.3,380.4 394.8,380.6 395.3,380.6 395.8,380.6 396.3,380.6 396.8,380.4 397.3,380.6 397.8,380.4 398.3,380.4 398.8,380.3 399.4,380.5 399.9,380.3 400.4,380.4 400.9,380.4 401.4,380.4 401.9,380.5 402.4,380.7 402.9,380.5 403.4,380.5 403.9,380.5 404.4,380.5 404.9,380.7 405.4,380.5 406,380.5 406.5,380.4 407,380.3 407.5,380.4 408,380.3 408.5,380.4 409,380.3 409.5,380.5 410,380.5 410.5,380.3 411,380.6 411.5,380.5 412,380.6 412.6,380.5 413.1,380.6 413.6,380.6 414.1,380.3 414.6,380.5 415.1,380.4 415.6,380.6 416.1,380.4 416.6,380.4 417.1,380.3 417.6,380.7 418.1,380.3 418.6,380.4 419.2,380.7 419.7,380.3 420.2,380.5 420.7,380.5 421.2,380.6 421.7,380.6 422.2,380.7 422.7,380.4 423.2,380.3 423.7,380.4 424.2,380.3 424.7,380.4 425.2,380.6 425.8,380.7 426.3,380.3 426.8,380.4 427.3,380.7 427.8,380.5 428.3,380.4 428.8,380.3 429.3,380.3 429.8,380.4 430.3,380.6 430.8,380.3 431.3,380.5 431.8,380.7 432.4,380.3 432.9,380.4 433.4,380.5 433.9,380.6 434.4,380.6 434.9,380.6 435.4,380.5 435.9,380.4 436.4,380.6 436.9,380.5 437.4,380.7 437.9,380.5 438.4,380.5 439,380.6 439.5,380.5 440,380.5 440.5,380.6 441,380.5 441.5,380.7 442,380.4 442.5,380.5 443,380.7 443.5,380.7 444,380.5 444.5,380.4 445,380.3 445.6,380.5 446.1,380.5 446.6,380.5 447.1,380.4 447.6,380.5 448.1,380.5 448.6,380.3 449.1,380.6 449.6,380.6 450.1,380.3 450.6,380.4 451.1,380.3 451.6,380.5 452.2,380.6 452.7,380.5 453.2,380.5 453.7,380.6 454.2,380.3 454.7,380.3 455.2,380.5 455.7,380.7 456.2,380.6 456.7,380.5 457.2,380.4 457.7,380.3 458.2,380.6 458.8,380.6 459.3,380.4 459.8,380.3 460.3,380.4 460.8,380.6 461.3,380.6 461.8,380.5 462.3,380.7 462.8,380.4 463.3,380.3 463.8,380.4 464.3,380.7 464.8,380.6 465.4,380.3 465.9,380.4 466.4,380.4 466.9,380.5 467.4,380.3 467.9,380.7 468.4,380.5 468.9,380.4 469.4,380.3 469.9,380.5 470.4,380.7 470.9,380.6 471.4,380.7 472,380.7 472.5,380.6 473,380.3 473.5,380.4 474,380.5 474.5,380.5 475,380.4 475.5,380.3 476,380.7 476.5,380.6 477,380.4 477.5,380.5 478,380.7 478.6,380.3 479.1,380.6 479.6,380.4 480.1,380.7 480.6,380.7 481.1,380.7 481.6,380.4 482.1,380.5 482.6,380.4 483.1,380.4 483.6,380.7 484.1,380.7 484.6,380.7 485.1,380.7 485.7,380.5 486.2,380.6 486.7,380.7 487.2,380.5 487.7,380.7 488.2,380.6 488.7,380.4 489.2,380.4 489.7,380.6 490.2,380.3 490.7,380.4 491.2,380.3 491.7,380.3 492.3,380.7 492.8,380.7 493.3,380.7 493.8,380.5 494.3,380.6 494.8,380.6 495.3,380.5 495.8,380.5 496.3,380.3 496.8,380.4 497.3,380.4 497.8,380.4 498.3,380.6 498.9,380.4 499.4,380.4 499.9,380.7 500.4,380.6 500.9,380.7 501.4,380.6 501.9,380.3 502.4,380.5 502.9,380.7 503.4,380.7 503.9,380.4 504.4,380.5 504.9,380.5 505.5,380.3 506,380.4 506.5,380.6 507,380.6 507.5,380.5 508,380.5 508.5,380.5 509,380.4 509.5,380.3 510,380.6 510.5,380.6 511,380.5 511.5,380.6 512.1,380.7 512.6,380.6 513.1,380.7 513.6,380.7 514.1,380.3 514.6,380.7 515.1,380.5 515.6,380.6 516.1,380.6 516.6,380.3 517.1,380.5 517.6,380.3 518.1,380.6 518.7,380.4 519.2,380.4 519.7,380.4 520.2,380.7 520.7,380.6 521.2,380.4 521.7,380.6 522.2,380.3 522.7,380.7 523.2,380.6 523.7,380.6 524.2,380.6 524.7,380.7 525.3,380.6 525.8,380.5 526.3,380.5 526.8,380.5 527.3,380.4 527.8,380.4 528.3,380.6 528.8,380.7 529.3,380.7 529.8,380.6 530.3,380.5 530.8,380.4 531.3,380.6 531.9,380.6 532.4,380.7 532.9,380.6 533.4,380.4 533.9,380.4 534.4,380.3 534.9,380.6 535.4,380.5 535.9,380.4 536.4,380.3 536.9,380.5 537.4,380.7 537.9,380.4 538.5,380.6 539,380.6 539.5,380.6 540,380.5 540.5,380.4 541,380.6 541.5,380.5" stroke="#2a2aff" stroke-width="0.9" fill="none"/><path d="M323.2 380.5v-2M323.2 380.5v5M333.9 380.5v-1.5M340.5 380.5v1.5M355.7 380.5v-2M355.7 380.5v2.5M373 380.5v1.5" stroke="#2a2aff" stroke-width="0.8"/></g>
<g clip-path="url(#c7)">
<path d="M303.1 375.9h0M303.8 376.4h0M304.9 375.6h0M305.9 375.4h0M306.6 376.4h0M307.7 376.2h0M308.6 375.7h0M309.5 376.1h0M310.7 375.4h0M311.5 375h0M312.4 375.6h0M313.4 374.6h0M314.4 374.9h0M315.6 374.7h0M316.3 375.3h0M317.3 374.4h0M318.1 373.6h0M318.6 373.2h0M319.1 371.7h0M319.2 370.6h0M319.3 369.6h0M319.4 369h0M319.3 366.8h0M319.2 365.6h0M319.5 365.3h0M319.3 364.3h0M319.6 362.1h0M319.5 361h0M319.4 358.9h0M319.6 357.2h0M319.5 356.3h0M319.4 355.2h0M319.5 353.7h0M319.6 353.3h0M319.6 351.9h0M319.7 350.6h0M319.8 349.1h0M319.4 348.4h0M319.7 346.9h0M319.6 345.5h0M319.6 344.8h0M319.8 342.8h0M319.7 341.7h0M319.5 340.7h0M319.7 339.7h0M319.9 338.2h0M319.6 335.7h0M319.9 334.3h0M319.8 333h0M319.9 331.4h0M319.6 331.2h0M319.8 329.3h0M320 328.5h0M319.7 327.1h0M319.8 325.6h0M319.8 324.1h0M319.8 323.1h0M319.8 322.9h0M319.9 320.6h0M320.1 319.3h0M319.8 318.5h0M320.3 319.5h0M320 321h0M320.2 321.7h0M320.1 323.7h0M320.2 325.1h0M320.3 326.1h0M320.4 326.6h0M320.4 327.4h0M320.3 328.8h0M320.2 330.6h0M320.1 332.2h0M320.4 333h0M320.2 335.2h0M320.3 335.5h0M320.2 338.2h0M320.2 338.7h0M320.3 340.9h0M320.5 341.5h0M320.4 342.4h0M320.2 344.2h0M320.4 345.2h0M320.2 347.5h0M320.3 347.6h0M320.2 348.9h0M320.3 350.8h0M320.5 351.6h0M320.4 352.8h0M320.5 353.5h0M320.5 354.5h0M320.7 356.8h0M320.5 358.6h0M320.5 360.4h0M320.6 362.6h0M320.7 364.2h0M320.6 364.9h0M320.6 365.6h0M320.7 367.5h0M320.5 368.8h0M320.7 369.8h0M320.7 371.2h0M320.9 371.7h0M321.2 372.2h0M321.8 374.1h0M322.3 372.5h0M322.7 370.9h0M323 369.9h0M323 369.1h0M322.9 367.3h0M322.7 365.6h0M323 364.9h0M323 363.7h0M322.8 361.9h0M323 360h0M323.1 358.9h0M323 357.9h0M322.8 357.6h0M323 356.1h0M323 354.6h0M323.2 352.7h0M323 351.8h0M323.1 345.9h0M323.2 338.2h0M323 330.2h0M323.2 319.1h0M323.1 307.9h0M323 295.4h0M323.1 282.6h0M323 270.1h0M323.4 257.4h0M323.1 249.4h0M323.4 242.5h0M323.4 241.8h0M323.2 240.9h0M323.3 241.2h0M323.5 243.1h0M323.3 248.8h0M323.5 258h0M323.3 269.6h0M323.6 281.7h0M323.4 295.1h0M323.7 308.4h0M323.3 319.5h0M323.4 329.3h0M323.4 338.7h0M323.8 346.9h0M323.6 352.9h0M323.7 352.9h0M323.8 354.4h0M323.8 355.4h0M323.8 357.1h0M323.7 357.9h0M323.6 360h0M323.7 361.5h0M323.7 362.8h0M323.5 364h0M323.7 365.3h0M323.6 365.7h0M323.9 367h0M323.7 369h0M323.9 370.1h0M323.7 371.7h0M324 371.9h0M324.1 372.7h0M324.7 374.5h0M325.5 375h0M326.1 375h0M327.3 374.6h0M328 374.9h0M328.9 375.2h0M330.1 375h0M331.1 375.6h0M331.8 375.1h0M332.9 375.3h0M333.4 374.1h0M333.5 373.4h0M333.5 372.2h0M333.8 371.3h0M333.5 369.8h0M333.5 368h0M333.5 367.4h0M333.6 366.1h0M333.6 365.9h0M333.6 364.6h0M333.9 363.3h0M333.8 362.1h0M333.9 361.6h0M333.6 360.6h0M333.6 359.3h0M333.6 358.3h0M333.8 357.6h0M333.7 355.7h0M333.8 355.8h0M333.8 349.3h0M334 342.5h0M334.1 335.6h0M334 328.2h0M333.8 321.3h0M334 320.6h0M334.1 319.8h0M333.9 317.9h0M334 316.8h0M334 315.5h0M334 317.5h0M334.1 318.6h0M333.8 320h0M334.1 321.1h0M334.1 321.8h0M334.2 328.1h0M334.1 334.3h0M333.9 342.6h0M334.3 349h0M334 355.2h0M334.3 356.6h0M334 356.9h0M334 358.7h0M334.1 359.9h0M334.1 359.9h0M334.1 360.8h0M334.3 361.7h0M334.2 363.2h0M334 364h0M334.4 365.9h0M334.2 366.9h0M334.4 367.9h0M334.3 368.6h0M334.3 369.9h0M334.3 371.8h0M334.2 372.8h0M334.5 373.3h0M334.6 374.1h0M334.8 375.4h0M335.9 375.2h0M336.4 374.9h0M336.5 373.3h0M336.5 372.7h0M336.6 371.3h0M336.7 369.8h0M336.6 367.7h0M336.6 367.4h0M336.9 364.9h0M336.8 366.3h0M337.1 367.7h0M337.1 369.2h0M337 371.7h0M336.9 372.3h0M337 373.5h0M337 374.5h0M337.3 375.8h0M338.1 376h0M338.9 376.3h0M340 375.8h0M340.3 373.4h0M340.4 372.7h0M340.2 372.4h0M340.4 370.3h0M340.2 368.8h0M340.2 367h0M340.2 365.6h0M340.5 364.7h0M340.6 363.6h0M340.5 363.2h0M340.5 361.7h0M340.3 360.7h0M340.6 359h0M340.3 357.3h0M340.3 357.5h0M340.4 355.4h0M340.5 354h0M340.6 353.8h0M340.4 351.6h0M340.6 351.5h0M340.6 349.5h0M340.7 349h0M340.3 348.4h0M340.6 346.1h0M340.7 345.6h0M340.6 343.5h0M340.4 343.2h0M340.3 341.1h0M340.3 340.3h0M340.4 339.2h0M340.5 338.2h0M340.8 339.5h0M340.5 340h0M340.7 341.3h0M340.8 342.6h0M340.7 343.8h0M340.7 345.1h0M340.6 346.9h0M340.8 347.2h0M340.5 348.4h0M340.8 350.2h0M340.8 351.5h0M340.6 352.3h0M340.5 353.2h0M340.7 354.3h0M340.8 355.3h0M340.7 357.1h0M340.6 358.1h0M340.7 358.3h0M340.6 360.5h0M340.9 361.8h0M340.9 363.1h0M340.9 364.4h0M340.8 365h0M340.6 365.7h0M340.6 366.8h0M340.8 368.3h0M340.8 371h0M340.8 372.5h0M341 372.5h0M341 373.6h0M340.9 374.6h0M341.7 375h0M342.6 376.1h0M343.6 375.5h0M343.4 373.3h0M343.8 372.6h0M343.6 371.9h0M343.7 370.1h0M343.6 368.4h0M343.9 368h0M343.7 365.7h0M344 364.6h0M344.1 366.1h0M344 366.9h0M344.1 369.3h0M344.1 370.4h0M344.4 371.8h0M344.3 373.4h0M344.5 374.7h0M344.4 375h0M345.2 376.2h0M346.2 375.9h0M347.1 376.3h0M348 374.9h0M348.2 374h0M348.3 374.1h0M348.5 372.8h0M348.5 371.1h0M348.5 369.9h0M348.6 368.3h0M348.7 367.9h0M348.9 366.2h0M348.7 365.6h0M348.7 363.5h0M348.7 362.6h0M348.7 362.2h0M348.7 361h0M348.8 358.8h0M349.1 361.2h0M349.1 361.9h0M348.9 362.8h0M349.2 364.4h0M349.1 365.3h0M349 365.6h0M349.3 366.7h0M349.1 368.3h0M349.3 369.7h0M349.4 371.7h0M349.2 372.1h0M349.2 373.2h0M349.3 375h0M349.7 375.3h0M350.3 376.3h0M351.4 376.2h0M352.3 375.5h0M353.3 375.7h0M354.2 375.5h0M354.9 374.2h0M354.9 373.5h0M355.1 372.4h0M355.1 370.6h0M355 370.3h0M355.3 368.7h0M355.3 367.3h0M355.1 366.8h0M355.3 365.1h0M355.2 364h0M355.5 363h0M355.4 361.6h0M355.3 360.7h0M355.2 359.8h0M355.2 359.2h0M355.3 358.4h0M355.2 357.4h0M355.3 356.2h0M355.3 354.4h0M355.5 353.8h0M355.4 346.9h0M355.5 339.5h0M355.5 330.2h0M355.4 319.1h0M355.6 309.4h0M355.6 299h0M355.5 291.5h0M355.4 289.3h0M355.4 288.3h0M355.5 287.3h0M355.5 285.7h0M355.5 285.3h0M355.4 283.2h0M355.7 285.5h0M355.8 286.9h0M355.6 286.8h0M355.4 288.7h0M355.7 289.5h0M355.4 291.2h0M355.6 299.1h0M355.5 309h0M355.7 319.7h0M355.9 328.9h0M355.9 338.5h0M355.7 346.7h0M355.9 353.5h0M355.6 354.6h0M355.6 355.1h0M355.6 356.6h0M355.8 357.2h0M355.6 359.5h0M355.8 360.7h0M355.8 361.6h0M355.9 361.9h0M355.6 362.6h0M356 364.3h0M355.8 364.6h0M355.9 366.7h0M355.8 367.9h0M355.9 367.9h0M355.8 370.2h0M356.1 370.6h0M355.9 371.9h0M355.9 373h0M356.2 374h0M357 374.7h0M357.2 374.1h0M357.3 372.3h0M357.4 370.8h0M357.7 369.5h0M357.6 368.9h0M357.7 367h0M357.7 366.1h0M357.7 364.3h0M357.6 363.1h0M357.7 362h0M357.6 361h0M357.7 359.3h0M357.9 357.8h0M358 356.7h0M357.9 354.4h0M357.7 353.7h0M357.9 351.8h0M357.8 350.5h0M358.2 349.3h0M358.3 351.5h0M358.1 351.7h0M358.4 353.1h0M358.3 355.4h0M358.3 356.2h0M358.5 358.3h0M358.5 359.6h0M358.2 360.2h0M358.2 362.9h0M358.4 364.2h0M358.6 364.6h0M358.7 365.9h0M358.4 367.1h0M358.7 369h0M358.5 370.2h0M358.8 372h0M358.8 372.4h0M358.6 373.7h0M359.1 374.8h0M359.6 375h0M360.4 376.3h0M361.4 376.2h0M362.5 375.7h0M363.4 376h0M364.3 375.7h0M365.1 375.4h0M365.3 373.5h0M365.3 372.5h0M365.4 370.9h0M365.3 369.4h0M365.5 368.2h0M365.2 366.3h0M365.2 365.9h0M365.5 364.5h0M365.3 363.7h0M365.5 362.4h0M365.4 361.2h0M365.4 360.9h0M365.5 359.2h0M365.7 357.5h0M365.6 359.1h0M365.9 361.1h0M365.7 361.1h0M365.7 362.1h0M365.8 363.9h0M366 364.8h0M365.8 365.6h0M365.8 366.6h0M366 367.9h0M365.9 369.4h0M366.2 371.4h0M366.1 372.2h0M366.1 374.1h0M366.1 375h0M367 375.8h0M367.6 375.1h0M368.9 375.4h0M369.7 376h0M370.7 375.4h0M371.7 376h0M372 374.4h0M372.2 373.9h0M372.3 372.5h0M372.4 371.2h0M372.2 368.9h0M372.3 367h0M372.3 366.9h0M372.3 364.7h0M372.6 364.1h0M372.6 361.7h0M372.6 359.6h0M372.3 357.9h0M372.5 356.4h0M372.7 355h0M372.7 353.4h0M372.6 351.7h0M372.5 350.5h0M372.9 350.1h0M372.9 347.5h0M372.8 349.9h0M372.7 350h0M372.8 351.3h0M373 353.8h0M373.1 354.5h0M373 357.2h0M372.8 357.9h0M373.2 360.6h0M372.9 361.4h0M373.1 363h0M373.1 364.4h0M372.9 366.3h0M373.2 368h0M373 368.5h0M373 369.7h0M373.1 371.1h0M373.5 372.7h0M373.4 373.8h0M373.4 374.9h0M374.2 374.9h0M375.1 375.5h0M375.8 376h0M377 375.3h0M377.7 375.7h0M378.3 374.9h0M378.8 373.3h0M378.6 372.3h0M378.6 371.5h0M379 370.3h0M378.9 369.7h0M379 369.1h0M378.9 366.8h0M379.4 368.6h0M379.4 368.9h0M379.4 369.9h0M379.2 370.8h0M379.4 372.6h0M379.6 374.3h0M379.6 374.9h0M380 375.5h0M380.9 375.1h0M381.9 376.2h0M383.1 376.1h0M383.9 375.7h0M384.7 375.5h0M386 376h0M386.8 375.9h0M387.8 375.6h0M388.7 375.7h0M389.9 376.4h0M390.6 375.7h0M391.5 376.1h0M391.9 374.5h0M392 373.4h0M392.3 371.6h0M392.3 371.1h0M392.5 369.7h0M392.4 368.7h0M392.6 367.3h0M392.8 366.4h0M392.9 365.9h0M393.1 366.8h0M393.4 368.4h0M393.5 369.4h0M393.6 369.6h0M393.7 371.4h0M393.7 372.8h0M393.6 373.8h0M393.9 374.3h0M394.3 374.7h0M395 375h0M395.8 376.4h0M396.9 375.6h0M397.7 375.9h0M398.2 374.8h0M398.3 373.3h0M398.4 372.4h0M398.7 371.3h0M398.8 369.9h0M399 368.3h0M398.9 368.3h0M399.6 369.5h0M399.4 370.8h0M399.6 371.3h0M399.8 372.5h0M400 373.9h0M399.9 374.9h0M400.2 375.5h0M401 375.9h0M402 376.5h0M403.2 375.7h0M404.2 375.3h0M405.1 376h0M405.8 375.8h0M406.8 376.5h0M407.7 376h0M408.9 375.1h0M409.8 375.2h0M410.3 374h0M410.6 373.2h0M411.4 373.5h0M412.1 374.6h0M412.9 374.9h0M413.6 375.7h0M414.8 375.5h0M415.5 375.1h0M416.3 374.8h0M416.8 373.6h0M416.9 373.3h0M417.1 371.3h0M417.7 371.6h0M418 371.5h0M418.3 372.4h0M418.7 374.4h0M419 374.6h0M419.9 375h0M419.9 373.6h0M420.1 373h0M420.5 371.2h0M421.2 371.8h0M421.1 373.1h0M421.3 373.9h0M421.9 375h0M422.3 375.2h0M423.4 375.7h0M424.4 374.7h0M424.5 374.2h0M424.8 372.9h0M425.1 372.5h0M425.5 373h0M425.9 374.8h0M426.2 374.8h0M426.8 375.7h0M427.9 375h0M428.5 374.8h0M428.7 374.1h0M429.1 372.1h0M429.6 373.5h0M430.1 374.5h0M430.3 375.1h0M431.4 375.6h0M432.3 375.4h0M433.3 375.8h0M434 376.2h0M435.3 376.5h0M436.3 376.1h0M437.1 375.5h0M438.1 375.7h0M438.8 374.8h0M439.5 374.8h0M440.5 373.8h0M440.8 375.3h0M441.5 376.3h0M442.8 376h0M443.5 375.9h0M444.6 375.5h0M445.4 375.3h0M446.1 374.8h0M446.8 375.1h0M447.6 375.8h0M448.4 375.6h0M449.2 375.9h0M450.2 376.5h0M451.1 376.4h0M452.2 375.4h0M453.2 375.6h0M454.4 376h0M455 375.6h0M455.9 375.7h0M457 375h0M457.9 374.8h0M458.8 375.6h0M459.5 376.2h0M460.4 375.5h0M461.3 376.5h0M462.5 376.4h0M463.7 375.3h0M464.6 375.2h0M465.5 376.3h0M466.3 376.4h0M467.4 375.9h0M468.2 375.3h0M469 375.6h0M470 374.6h0M471 374.5h0M471.7 375.8h0M472.6 375.9h0M473.5 376.4h0M474.5 376.5h0M475.8 376.5h0M476.5 376.1h0M477.4 376.6h0M478.6 375.2h0M479.3 375.3h0M480.4 376.5h0M481.5 375.7h0M482.5 375.2h0M483.3 375.7h0M484.1 376.5h0M485.3 376.6h0M486.3 376.1h0M487 375.9h0M488.3 376h0M489.2 375.8h0M490 375.2h0M490.9 375.5h0M491.8 375.3h0M493.1 376.6h0M494 376.4h0M494.8 376.4h0M495.8 376.4h0M496.7 375.6h0M497.8 375.5h0M498.7 376.2h0M499.8 376.6h0M500.7 375.7h0M501.6 376h0M502.7 376.5h0M503.6 376.5h0M504.5 375.8h0M505.3 375.7h0M506.5 375.2h0M507.4 375.4h0M508.3 376.4h0M509.5 375.4h0M510.4 375.9h0M511.1 375.6h0M512.3 375.8h0M513.3 375.3h0M514.2 376.1h0M515 376h0M516.3 376.4h0M517.1 375.9h0M518.2 375.8h0M519.1 375.7h0M520 376.2h0M521 376h0M521.9 375.7h0M522.9 375.8h0M523.8 375.7h0M524.7 376.1h0M525.9 375.5h0M526.8 375.9h0M527.7 376.1h0M528.6 375.2h0M529.6 375.9h0M530.6 376.5h0M531.6 376.1h0M532.5 376.3h0M533.3 376.4h0M534.4 375.8h0M535.5 376h0M536.6 375.4h0M537.2 376h0M538.2 375.5h0M539.5 375.9h0M540.1 375.7h0M541.1 375.6h0" stroke="#000" stroke-width="4.0" stroke-linecap="round" fill="none"/>
<polyline points="302.9,375.9 309.1,375.7 315.5,374.8 318,374.1 318.6,373.6 318.9,372.8 319.2,370.3 319.4,363.7 320,317 320.8,369.7 321,372.1 321.4,373.2 321.8,373.5 322.1,373.4 322.6,371.9 322.9,367.1 323,352.1 323.3,240.7 323.7,365.8 324,372.5 324.4,373.9 325.1,374.6 327.8,375.4 332,375.7 333.1,375.4 333.5,374.2 333.7,364.3 334,315.8 334.2,367.4 334.3,372.9 334.6,374.9 334.9,375.4 335.5,375.6 336,375.4 336.2,374.9 336.8,364.8 337.4,375.2 337.9,375.7 339.2,375.7 339.9,375.4 340.1,374.7 340.6,337.8 340.8,370.5 341.1,375.1 341.5,375.6 342.3,375.7 343.1,375.6 343.4,375.1 344,364.8 344.6,375.3 345.1,375.7 346.5,375.8 347.7,375.6 348.2,375.2 348.5,372.4 348.9,358.9 349.3,372.4 349.6,375.2 350.4,375.7 353.1,375.7 354.3,375.4 354.8,374.7 355.1,371.9 355.3,363.1 355.5,283.3 355.9,368.4 356.1,373.4 356.3,374.5 356.6,375 357,375 357.2,374.6 357.5,372.5 358.1,348.8 358.6,370.9 359,375 359.8,375.6 361.8,375.8 364.1,375.7 364.9,375.1 365.2,371.9 365.6,357.9 366.1,371.9 366.4,375.1 367,375.6 368.7,375.8 371,375.7 371.8,375.1 372.3,371.3 372.8,347.9 373.3,373.4 373.7,375.1 374.7,375.7 377.4,375.8 378.3,375.4 379,366.9 379.6,374.2 380,375.6 381.4,375.8 387,375.9 390.3,375.8 391.5,375.5 391.9,375 392.2,373.6 393,364.9 394,374.5 394.4,375.4 395.5,375.7 397.3,375.6 398,375.1 399.1,367.9 400.2,375 400.7,375.6 402,375.8 408.8,375.7 409.6,375.2 411,373.4 413,375.5 414,375.7 415.7,375.6 416.5,374.7 417.6,370.8 418.7,374.5 419.3,375.1 419.8,374.4 420.7,370.8 421.8,375 422.2,375.5 422.9,375.7 423.7,375.6 424.1,375.3 425.2,372.3 426.3,375.2 426.7,375.6 427.2,375.7 427.9,375.6 428.2,375.2 429.3,372.4 430.5,375.4 431,375.7 432.3,375.8 438.2,375.7 438.9,375.4 440,373.9 441.3,375.6 442.7,375.8 444.6,375.7 446.1,374.4 447.4,375.7 449.2,375.9 455.5,375.8 457.7,374.9 460,375.8 467.8,375.9 468.9,375.7 470.4,374.9 472.2,375.7 473.9,375.9 541.5,375.9" stroke="#d81010" stroke-width="0.95" fill="none" stroke-linejoin="round"/>
</g>
<rect x="302.9" y="224.4" width="238.6" height="171" fill="none" stroke="#505050" stroke-width="1.0"/>
<path d="M308 395.4v-1.8M308 224.4v1.8M318.1 395.4v-1.8M318.1 224.4v1.8M328.3 395.4v-1.8M328.3 224.4v1.8M338.4 395.4v-2.8M338.4 224.4v2.8M348.6 395.4v-1.8M348.6 224.4v1.8M358.7 395.4v-1.8M358.7 224.4v1.8M368.9 395.4v-1.8M368.9 224.4v1.8M379 395.4v-1.8M379 224.4v1.8M389.2 395.4v-2.8M389.2 224.4v2.8M399.4 395.4v-1.8M399.4 224.4v1.8M409.5 395.4v-1.8M409.5 224.4v1.8M419.7 395.4v-1.8M419.7 224.4v1.8M429.8 395.4v-1.8M429.8 224.4v1.8M440 395.4v-2.8M440 224.4v2.8M450.1 395.4v-1.8M450.1 224.4v1.8M460.3 395.4v-1.8M460.3 224.4v1.8M470.4 395.4v-1.8M470.4 224.4v1.8M480.6 395.4v-1.8M480.6 224.4v1.8M490.7 395.4v-2.8M490.7 224.4v2.8M500.9 395.4v-1.8M500.9 224.4v1.8M511 395.4v-1.8M511 224.4v1.8M521.2 395.4v-1.8M521.2 224.4v1.8M531.3 395.4v-1.8M531.3 224.4v1.8M541.5 395.4v-2.8M541.5 224.4v2.8" stroke="#505050" stroke-width="0.8"/>
<path d="M302.9 226.4h1.8M541.5 226.4h-1.8M302.9 230.1h1.8M541.5 230.1h-1.8M302.9 233.7h1.8M541.5 233.7h-1.8M302.9 237.4h1.8M541.5 237.4h-1.8M302.9 241.1h1.8M541.5 241.1h-1.8M302.9 244.8h2.8M541.5 244.8h-2.8M302.9 248.4h1.8M541.5 248.4h-1.8M302.9 252.1h1.8M541.5 252.1h-1.8M302.9 255.8h1.8M541.5 255.8h-1.8M302.9 259.4h1.8M541.5 259.4h-1.8M302.9 263.1h2.8M541.5 263.1h-2.8M302.9 266.8h1.8M541.5 266.8h-1.8M302.9 270.4h1.8M541.5 270.4h-1.8M302.9 274.1h1.8M541.5 274.1h-1.8M302.9 277.8h1.8M541.5 277.8h-1.8M302.9 281.4h2.8M541.5 281.4h-2.8M302.9 285.1h1.8M541.5 285.1h-1.8M302.9 288.8h1.8M541.5 288.8h-1.8M302.9 292.5h1.8M541.5 292.5h-1.8M302.9 296.1h1.8M541.5 296.1h-1.8M302.9 299.8h2.8M541.5 299.8h-2.8M302.9 303.5h1.8M541.5 303.5h-1.8M302.9 307.1h1.8M541.5 307.1h-1.8M302.9 310.8h1.8M541.5 310.8h-1.8M302.9 314.5h1.8M541.5 314.5h-1.8M302.9 318.1h2.8M541.5 318.1h-2.8M302.9 321.8h1.8M541.5 321.8h-1.8M302.9 325.5h1.8M541.5 325.5h-1.8M302.9 329.2h1.8M541.5 329.2h-1.8M302.9 332.8h1.8M541.5 332.8h-1.8M302.9 336.5h2.8M541.5 336.5h-2.8M302.9 340.2h1.8M541.5 340.2h-1.8M302.9 343.8h1.8M541.5 343.8h-1.8M302.9 347.5h1.8M541.5 347.5h-1.8M302.9 351.2h1.8M541.5 351.2h-1.8M302.9 354.9h2.8M541.5 354.9h-2.8M302.9 358.5h1.8M541.5 358.5h-1.8M302.9 362.2h1.8M541.5 362.2h-1.8M302.9 365.9h1.8M541.5 365.9h-1.8M302.9 369.5h1.8M541.5 369.5h-1.8M302.9 373.2h2.8M541.5 373.2h-2.8M302.9 376.9h1.8M541.5 376.9h-1.8M302.9 380.5h1.8M541.5 380.5h-1.8M302.9 384.2h1.8M541.5 384.2h-1.8M302.9 387.9h1.8M541.5 387.9h-1.8M302.9 391.6h2.8M541.5 391.6h-2.8" stroke="#505050" stroke-width="0.8"/>
<text x="338.4" y="408.8" font-size="9.5" text-anchor="middle" fill="#111" >10</text>
<text x="389.2" y="408.8" font-size="9.5" text-anchor="middle" fill="#111" >20</text>
<text x="440" y="408.8" font-size="9.5" text-anchor="middle" fill="#111" >30</text>
<text x="490.7" y="408.8" font-size="9.5" text-anchor="middle" fill="#111" >40</text>
<text x="541.5" y="408.8" font-size="9.5" text-anchor="middle" fill="#111" >50</text>
<text x="422.2" y="428" font-size="10.9" text-anchor="middle" fill="#111" >Diffraction angle 2&#952; (deg)</text>
<text transform="translate(288.9 310.6) rotate(-90)" font-size="10.9" text-anchor="middle" fill="#111">Intensity (arb.units)</text>
<text x="308.5" y="236" font-size="10.95" fill="#111">(d) Black TiO<tspan dy="2.6">2</tspan><tspan dy="-2.6"> - </tspan><tspan font-style="italic">T</tspan> = 993 K</text>
<rect x="383.7" y="252.9" width="147.7" height="86.4" fill="#fff"/>
<clipPath id="c8"><rect x="384.1" y="253.3" width="146.9" height="85.6"/></clipPath>
<g clip-path="url(#c8)"><polyline points="383.7,328.3 384.2,328.9 384.6,328.8 385.1,328.5 385.5,328.3 386,328.9 386.5,328.9 386.9,328.3 387.4,328.9 387.9,328.6 388.3,328.9 388.8,328.6 389.2,328.6 389.7,328.3 390.2,328.7 390.6,328.4 391.1,328.9 391.5,328.4 392,328.9 392.5,328.5 392.9,328.8 393.4,328.7 393.9,328.9 394.3,328.7 394.8,328.5 395.2,328.4 395.7,328.4 396.2,328.3 396.6,328.5 397.1,328.6 397.1,328.5 397.5,328.8 398,328.3 398.5,328.6 398.9,328.6 399.4,328.4 399.9,328.7 400.3,328.4 400.8,328.8 401.2,328.4 401.7,328.6 401.7,328.9 402.2,328.5 402.6,328.3 403.1,328.4 403.5,328.4 404,328.3 404.5,328.5 404.9,328.9 405.4,328.5 405.9,328.5 406.3,328.8 406.8,328.3 407.2,328.3 407.7,328.9 408.2,328.5 408.6,328.4 409.1,328.4 409.5,328.8 410,328.9 410.5,328.5 410.9,328.7 411.4,328.6 411.9,328.4 412.3,328.5 412.8,328.5 413.2,328.4 413.7,328.8 414.2,328.3 414.6,328.5 415.1,328.8 415.5,328.3 416,328.9 416.5,328.7 416.9,328.7 417.4,328.4 417.9,328.4 418.3,328.8 418.8,328.9 419.2,328.3 419.7,328.8 420.2,328.4 420.6,328.3 421.1,328.7 421.5,328.3 422,328.8 422.5,328.8 422.9,328.5 423.4,328.4 423.9,328.6 424.3,328.8 424.8,328.3 425.2,328.7 425.7,328.3 426.2,328.5 426.6,328.4 427.1,328.3 427.5,328.6 428,328.5 428.5,328.9 428.9,328.9 429.4,328.8 429.9,328.6 430.3,328.7 430.8,328.5 431.2,328.6 431.7,328.6 432.2,328.5 432.6,328.6 433.1,328.8 433.5,328.9 434,328.8 434.5,328.9 434.9,328.5 435.4,328.3 435.9,328.4 436.3,328.6 436.8,328.8 437.2,328.8 437.7,328.9 438.2,328.8 438.6,328.5 439.1,328.3 439.5,328.6 440,328.5 440.5,328.9 440.9,328.9 441.4,328.6 441.9,328.8 442.3,328.8 442.8,328.6 443.2,328.6 443.7,328.9 444.2,328.8 444.6,328.6 445.1,328.9 445.5,328.4 446,328.8 446.5,328.6 446.9,328.5 447.4,328.3 447.9,328.7 448.3,328.9 448.8,328.4 449.2,328.9 449.7,328.9 450.2,328.4 450.6,328.6 451.1,328.6 451.5,328.5 452,328.3 452.5,328.4 452.9,328.9 453.4,328.8 453.9,328.9 454.3,328.6 454.8,328.6 455.2,328.3 455.7,328.5 456.2,328.7 456.6,328.9 457.1,328.3 457.6,328.7 458,328.3 458.5,328.9 458.9,328.4 459.4,328.7 459.9,328.7 460.3,328.4 460.8,328.6 461.2,328.5 461.7,328.4 462.2,328.5 462.6,328.3 463.1,328.7 463.6,328.9 464,328.6 464.5,328.5 464.9,328.6 465.4,328.4 465.9,328.8 466.3,328.7 466.8,328.3 467.2,328.5 467.7,328.3 468.2,328.7 468.6,328.3 469.1,328.9 469.6,328.3 470,328.8 470.5,328.4 470.9,328.6 471.4,328.7 471.9,328.9 472.3,328.9 472.8,328.4 473.2,328.8 473.7,328.6 474.2,328.4 474.6,328.6 475.1,328.9 475.6,328.3 476,328.7 476.5,328.6 476.9,328.9 477.4,328.6 477.9,328.4 478.3,328.8 478.8,328.3 479.2,328.7 479.7,328.5 480.2,328.3 480.6,328.4 481.1,328.8 481.6,328.4 482,328.9 482.5,328.4 482.9,328.9 483.4,328.3 483.9,328.7 484.3,328.6 484.8,328.7 485.2,328.9 485.7,328.4 486.2,328.9 486.6,328.6 487.1,328.8 487.6,328.4 488,328.9 488.5,328.8 488.9,328.6 489.4,328.4 489.9,328.9 490.3,328.6 490.8,328.9 491.2,328.9 491.7,328.8 492.2,328.8 492.6,328.4 493.1,328.8 493.6,328.8 494,328.3 494.5,328.3 494.9,328.3 495.4,328.4 495.9,328.8 496.3,328.8 496.8,328.7 497.2,328.5 497.7,328.9 498.2,328.4 498.6,328.4 499.1,328.6 499.6,328.4 500,328.8 500.5,328.8 500.9,328.8 501.4,328.5 501.9,328.7 502.3,328.5 502.8,328.6 503.2,328.6 503.7,328.4 504.2,328.8 504.6,328.8 505.1,328.8 505.6,328.3 506,328.4 506.5,328.8 506.9,328.8 507.4,328.7 507.9,328.9 508.3,328.5 508.8,328.4 509.2,328.6 509.7,328.5 510.2,328.5 510.6,328.8 511.1,328.5 511.6,328.7 512,328.7 512.5,328.3 512.9,328.6 513.4,328.9 513.9,328.7 514.3,328.8 514.8,328.7 515.2,328.9 515.7,328.3 516.2,328.5 516.6,328.4 517.1,328.8 517.6,328.5 518,328.7 518.5,328.7 518.9,328.3 519.4,328.7 519.9,328.5 520.3,328.4 520.8,328.7 521.2,328.7 521.7,328.4 522.2,328.7 522.6,328.3 523.1,328.3 523.6,328.9 524,328.9 524.5,328.9 524.9,328.9 525.4,328.8 525.9,328.6 526.3,328.6 526.8,328.6 527.2,328.9 527.7,328.9 528.2,328.6 528.6,328.4 529.1,328.6 529.6,328.5 530,328.8 530.5,328.9 530.9,328.7 531.4,328.3" stroke="#2a2aff" stroke-width="1.2" fill="none"/><path d="M397.1 328.6v-4M401.7 328.6v2" stroke="#2a2aff" stroke-width="0.8"/></g>
<g clip-path="url(#c8)">
<path d="M383.7 312.5h0M383.9 312.5h0M384 311.1h0M383.9 310.9h0M384.2 309.3h0M383.9 308.3h0M384.1 306.5h0M384.1 305.5h0M384 305h0M384.2 303.8h0M384.3 302.8h0M384.1 301.5h0M384.2 300.9h0M384.3 300h0M384.2 299h0M384.3 297.4h0M384.2 296.9h0M384.4 296.5h0M384.5 295.1h0M384.5 295.6h0M384.4 297.2h0M384.4 297.6h0M384.5 298.1h0M384.4 299.3h0M384.7 301.1h0M384.4 301.4h0M384.8 302.4h0M384.7 303.9h0M384.8 305.1h0M384.5 306h0M384.8 306h0M384.9 307.1h0M384.7 308.8h0M384.8 310h0M384.7 311.2h0M384.9 311.2h0M385 312.2h0M385.3 313.5h0M386.1 313.1h0M386.7 314.1h0M387.6 313.1h0M388.2 312.6h0M388.1 312.4h0M388.2 310.8h0M388.4 311h0M388.3 309.7h0M388.4 308h0M388.4 307.1h0M388.8 309h0M388.6 309h0M388.7 310.3h0M388.8 310.9h0M389.1 311.7h0M389.1 312.5h0M389.7 313h0M390.3 314h0M390.6 312.5h0M390.8 312.3h0M390.8 310.3h0M390.8 309.8h0M390.8 308.5h0M390.9 307.2h0M390.8 306.7h0M391 305.8h0M390.7 304.4h0M390.9 303.4h0M390.7 303.3h0M390.8 301.2h0M390.7 300.1h0M391 299.2h0M390.9 299.3h0M391 297.9h0M390.8 297.1h0M391 295.5h0M390.8 294.7h0M390.9 294.5h0M391 294.5h0M391 295.4h0M390.8 296.2h0M391 297.9h0M390.9 298.8h0M390.8 299.3h0M391 300.5h0M391 302.1h0M391 302.9h0M390.8 303.6h0M390.8 304.1h0M390.9 305.3h0M390.9 307.1h0M390.9 307.5h0M390.9 308.5h0M391.1 309.6h0M391.2 310.9h0M391.1 311.5h0M391.2 312.4h0M391.2 312.9h0M392.1 312.2h0M391.9 312.1h0M392.2 311.1h0M392.2 309.9h0M392.2 308.4h0M392.2 308.4h0M392.3 306.4h0M392.3 305.9h0M392.3 304h0M392.5 303.4h0M392.3 302.3h0M392.5 302.8h0M392.7 303.9h0M392.8 305.3h0M392.8 306.2h0M392.7 307.3h0M392.9 309.5h0M392.8 309.9h0M393 310.6h0M392.8 311.3h0M393.1 312.8h0M393.2 313.5h0M394 313.7h0M394.5 313.7h0M395.6 313.5h0M396.2 313.6h0M396.6 312.6h0M396.9 312.7h0M396.8 311.3h0M396.9 309.6h0M396.8 308.4h0M397 307.1h0M396.9 306.5h0M397.1 305.9h0M397.1 303.9h0M397 303.3h0M397 299.1h0M397 293.7h0M397.1 289.1h0M397.1 283.8h0M397.2 279.5h0M397.1 278.8h0M397.2 279.2h0M397.1 283.9h0M397 288.5h0M397.3 293.9h0M397.2 299.1h0M397.3 303.1h0M397.3 304.4h0M397.2 305.4h0M397.1 305.8h0M397.2 306.9h0M397.2 309h0M397.4 309.7h0M397.1 310.9h0M397.3 311.6h0M397.5 312.4h0M398 312h0M398.1 310.9h0M398.1 310.8h0M398 309h0M398 308.7h0M398.3 306.6h0M398.4 305h0M398.3 304.8h0M398.3 303.2h0M398.1 302.5h0M398.5 302.5h0M398.3 300.7h0M398.4 299.4h0M398.6 299.2h0M398.7 300.1h0M398.7 301.6h0M398.6 302.3h0M398.5 303.1h0M398.6 304.3h0M398.8 304.5h0M398.8 305.5h0M398.8 305.6h0M398.6 307.3h0M398.9 309.4h0M398.9 310.2h0M398.9 310.3h0M398.8 311.8h0M399.1 312.4h0M399.4 313h0M400 313h0M400.8 313.3h0M401.2 313.2h0M401.4 312.1h0M401.6 311.3h0M401.6 309.4h0M401.8 308.7h0M401.8 307.6h0M401.7 306.8h0M401.8 305.4h0M401.7 304.8h0M401.8 302.9h0M401.7 302.2h0M401.7 301h0M401.8 299.4h0M402 298.6h0M401.7 297h0M402.1 295.5h0M402.1 293.7h0M401.8 292.4h0M401.9 290.9h0M401.9 290.2h0M402.1 289.5h0M401.8 288.6h0M402.1 287h0M401.9 288.7h0M402 288.8h0M402.1 290.5h0M402.3 291.8h0M402.3 293h0M402.2 293.5h0M402.1 295h0M402.1 296.4h0M402.2 297.7h0M402.2 300.1h0M402.2 301h0M402.5 301.7h0M402.4 303.5h0M402.2 305h0M402.5 305.1h0M402.6 306.6h0M402.5 307.1h0M402.3 309.1h0M402.6 309.6h0M402.4 310.9h0M402.5 311.4h0M402.8 312.5h0M403 313.3h0M403.6 312.4h0M403.8 311.4h0M403.7 309.9h0M403.7 309.4h0M403.7 308.7h0M403.7 307.9h0M403.7 306.3h0M403.9 305h0M403.9 305h0M404.1 303.5h0M404 304.9h0M404.3 305.1h0M404.1 306.7h0M404.3 307.4h0M404.4 308.9h0M404.4 310.2h0M404.4 310.7h0M404.3 311.2h0M404.4 312.7h0M404.7 312.8h0M405.4 313.5h0M406.2 313.7h0M406.9 313.4h0M407.8 313.5h0M408.4 313.4h0M409.2 313.1h0M409.9 313.1h0M410.2 312.1h0M410 311.9h0M410.2 311.4h0M410.1 309.9h0M410.4 309.2h0M410.3 308h0M410.6 308.3h0M410.5 309.6h0M410.9 310.5h0M410.7 311.8h0M410.9 312.6h0M411 313h0M411.6 313.9h0M412.5 313.3h0M413.2 313.6h0M413.9 313.4h0M414.7 313.2h0M415.6 313.3h0M416.2 313.9h0M417 313.2h0M417.3 312h0M417.4 311.6h0M417.6 310.5h0M417.6 310.2h0M417.7 308.8h0M417.6 308.4h0M417.9 306.9h0M417.9 306h0M418 306.6h0M417.9 307.7h0M418 309.2h0M418.3 309.4h0M418.3 310.5h0M418.2 311.2h0M418.4 312.4h0M418.5 313.4h0M419.1 312.5h0M419.3 311.6h0M419.3 310.5h0M419.2 309.5h0M419.5 308.9h0M419.2 307h0M419.5 306.7h0M419.6 306.3h0M419.3 305.3h0M419.7 304.3h0M419.7 303h0M419.6 302.3h0M419.6 301.4h0M419.7 300h0M419.7 299.4h0M419.8 298.2h0M419.7 298h0M419.7 296.5h0M419.6 295.1h0M419.7 296.5h0M419.6 297.8h0M419.7 298h0M419.8 299.3h0M419.9 300.7h0M419.8 300.7h0M420 302.2h0M420.1 303.4h0M419.8 303.9h0M419.8 304.9h0M419.9 306.3h0M420.1 306.3h0M420.2 308h0M420 309.2h0M420.2 310.1h0M420.1 310.9h0M420.3 311.4h0M420.2 312h0M420.5 313.5h0M421.3 313.1h0M421.5 312.3h0M421.5 310.5h0M421.7 310h0M421.6 309.2h0M421.7 308.6h0M421.8 306.6h0M421.7 306h0M421.7 304.9h0M421.8 304.8h0M421.9 303.1h0M422 302.9h0M421.8 301.5h0M421.7 301.2h0M421.8 300.5h0M422 299.1h0M422 297.5h0M421.9 298.9h0M421.9 300.1h0M422.2 300.4h0M422.1 301.7h0M422.1 302.2h0M422.2 303h0M422.1 303.9h0M422.4 305.6h0M422.1 306h0M422.2 306.1h0M422.2 308.3h0M422.2 309.9h0M422.3 310.1h0M422.6 310.6h0M422.3 311.8h0M422.5 312.5h0M423.1 313.9h0M423.8 312.9h0M424.5 313.9h0M425.3 312.6h0M425.4 312h0M425.5 311.3h0M425.6 310.8h0M425.4 309.3h0M425.8 309.3h0M425.8 307.4h0M425.8 306.2h0M425.8 305.3h0M425.9 305.1h0M425.8 304h0M426.1 305.2h0M426.1 305.8h0M426 306.9h0M426 307.7h0M426 308.3h0M426.2 309.7h0M426.1 311.1h0M426.2 311.6h0M426.3 312h0M426.7 313.4h0M427.3 313.2h0M428.1 314h0M428.9 313h0M429.2 312.4h0M429.3 312.2h0M429.3 311.1h0M429.5 310.3h0M429.4 309.3h0M429.8 307.6h0M429.6 306.9h0M429.6 305.8h0M429.9 303.7h0M429.8 302.5h0M429.8 302h0M430.1 303.2h0M430.2 304.5h0M430.1 305.2h0M430.1 306.2h0M430 308.4h0M430.3 308.6h0M430.2 309.9h0M430.3 310.9h0M430.2 312.2h0M430.3 312.8h0M430.6 313.8h0M431.3 313.6h0M432.2 313.2h0M432.7 313.9h0M433.7 313.9h0M434.5 313.2h0M435.3 313.7h0M436.1 313.6h0M436.8 313h0M437.4 313.6h0M438.3 313.2h0M438.3 313h0M438.4 312.2h0M438.5 311.2h0M438.7 309.6h0M438.7 308.5h0M438.8 307.4h0M438.9 306.6h0M438.9 307.9h0M439 309.3h0M439.1 309.6h0M439.3 311.4h0M439.2 312h0M439.2 313.1h0M439.4 312.7h0M440 313.6h0M441 313.3h0M441.7 313.5h0M442.5 313.2h0M443.3 313.8h0M443.9 314h0M444.4 312.8h0M444.5 312.2h0M444.7 311.2h0M444.8 310.3h0M444.9 311.7h0M445.1 311.8h0M445.3 312.6h0M445.7 313.4h0M446.2 313.7h0M447.1 313.2h0M448.1 314.1h0M448.7 314h0M449.5 313.4h0M450.1 313.7h0M450.9 313.9h0M451.8 313.3h0M452.7 314.2h0M453.3 314.2h0M454.1 313h0M454.9 313.4h0M455.8 313.6h0M456.6 313.2h0M457.2 313h0M457.8 313.8h0M458.6 313.2h0M459.4 313.6h0M459.5 311.6h0M459.7 311.5h0M459.6 310.9h0M460 310.1h0M460.1 310.5h0M460.1 310.8h0M460.2 311.9h0M460.2 312.7h0M460.5 313.9h0M461.6 313h0M462.2 313h0M463 313.2h0M464 313.4h0M464.6 313.3h0M465.5 312.8h0M465.5 312.3h0M465.8 311.5h0M465.9 310.7h0M465.9 311.6h0M466 312.2h0M466.3 313.4h0M467 313.2h0M467.9 313.5h0M468.6 313.8h0M469.3 313h0M470 313.9h0M471 313.2h0M471.7 313.4h0M472.7 313.5h0M473.4 313.1h0M473.9 313.3h0M474.9 313.5h0M475.7 313.7h0M475.9 313.1h0M476.1 312.2h0M476.1 312.4h0M476.3 313.4h0M477.1 313.1h0M477.8 313.5h0M478.7 313.5h0M479.5 313.8h0M480.3 313.8h0M481 313.2h0M481.9 313h0M482.5 313.2h0M483.4 313.7h0M484 313.6h0M484.9 313.8h0M485.5 313.9h0M486.4 313.5h0M487.1 314h0M488 314h0M488.8 313.1h0M489.4 312.7h0M489.5 312.8h0M489.6 311.6h0M489.9 312.8h0M490.4 312.6h0M490.8 314.1h0M491.6 313.4h0M492.6 314.1h0M493.2 313.8h0M494.1 313.4h0M494.6 313.4h0M495.6 314.2h0M496.3 313.5h0M497.1 313.7h0M497.7 314.1h0M498.8 313h0M499.2 313.4h0M500.1 313.9h0M501.1 313.7h0M501.9 313.3h0M502.4 313.4h0M503.3 313h0M503.7 313h0M504 312.9h0M504.7 313.5h0M505.6 313.9h0M506.5 313.1h0M507 313.5h0M508 313.5h0M508.7 314h0M509.4 313.5h0M510.3 313.8h0M511.1 313.3h0M511.9 313.6h0M512.6 313.8h0M513.3 314h0M513.9 313.3h0M514.8 314h0M515.5 313.9h0M516.2 313.4h0M517.2 313.9h0M517.9 314h0M518.8 313.5h0M519.5 313.5h0M520.4 313.4h0M520.9 313.3h0M521.7 314h0M522.7 313.3h0M523.3 314.1h0M524.3 313.3h0M525.1 313.1h0M525.9 313.4h0M526.6 313h0M527.3 314.1h0M528.1 313.7h0M528.7 313.3h0M529.7 314h0M530.2 313.4h0M531.2 313.4h0" stroke="#000" stroke-width="3.1" stroke-linecap="round" fill="none"/>
<polyline points="383.7,313 384,309.9 384.4,294.1 384.8,309.4 385,312.8 385.3,313.2 386,313.5 387.4,313.5 388,313.3 388.6,307.6 389.1,313.1 389.3,313.4 389.9,313.5 390.6,313.1 390.9,294 391.2,313 391.4,313.3 391.7,313.2 392,312.3 392.5,301.6 393.1,313 393.5,313.4 394.9,313.5 396.3,313.4 396.7,313 396.9,308.6 397.1,278.4 397.3,310.1 397.3,312.4 397.6,313 397.9,312.7 398.1,311.1 398.5,298 399,312.6 399.4,313.2 400.5,313.4 401.2,313 401.5,312.3 402.1,287.1 402.5,310.4 402.7,312.4 403.1,313 403.4,312.8 403.6,311.9 404,303.5 404.4,311.7 404.8,313.3 407.4,313.6 409.8,313.3 410.1,312.3 410.5,307.3 410.8,312.3 411.1,313.3 413.9,313.6 417.1,313.3 417.5,312.1 417.9,305.5 418.3,312.5 418.5,313.1 418.9,313 419.3,310.3 419.7,295.5 420.1,311.4 420.3,312.8 420.8,313.2 421.4,312.9 421.6,311.6 422,297.5 422.5,311.9 422.7,313.1 423.5,313.4 424.9,313.4 425.4,312.9 425.9,303.6 426.5,313 426.8,313.4 427.6,313.5 428.7,313.4 429.2,313.1 429.5,311.1 429.9,301.6 430.3,312.3 430.6,313.2 431.3,313.5 436.8,313.6 438.2,313.4 438.5,312.2 438.9,306.6 439.4,312.9 439.6,313.4 440.3,313.5 444.3,313.4 444.8,310.1 445.3,313 445.6,313.5 459,313.5 459.5,313 459.9,309.6 460.3,313.2 460.5,313.5 461.1,313.6 465.2,313.5 465.9,310.6 466.3,313.3 467.1,313.6 475.3,313.5 475.6,313.2 476,311.6 476.4,313.2 476.8,313.5 489,313.6 489.5,313.3 489.9,311.6 490.3,313.3 490.9,313.6 503,313.6 503.3,313.3 503.7,312.1 504.1,313.4 504.6,313.6 531.4,313.6" stroke="#b80000" stroke-width="0.7" fill="none" stroke-linejoin="round"/>
</g>
<rect x="383.7" y="252.9" width="147.7" height="86.4" fill="none" stroke="#8a8a8a" stroke-width="0.8"/>
<path d="M383.7 339.3v-1.2M383.7 252.9v1.2M388.3 339.3v-1.2M388.3 252.9v1.2M392.9 339.3v-1.8M392.9 252.9v1.8M397.5 339.3v-1.2M397.5 252.9v1.2M402.2 339.3v-1.2M402.2 252.9v1.2M406.8 339.3v-1.2M406.8 252.9v1.2M411.4 339.3v-1.2M411.4 252.9v1.2M416 339.3v-1.8M416 252.9v1.8M420.6 339.3v-1.2M420.6 252.9v1.2M425.2 339.3v-1.2M425.2 252.9v1.2M429.9 339.3v-1.2M429.9 252.9v1.2M434.5 339.3v-1.2M434.5 252.9v1.2M439.1 339.3v-1.8M439.1 252.9v1.8M443.7 339.3v-1.2M443.7 252.9v1.2M448.3 339.3v-1.2M448.3 252.9v1.2M452.9 339.3v-1.2M452.9 252.9v1.2M457.5 339.3v-1.2M457.5 252.9v1.2M462.2 339.3v-1.8M462.2 252.9v1.8M466.8 339.3v-1.2M466.8 252.9v1.2M471.4 339.3v-1.2M471.4 252.9v1.2M476 339.3v-1.2M476 252.9v1.2M480.6 339.3v-1.2M480.6 252.9v1.2M485.2 339.3v-1.8M485.2 252.9v1.8M489.9 339.3v-1.2M489.9 252.9v1.2M494.5 339.3v-1.2M494.5 252.9v1.2M499.1 339.3v-1.2M499.1 252.9v1.2M503.7 339.3v-1.2M503.7 252.9v1.2M508.3 339.3v-1.8M508.3 252.9v1.8M512.9 339.3v-1.2M512.9 252.9v1.2M517.6 339.3v-1.2M517.6 252.9v1.2M522.2 339.3v-1.2M522.2 252.9v1.2M526.8 339.3v-1.2M526.8 252.9v1.2M531.4 339.3v-1.8M531.4 252.9v1.8" stroke="#777" stroke-width="0.7"/>
<text x="392.9" y="349.6" font-size="7.0" text-anchor="middle" fill="#111" >20</text>
<text x="416" y="349.6" font-size="7.0" text-anchor="middle" fill="#111" >25</text>
<text x="439.1" y="349.6" font-size="7.0" text-anchor="middle" fill="#111" >30</text>
<text x="462.2" y="349.6" font-size="7.0" text-anchor="middle" fill="#111" >35</text>
<text x="485.2" y="349.6" font-size="7.0" text-anchor="middle" fill="#111" >40</text>
<text x="508.3" y="349.6" font-size="7.0" text-anchor="middle" fill="#111" >45</text>
<text x="531.4" y="349.6" font-size="7.0" text-anchor="middle" fill="#111" >50</text>
<text x="467.5" y="363.6" font-size="7.65" text-anchor="middle" fill="#111" >Diffraction angle 2&#952; (deg)</text>
<text transform="translate(379.7 285) rotate(-90)" font-size="6.8" text-anchor="middle" fill="#111">Intensity (arb.units)</text>
<rect x="457.7" y="255.4" width="66" height="34" fill="#fff" stroke="#8a8a8a" stroke-width="0.7"/>
<circle cx="471.9" cy="263.7" r="1.2" fill="#000"/>
<path d="M462.3 272.2h18.6" stroke="#e87070" stroke-width="0.6"/>
<path d="M462.1 280.2h17" stroke="#9a9ae6" stroke-width="0.9" stroke-dasharray="4.2,2.3"/>
<text x="484.5" y="266.1" font-size="6.8" text-anchor="start" fill="#111" >Observed</text>
<text x="484.5" y="274.3" font-size="6.8" text-anchor="start" fill="#111" >Calculated</text>
<text x="484.5" y="282.5" font-size="6.8" text-anchor="start" fill="#111" >Residual</text>
</svg></body></html>
